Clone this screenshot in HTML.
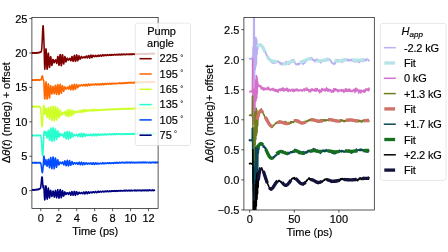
<!DOCTYPE html>
<html lang="en"><head><meta charset="utf-8"><title>Pump angle and applied field dependence</title>
<style>
html,body{margin:0;padding:0;background:#fff;}
body{width:448px;height:252px;overflow:hidden;font-family:"Liberation Sans",sans-serif;}
svg{display:block;}
</style></head><body>
<svg width="448" height="252" viewBox="0 0 448 252" font-family="Liberation Sans, sans-serif" font-size="11" fill="#000" stroke="#000" stroke-width="0.16" paint-order="stroke">
<rect x="0" y="0" width="448" height="252" fill="#fff" stroke="none"/>
<defs><clipPath id="cl"><rect x="31.90" y="17.60" width="126.20" height="191.00"/></clipPath>
<clipPath id="cr"><rect x="243.90" y="17.60" width="130.40" height="192.40"/></clipPath></defs>
<g clip-path="url(#cl)" fill="none" stroke-width="1.55" stroke-linejoin="round" stroke-linecap="butt">
<path d="M31.37,189.86L31.48,189.81L31.59,189.90L31.69,189.99L31.80,189.92L31.91,190.00L32.02,189.84L32.13,189.65L32.23,189.92L32.34,189.94L32.45,189.77L32.56,189.79L32.66,189.83L32.77,189.98L32.88,189.85L32.99,189.73L33.10,190.04L33.20,189.90L33.31,190.12L33.42,190.03L33.53,190.11L33.63,189.86L33.74,190.01L33.85,189.78L33.96,189.79L34.06,189.84L34.17,190.19L34.28,189.89L34.39,189.81L34.50,189.78L34.60,190.03L34.71,189.86L34.82,189.93L34.93,189.90L35.03,189.61L35.14,189.89L35.25,189.77L35.36,189.62L35.47,189.84L35.57,189.76L35.68,189.72L35.79,189.72L35.90,189.91L36.00,189.70L36.11,189.50L36.22,189.93L36.33,189.55L36.44,189.65L36.54,189.76L36.65,189.35L36.76,189.52L36.87,189.81L36.97,189.60L37.08,189.51L37.19,189.61L37.30,189.46L37.41,189.56L37.51,189.43L37.62,189.29L37.73,189.59L37.84,189.43L37.94,189.51L38.05,189.40L38.16,189.57L38.27,189.45L38.38,189.37L38.48,189.17L38.59,189.10L38.70,189.44L38.81,189.33L38.91,189.07L39.02,189.43L39.13,189.16L39.24,189.06L39.35,188.81L39.45,188.84L39.56,188.94L39.67,188.89L39.78,188.81L39.88,188.47L39.99,188.69L40.10,188.58L40.21,188.36L40.32,188.28L40.42,188.09L40.53,187.96L40.64,187.44L40.75,187.04L40.85,186.20L40.96,185.53L41.07,184.72L41.18,183.56L41.28,182.55L41.39,181.10L41.50,180.02L41.61,178.77L41.72,178.06L41.82,177.07L41.93,176.93L42.04,176.98L42.15,177.13L42.25,177.94L42.36,178.76L42.47,179.64L42.58,181.48L42.69,182.97L42.79,184.45L42.90,185.95L43.01,187.25L43.12,187.79L43.22,187.44L43.33,186.80L43.44,186.31L43.55,185.70L43.66,185.67L43.76,186.33L43.87,187.13L43.98,188.75L44.09,190.27L44.19,192.37L44.30,194.41L44.41,196.41L44.52,197.94L44.63,199.40L44.73,199.91L44.84,199.75L44.95,199.60L45.06,198.08L45.16,196.96L45.27,194.76L45.38,193.01L45.49,190.79L45.60,189.08L45.70,187.86L45.81,186.41L45.92,185.87L46.03,186.16L46.13,186.80L46.24,187.89L46.35,189.51L46.46,190.96L46.57,193.09L46.67,194.86L46.78,196.62L46.89,197.93L47.00,198.95L47.10,199.01L47.21,199.16L47.32,198.44L47.43,197.62L47.54,196.42L47.64,194.85L47.75,193.29L47.86,191.66L47.97,190.35L48.07,189.25L48.18,188.69L48.29,188.29L48.40,188.03L48.50,188.90L48.61,189.84L48.72,190.78L48.83,191.94L48.94,193.76L49.04,194.92L49.15,196.17L49.26,197.28L49.37,197.52L49.47,197.89L49.58,197.77L49.69,197.46L49.80,196.55L49.91,195.76L50.01,194.64L50.12,193.69L50.23,192.69L50.34,191.42L50.44,191.03L50.55,190.49L50.66,190.40L50.77,190.59L50.88,190.98L50.98,191.39L51.09,192.26L51.20,193.05L51.31,193.86L51.41,194.46L51.52,195.21L51.63,195.78L51.74,196.27L51.85,196.54L51.95,196.13L52.06,195.87L52.17,195.62L52.28,194.96L52.38,194.27L52.49,193.56L52.60,192.85L52.71,192.42L52.82,191.59L52.92,191.63L53.03,191.12L53.14,191.19L53.25,191.36L53.35,191.63L53.46,192.27L53.57,193.38L53.68,194.24L53.79,194.64L53.89,195.65L54.00,196.11L54.11,196.42L54.22,197.02L54.32,197.08L54.43,196.47L54.54,196.02L54.65,195.38L54.75,194.52L54.86,193.75L54.97,192.94L55.08,191.90L55.19,191.34L55.29,190.95L55.40,190.39L55.51,190.52L55.62,190.77L55.72,191.55L55.83,192.29L55.94,193.27L56.05,194.26L56.16,195.10L56.26,196.16L56.37,196.74L56.48,197.26L56.59,197.25L56.69,197.72L56.80,197.01L56.91,196.53L57.02,195.65L57.13,194.84L57.23,193.59L57.34,192.31L57.45,191.44L57.56,190.61L57.66,190.12L57.77,189.65L57.88,189.91L57.99,190.65L58.10,191.13L58.20,192.27L58.31,193.58L58.42,194.35L58.53,195.24L58.63,196.48L58.74,197.50L58.85,198.02L58.96,197.94L59.07,197.97L59.17,197.53L59.28,196.79L59.39,195.78L59.50,194.50L59.60,193.32L59.71,192.20L59.82,191.36L59.93,190.31L60.04,189.98L60.14,189.52L60.25,190.04L60.36,190.35L60.47,191.10L60.57,192.27L60.68,192.91L60.79,194.08L60.90,195.45L61.01,196.18L61.11,196.94L61.22,197.82L61.33,197.50L61.44,197.36L61.54,196.87L61.65,196.34L61.76,195.34L61.87,194.36L61.97,193.16L62.08,192.37L62.19,191.65L62.30,190.83L62.41,190.80L62.51,190.69L62.62,191.07L62.73,190.95L62.84,191.63L62.94,192.36L63.05,193.19L63.16,194.07L63.27,194.79L63.38,195.48L63.48,195.93L63.59,196.14L63.70,195.95L63.81,195.92L63.91,195.66L64.02,195.24L64.13,194.65L64.24,193.68L64.35,193.23L64.45,192.75L64.56,192.37L64.67,192.19L64.78,191.88L64.88,191.75L64.99,192.08L65.10,192.31L65.21,192.64L65.32,192.97L65.42,193.62L65.53,193.77L65.64,194.16L65.75,194.13L65.85,194.52L65.96,194.36L66.07,194.19L66.18,194.37L66.29,194.25L66.39,193.94L66.50,193.76L66.61,193.71L66.72,193.30L66.82,192.90L66.93,193.11L67.04,193.01L67.15,193.08L67.26,192.86L67.36,193.12L67.47,193.16L67.58,192.90L67.69,193.36L67.79,193.21L67.90,193.32L68.01,193.68L68.12,193.80L68.22,193.72L68.33,194.15L68.44,194.25L68.55,194.36L68.66,194.07L68.76,193.72L68.87,193.60L68.98,193.65L69.09,193.36L69.19,193.03L69.30,192.65L69.41,192.51L69.52,192.30L69.63,192.21L69.73,192.33L69.84,192.41L69.95,192.59L70.06,192.94L70.16,193.20L70.27,193.38L70.38,193.95L70.49,194.38L70.60,194.91L70.70,194.77L70.81,195.18L70.92,195.03L71.03,194.49L71.13,194.22L71.24,193.96L71.35,193.76L71.46,193.10L71.57,192.70L71.67,192.11L71.78,191.56L71.89,191.68L72.00,191.77L72.10,191.91L72.21,191.97L72.32,192.33L72.43,192.91L72.54,193.22L72.64,193.93L72.75,194.08L72.86,194.52L72.97,194.84L73.07,195.27L73.18,195.17L73.29,195.16L73.40,194.94L73.51,194.54L73.61,194.19L73.72,193.67L73.83,192.76L73.94,192.38L74.04,191.87L74.15,191.41L74.26,191.63L74.37,191.45L74.48,191.43L74.58,191.68L74.69,192.21L74.80,192.50L74.91,193.18L75.01,193.95L75.12,194.41L75.23,194.57L75.34,194.91L75.44,195.42L75.55,194.92L75.66,194.88L75.77,194.48L75.88,194.34L75.98,193.87L76.09,193.50L76.20,192.46L76.31,192.45L76.41,191.84L76.52,191.94L76.63,191.71L76.74,192.00L76.85,191.94L76.95,191.97L77.06,192.63L77.17,192.64L77.28,193.13L77.38,193.71L77.49,193.94L77.60,194.19L77.71,194.30L77.82,194.44L77.92,194.46L78.03,194.26L78.14,194.17L78.25,193.95L78.35,193.48L78.46,193.05L78.57,193.14L78.68,192.68L78.79,192.61L78.89,192.56L79.00,192.25L79.11,192.49L79.22,192.27L79.32,192.74L79.43,192.72L79.54,192.98L79.65,193.22L79.76,193.15L79.86,193.38L79.97,193.34L80.08,193.49L80.19,193.65L80.29,193.48L80.40,193.40L80.51,193.19L80.62,193.38L80.73,193.15L80.83,193.30L80.94,192.84L81.05,193.00L81.16,193.03L81.26,192.69L81.37,192.47L81.48,192.85L81.59,192.80L81.69,192.79L81.80,192.93L81.91,192.80L82.02,193.10L82.13,193.22L82.23,193.16L82.34,193.48L82.45,193.40L82.56,193.67L82.66,193.72L82.77,193.78L82.88,193.13L82.99,193.32L83.10,193.06L83.20,192.89L83.31,192.65L83.42,192.46L83.53,192.00L83.63,192.31L83.74,192.30L83.85,192.21L83.96,192.31L84.07,192.12L84.17,192.28L84.28,192.77L84.39,193.07L84.50,193.16L84.60,193.12L84.71,193.95L84.82,193.58L84.93,193.89L85.04,193.56L85.14,193.80L85.25,193.52L85.36,193.49L85.47,193.15L85.57,192.51L85.68,192.31L85.79,192.23L85.90,192.08L86.01,192.08L86.11,191.77L86.22,191.72L86.33,191.81L86.44,191.98L86.54,192.36L86.65,192.46L86.76,192.75L86.87,192.83L86.98,192.99L87.08,193.49L87.19,193.71L87.30,193.65L87.41,193.69L87.51,193.60L87.62,193.31L87.73,193.23L87.84,192.72L87.95,192.57L88.05,192.27L88.16,192.12L88.27,192.04L88.38,191.98L88.48,191.84L88.59,191.92L88.70,191.88L88.81,192.05L88.91,192.42L89.02,192.38L89.13,192.77L89.24,192.82L89.35,192.90L89.45,193.25L89.56,192.97L89.67,192.96L89.78,192.97L89.88,192.93L89.99,192.83L90.10,192.80L90.21,192.56L90.32,192.48L90.42,192.27L90.53,192.37L90.64,192.07L90.75,192.04L90.85,192.06L90.96,192.11L91.07,191.99L91.18,192.37L91.29,192.12L91.39,192.24L91.50,192.32L91.61,192.40L91.72,192.63L91.82,192.64L91.93,192.54L92.04,192.58L92.15,192.60L92.26,192.82L92.36,192.44L92.47,192.25L92.58,192.16L92.69,192.17L92.79,192.33L92.90,191.84L93.01,191.92L93.12,192.22L93.23,191.75L93.33,192.03L93.44,192.04L93.55,192.00L93.66,191.79L93.76,192.14L93.87,192.16L93.98,192.04L94.09,192.16L94.20,192.50L94.30,192.57L94.41,192.74L94.52,192.64L94.63,192.41L94.73,192.33L94.84,192.26L94.95,192.00L95.06,192.13L95.16,191.89L95.27,191.65L95.38,191.57L95.49,191.43L95.60,191.50L95.70,191.62L95.81,191.56L95.92,191.85L96.03,192.05L96.13,191.84L96.24,192.07L96.35,192.14L96.46,192.55L96.57,192.44L96.67,192.52L96.78,192.58L96.89,192.76L97.00,192.41L97.10,192.12L97.21,192.08L97.32,192.09L97.43,191.86L97.54,191.61L97.64,192.02L97.75,191.53L97.86,191.38L97.97,191.33L98.07,191.19L98.18,191.33L98.29,191.54L98.40,191.64L98.51,191.68L98.61,192.00L98.72,192.04L98.83,191.99L98.94,191.90L99.04,192.26L99.15,192.24L99.26,192.18L99.37,191.94L99.48,192.07L99.58,191.73L99.69,191.99L99.80,191.75L99.91,191.64L100.01,191.40L100.12,191.29L100.23,191.64L100.34,191.53L100.45,191.36L100.55,191.55L100.66,191.75L100.77,191.44L100.88,191.61L100.98,191.70L101.09,191.93L101.20,191.76L101.31,192.00L101.42,191.82L101.52,192.13L101.63,192.09L101.74,191.88L101.85,191.95L101.95,191.67L102.06,191.64L102.17,191.74L102.28,191.51L102.38,191.50L102.49,191.26L102.60,191.46L102.71,191.42L102.82,191.18L102.92,191.06L103.03,191.14L103.14,191.49L103.25,191.53L103.35,191.39L103.46,191.70L103.57,191.88L103.68,191.75L103.79,191.72L103.89,191.91L104.00,192.02L104.11,191.95L104.22,191.57L104.32,191.72L104.43,191.56L104.54,191.43L104.65,191.30L104.76,191.39L104.86,191.22L104.97,191.40L105.08,191.31L105.19,191.42L105.29,191.12L105.40,191.33L105.51,191.49L105.62,191.49L105.73,191.53L105.83,191.44L105.94,191.83L106.05,191.78L106.16,191.69L106.26,191.25L106.37,191.47L106.48,191.59L106.59,191.42L106.70,191.15L106.80,191.44L106.91,191.39L107.02,191.09L107.13,191.15L107.23,191.08L107.34,191.23L107.45,190.86L107.56,190.90L107.67,191.09L107.77,191.11L107.88,191.57L107.99,191.22L108.10,191.39L108.20,191.35L108.31,191.35L108.42,191.53L108.53,191.74L108.63,191.43L108.74,191.58L108.85,191.48L108.96,191.48L109.07,191.38L109.17,191.62L109.28,191.03L109.39,191.12L109.50,190.94L109.60,190.77L109.71,191.05L109.82,191.32L109.93,191.19L110.04,191.26L110.14,191.18L110.25,191.14L110.36,191.50L110.47,191.19L110.57,191.51L110.68,191.27L110.79,191.36L110.90,191.40L111.01,191.36L111.11,191.41L111.22,191.39L111.33,191.51L111.44,191.21L111.54,190.87L111.65,190.79L111.76,190.84L111.87,190.89L111.98,191.07L112.08,190.73L112.19,190.95L112.30,190.96L112.41,191.02L112.51,190.99L112.62,191.11L112.73,191.10L112.84,191.29L112.95,191.23L113.05,190.85L113.16,191.23L113.27,191.27L113.38,191.14L113.48,191.10L113.59,191.34L113.70,191.17L113.81,190.95L113.92,190.99L114.02,190.97L114.13,190.70L114.24,191.00L114.35,190.86L114.45,190.93L114.56,190.62L114.67,191.15L114.78,190.98L114.89,190.99L114.99,190.84L115.10,190.89L115.21,190.81L115.32,191.30L115.42,190.98L115.53,191.15L115.64,191.22L115.75,191.03L115.85,191.23L115.96,191.38L116.07,191.08L116.18,191.21L116.29,191.03L116.39,190.83L116.50,190.80L116.61,190.57L116.72,190.81L116.82,191.00L116.93,190.88L117.04,190.91L117.15,190.98L117.26,190.76L117.36,190.96L117.47,191.20L117.58,190.83L117.69,190.98L117.79,190.94L117.90,191.00L118.01,190.92L118.12,191.01L118.23,190.81L118.33,190.90L118.44,190.87L118.55,190.83L118.66,191.07L118.76,190.82L118.87,190.80L118.98,190.69L119.09,190.91L119.20,190.44L119.30,190.67L119.41,190.88L119.52,190.98L119.63,190.79L119.73,190.79L119.84,190.93L119.95,190.84L120.06,190.98L120.17,190.83L120.27,191.04L120.38,190.94L120.49,190.78L120.60,190.52L120.70,191.04L120.81,190.92L120.92,190.94L121.03,190.65L121.14,190.90L121.24,190.76L121.35,190.66L121.46,190.78L121.57,190.77L121.67,190.70L121.78,190.95L121.89,190.88L122.00,190.75L122.10,190.70L122.21,190.78L122.32,191.06L122.43,190.89L122.54,190.73L122.64,190.78L122.75,190.88L122.86,191.00L122.97,190.75L123.07,190.91L123.18,190.96L123.29,190.87L123.40,190.49L123.51,190.64L123.61,190.46L123.72,190.68L123.83,190.44L123.94,190.67L124.04,190.60L124.15,190.21L124.26,190.49L124.37,190.71L124.48,190.68L124.58,190.66L124.69,190.56L124.80,190.85L124.91,191.06L125.01,190.85L125.12,190.81L125.23,190.79L125.34,190.59L125.45,190.72L125.55,190.61L125.66,190.87L125.77,190.53L125.88,190.31L125.98,190.47L126.09,190.52L126.20,190.52L126.31,190.27L126.42,190.68L126.52,190.57L126.63,190.50L126.74,190.49L126.85,190.70L126.95,190.62L127.06,190.74L127.17,190.71L127.28,190.77L127.39,190.94L127.49,190.77L127.60,190.63L127.71,190.89L127.82,190.76L127.92,190.59L128.03,190.82L128.14,190.59L128.25,190.74L128.36,190.38L128.46,190.17L128.57,190.20L128.68,190.53L128.79,190.39L128.89,190.50L129.00,190.52L129.11,190.33L129.22,190.79L129.32,190.47L129.43,190.66L129.54,190.47L129.65,190.68L129.76,190.82L129.86,190.68L129.97,190.60L130.08,190.69L130.19,190.60L130.29,190.72L130.40,190.93L130.51,190.44L130.62,190.43L130.73,190.49L130.83,190.48L130.94,190.31L131.05,190.53L131.16,190.57L131.26,190.51L131.37,190.32L131.48,190.74L131.59,190.37L131.70,190.68L131.80,190.78L131.91,190.45L132.02,190.68L132.13,190.87L132.23,190.73L132.34,190.53L132.45,190.47L132.56,190.69L132.67,190.54L132.77,190.46L132.88,190.63L132.99,190.45L133.10,190.48L133.20,190.53L133.31,190.51L133.42,190.42L133.53,190.43L133.64,190.53L133.74,190.53L133.85,190.32L133.96,190.49L134.07,190.42L134.17,190.40L134.28,190.51L134.39,190.28L134.50,190.75L134.61,190.51L134.71,190.67L134.82,190.33L134.93,190.33L135.04,190.85L135.14,190.67L135.25,190.39L135.36,190.34L135.47,190.32L135.57,190.42L135.68,190.33L135.79,190.30L135.90,190.41L136.01,190.26L136.11,190.77L136.22,190.36L136.33,190.64L136.44,190.37L136.54,190.58L136.65,190.70L136.76,190.52L136.87,190.73L136.98,190.73L137.08,190.82L137.19,190.57L137.30,190.47L137.41,190.36L137.51,190.51L137.62,190.30L137.73,190.42L137.84,190.42L137.95,190.29L138.05,190.21L138.16,190.42L138.27,190.41L138.38,190.41L138.48,190.39L138.59,190.56L138.70,190.30L138.81,190.54L138.92,190.44L139.02,190.65L139.13,190.49L139.24,190.49L139.35,190.62L139.45,190.24L139.56,190.47L139.67,190.24L139.78,190.34L139.89,190.55L139.99,190.48L140.10,190.33L140.21,190.36L140.32,190.34L140.42,190.38L140.53,190.61L140.64,190.38L140.75,190.69L140.86,190.32L140.96,190.51L141.07,190.53L141.18,190.48L141.29,190.43L141.39,190.71L141.50,190.77L141.61,190.68L141.72,190.83L141.83,190.66L141.93,190.25L142.04,190.63L142.15,190.35L142.26,190.63L142.36,190.34L142.47,190.41L142.58,190.35L142.69,190.24L142.79,190.05L142.90,190.28L143.01,190.30L143.12,190.48L143.23,190.26L143.33,190.41L143.44,190.27L143.55,190.43L143.66,190.18L143.76,190.77L143.87,190.52L143.98,190.35L144.09,190.54L144.20,190.60L144.30,190.50L144.41,190.65L144.52,190.40L144.63,190.02L144.73,190.19L144.84,190.50L144.95,190.45L145.06,190.36L145.17,190.14L145.27,190.41L145.38,190.40L145.49,190.17L145.60,190.19L145.70,190.40L145.81,190.54L145.92,190.63L146.03,190.52L146.14,190.78L146.24,190.34L146.35,190.55L146.46,190.38L146.57,190.17L146.67,190.26L146.78,190.59L146.89,190.26L147.00,190.19L147.11,190.45L147.21,190.45L147.32,190.31L147.43,190.52L147.54,190.04L147.64,190.63L147.75,190.44L147.86,190.33L147.97,190.34L148.08,190.30L148.18,190.31L148.29,190.41L148.40,190.22L148.51,190.74L148.61,190.43L148.72,190.54L148.83,190.41L148.94,190.39L149.04,190.55L149.15,190.49L149.26,190.24L149.37,190.29L149.48,190.42L149.58,189.98L149.69,189.92L149.80,190.48L149.91,190.20L150.01,189.87L150.12,190.14L150.23,190.23L150.34,190.32L150.45,190.39L150.55,190.36L150.66,190.44L150.77,190.26L150.88,190.45L150.98,190.47L151.09,190.59L151.20,190.42L151.31,190.54L151.42,190.41L151.52,190.21L151.63,190.29L151.74,190.24L151.85,190.24L151.95,190.26L152.06,190.27L152.17,190.28L152.28,190.12L152.39,190.40L152.49,190.04L152.60,190.25L152.71,190.38L152.82,190.37L152.92,190.42L153.03,190.32L153.14,190.47L153.25,190.20L153.36,190.51L153.46,190.74L153.57,190.50L153.68,190.69L153.79,190.38L153.89,190.19L154.00,190.23L154.11,190.50L154.22,190.39L154.33,189.99L154.43,190.19L154.54,190.22L154.65,190.06L154.76,189.85" stroke="#000080"/>
<path d="M31.37,162.95L31.48,162.82L31.59,162.68L31.69,162.67L31.80,162.83L31.91,162.84L32.02,162.94L32.13,162.75L32.23,162.85L32.34,162.72L32.45,162.55L32.56,162.82L32.66,163.04L32.77,162.95L32.88,163.04L32.99,163.00L33.10,162.62L33.20,162.78L33.31,163.05L33.42,162.72L33.53,162.62L33.63,162.87L33.74,162.92L33.85,162.87L33.96,162.77L34.06,162.72L34.17,162.64L34.28,162.63L34.39,162.64L34.50,162.61L34.60,162.72L34.71,163.05L34.82,162.84L34.93,162.77L35.03,162.87L35.14,162.68L35.25,162.87L35.36,162.96L35.47,162.60L35.57,162.71L35.68,162.78L35.79,162.68L35.90,162.65L36.00,162.76L36.11,163.19L36.22,162.92L36.33,162.88L36.44,162.96L36.54,162.79L36.65,162.64L36.76,162.89L36.87,162.99L36.97,162.51L37.08,162.88L37.19,163.00L37.30,162.78L37.41,162.75L37.51,162.92L37.62,162.70L37.73,162.89L37.84,162.96L37.94,162.79L38.05,162.70L38.16,162.91L38.27,162.77L38.38,162.83L38.48,162.39L38.59,162.92L38.70,162.61L38.81,162.82L38.91,162.83L39.02,162.71L39.13,162.68L39.24,162.62L39.35,162.77L39.45,162.91L39.56,162.90L39.67,162.74L39.78,162.74L39.88,162.62L39.99,162.78L40.10,162.70L40.21,162.66L40.32,162.90L40.42,163.22L40.53,163.27L40.64,163.46L40.75,163.20L40.85,163.84L40.96,163.88L41.07,164.44L41.18,164.83L41.28,165.62L41.39,166.57L41.50,167.45L41.61,168.34L41.72,169.27L41.82,170.29L41.93,171.05L42.04,171.50L42.15,172.51L42.25,172.50L42.36,172.71L42.47,172.34L42.58,171.79L42.69,171.26L42.79,170.28L42.90,169.63L43.01,168.07L43.12,167.02L43.22,165.33L43.33,163.67L43.44,162.22L43.55,160.06L43.66,158.22L43.76,156.73L43.87,156.18L43.98,156.04L44.09,156.74L44.19,157.26L44.30,158.54L44.41,160.32L44.52,161.87L44.63,163.40L44.73,164.02L44.84,164.34L44.95,164.83L45.06,164.57L45.16,164.21L45.27,163.76L45.38,162.59L45.49,162.14L45.60,161.20L45.70,160.46L45.81,159.88L45.92,159.70L46.03,159.70L46.13,160.12L46.24,160.67L46.35,161.13L46.46,162.05L46.57,163.02L46.67,163.89L46.78,164.58L46.89,165.45L47.00,165.86L47.10,166.15L47.21,165.88L47.32,165.61L47.43,164.91L47.54,164.78L47.64,163.83L47.75,162.67L47.86,161.90L47.97,161.00L48.07,159.90L48.18,159.60L48.29,159.37L48.40,159.32L48.50,159.30L48.61,159.85L48.72,160.92L48.83,161.89L48.94,162.84L49.04,164.05L49.15,165.40L49.26,166.21L49.37,166.96L49.47,167.73L49.58,167.55L49.69,167.08L49.80,166.51L49.91,165.71L50.01,164.16L50.12,162.61L50.23,161.06L50.34,160.31L50.44,158.48L50.55,158.24L50.66,157.50L50.77,157.46L50.88,157.92L50.98,158.88L51.09,160.26L51.20,161.42L51.31,163.19L51.41,165.04L51.52,165.68L51.63,167.21L51.74,167.90L51.85,168.75L51.95,168.36L52.06,167.83L52.17,166.90L52.28,165.84L52.38,164.46L52.49,162.62L52.60,161.26L52.71,159.67L52.82,158.16L52.92,157.47L53.03,156.94L53.14,157.03L53.25,157.30L53.35,158.41L53.46,159.97L53.57,161.37L53.68,163.35L53.79,164.92L53.89,166.18L54.00,167.66L54.11,168.28L54.22,168.75L54.32,168.38L54.43,167.55L54.54,166.93L54.65,165.50L54.75,164.21L54.86,162.72L54.97,161.28L55.08,159.61L55.19,158.49L55.29,158.15L55.40,158.11L55.51,158.08L55.62,158.79L55.72,159.50L55.83,160.69L55.94,161.94L56.05,163.18L56.16,164.57L56.26,165.59L56.37,166.58L56.48,166.88L56.59,167.19L56.69,166.83L56.80,166.48L56.91,165.59L57.02,164.62L57.13,163.88L57.23,162.75L57.34,161.81L57.45,160.75L57.56,160.01L57.66,159.80L57.77,159.91L57.88,159.82L57.99,160.69L58.10,160.82L58.20,161.85L58.31,162.91L58.42,162.81L58.53,163.60L58.63,164.49L58.74,164.64L58.85,164.86L58.96,164.80L59.07,164.88L59.17,164.47L59.28,163.94L59.39,163.58L59.50,163.04L59.60,162.85L59.71,162.22L59.82,162.48L59.93,162.21L60.04,162.50L60.14,162.44L60.25,162.14L60.36,162.62L60.47,162.55L60.57,162.79L60.68,163.09L60.79,163.13L60.90,163.27L61.01,163.36L61.11,163.25L61.22,163.33L61.33,163.55L61.44,163.62L61.54,163.41L61.65,163.41L61.76,163.13L61.87,162.74L61.97,162.83L62.08,162.75L62.19,162.54L62.30,162.43L62.41,162.26L62.51,162.16L62.62,162.03L62.73,162.10L62.84,162.10L62.94,162.55L63.05,162.88L63.16,163.47L63.27,163.49L63.38,164.09L63.48,164.28L63.59,164.70L63.70,164.73L63.81,164.97L63.91,164.64L64.02,164.00L64.13,164.13L64.24,163.20L64.35,162.52L64.45,162.13L64.56,161.54L64.67,161.04L64.78,161.05L64.88,160.77L64.99,161.04L65.10,161.27L65.21,161.69L65.32,162.17L65.42,162.79L65.53,163.43L65.64,164.40L65.75,164.48L65.85,165.09L65.96,165.47L66.07,165.75L66.18,165.61L66.29,165.21L66.39,164.75L66.50,164.44L66.61,163.34L66.72,162.24L66.82,162.25L66.93,161.16L67.04,160.76L67.15,160.53L67.26,160.20L67.36,160.73L67.47,160.87L67.58,161.20L67.69,162.13L67.79,162.93L67.90,163.63L68.01,164.46L68.12,164.79L68.22,165.66L68.33,165.67L68.44,166.06L68.55,165.61L68.66,165.37L68.76,165.22L68.87,164.16L68.98,163.60L69.09,162.77L69.19,161.78L69.30,161.63L69.41,161.21L69.52,160.59L69.63,160.76L69.73,160.71L69.84,161.24L69.95,161.92L70.06,162.38L70.16,162.81L70.27,163.49L70.38,164.22L70.49,164.69L70.60,165.06L70.70,165.31L70.81,164.94L70.92,165.09L71.03,164.97L71.13,164.46L71.24,163.78L71.35,163.27L71.46,162.87L71.57,162.49L71.67,162.00L71.78,162.01L71.89,161.82L72.00,161.51L72.10,161.86L72.21,161.98L72.32,162.19L72.43,162.66L72.54,163.15L72.64,163.20L72.75,163.74L72.86,164.14L72.97,164.12L73.07,164.23L73.18,164.39L73.29,164.13L73.40,164.00L73.51,164.06L73.61,163.56L73.72,163.36L73.83,163.19L73.94,163.22L74.04,162.91L74.15,162.80L74.26,162.77L74.37,163.00L74.48,162.79L74.58,163.16L74.69,163.11L74.80,162.98L74.91,163.39L75.01,163.45L75.12,163.27L75.23,163.56L75.34,163.59L75.44,163.54L75.55,163.42L75.66,163.92L75.77,163.67L75.88,163.65L75.98,163.59L76.09,163.46L76.20,163.36L76.31,163.07L76.41,163.15L76.52,162.90L76.63,162.79L76.74,162.93L76.85,162.81L76.95,162.63L77.06,162.94L77.17,163.24L77.28,163.33L77.38,163.66L77.49,163.68L77.60,163.78L77.71,164.19L77.82,164.20L77.92,164.03L78.03,164.24L78.14,164.02L78.25,164.03L78.35,163.77L78.46,163.46L78.57,162.78L78.68,162.91L78.79,162.71L78.89,162.55L79.00,162.39L79.11,162.25L79.22,162.39L79.32,162.26L79.43,162.76L79.54,162.85L79.65,163.33L79.76,163.60L79.86,164.20L79.97,164.25L80.08,164.43L80.19,164.56L80.29,164.86L80.40,164.32L80.51,164.34L80.62,164.10L80.73,163.78L80.83,163.44L80.94,163.00L81.05,162.95L81.16,162.63L81.26,162.26L81.37,162.18L81.48,162.26L81.59,162.39L81.69,162.62L81.80,162.78L81.91,162.91L82.02,163.60L82.13,163.56L82.23,163.99L82.34,164.45L82.45,164.44L82.56,164.87L82.66,164.89L82.77,164.71L82.88,164.38L82.99,164.10L83.10,163.82L83.20,163.41L83.31,163.44L83.42,162.77L83.53,162.85L83.63,162.60L83.74,162.51L83.85,162.66L83.96,162.80L84.07,162.92L84.17,163.00L84.28,163.15L84.39,163.41L84.50,163.88L84.60,164.06L84.71,164.23L84.82,164.12L84.93,164.53L85.04,164.00L85.14,164.18L85.25,164.10L85.36,163.77L85.47,163.49L85.57,163.41L85.68,163.13L85.79,163.13L85.90,162.86L86.01,162.80L86.11,162.99L86.22,162.78L86.33,163.04L86.44,163.15L86.54,163.42L86.65,163.45L86.76,163.41L86.87,163.83L86.98,163.62L87.08,163.72L87.19,163.76L87.30,164.14L87.41,163.81L87.51,163.65L87.62,163.81L87.73,163.62L87.84,163.93L87.95,163.40L88.05,163.55L88.16,163.26L88.27,163.64L88.38,163.23L88.48,163.35L88.59,163.20L88.70,163.48L88.81,163.47L88.91,163.08L89.02,163.61L89.13,163.66L89.24,163.67L89.35,163.85L89.45,163.58L89.56,163.55L89.67,163.96L89.78,164.12L89.88,163.66L89.99,163.62L90.10,163.59L90.21,163.45L90.32,163.64L90.42,163.42L90.53,163.49L90.64,163.40L90.75,162.96L90.85,163.17L90.96,162.72L91.07,163.10L91.18,163.29L91.29,163.19L91.39,163.18L91.50,163.53L91.61,163.95L91.72,163.85L91.82,163.81L91.93,164.18L92.04,164.26L92.15,163.98L92.26,164.05L92.36,164.14L92.47,163.89L92.58,163.79L92.69,163.45L92.79,163.31L92.90,162.99L93.01,162.93L93.12,163.19L93.23,162.85L93.33,162.80L93.44,162.93L93.55,162.96L93.66,163.35L93.76,163.60L93.87,163.50L93.98,163.99L94.09,164.33L94.20,163.98L94.30,164.33L94.41,164.30L94.52,164.45L94.63,164.36L94.73,164.21L94.84,163.93L94.95,163.63L95.06,163.84L95.16,163.19L95.27,163.32L95.38,163.18L95.49,162.85L95.60,162.94L95.70,163.20L95.81,162.77L95.92,163.30L96.03,163.28L96.13,163.45L96.24,163.44L96.35,163.87L96.46,163.77L96.57,164.13L96.67,163.90L96.78,164.19L96.89,164.09L97.00,163.68L97.10,163.82L97.21,163.74L97.32,163.29L97.43,163.45L97.54,163.52L97.64,163.20L97.75,163.43L97.86,163.05L97.97,163.03L98.07,163.32L98.18,163.38L98.29,163.32L98.40,163.43L98.51,163.66L98.61,163.51L98.72,163.98L98.83,163.80L98.94,163.84L99.04,163.85L99.15,163.77L99.26,163.99L99.37,163.68L99.48,163.74L99.58,163.74L99.69,163.77L99.80,163.66L99.91,163.35L100.01,163.49L100.12,163.28L100.23,163.09L100.34,163.08L100.45,163.02L100.55,163.33L100.66,163.50L100.77,163.24L100.88,163.42L100.98,163.38L101.09,163.62L101.20,163.50L101.31,163.60L101.42,163.65L101.52,163.68L101.63,163.68L101.74,163.67L101.85,163.61L101.95,163.43L102.06,163.57L102.17,163.15L102.28,163.35L102.38,163.12L102.49,163.23L102.60,163.22L102.71,162.86L102.82,163.23L102.92,163.41L103.03,163.37L103.14,163.38L103.25,163.07L103.35,163.44L103.46,163.40L103.57,163.76L103.68,163.60L103.79,163.57L103.89,163.40L104.00,163.76L104.11,163.52L104.22,163.51L104.32,163.64L104.43,163.41L104.54,163.36L104.65,163.59L104.76,163.08L104.86,163.04L104.97,163.16L105.08,163.28L105.19,162.87L105.29,163.08L105.40,163.02L105.51,163.03L105.62,163.39L105.73,163.26L105.83,163.49L105.94,163.52L106.05,163.57L106.16,163.58L106.26,163.41L106.37,163.54L106.48,163.54L106.59,163.49L106.70,163.33L106.80,163.43L106.91,163.29L107.02,163.14L107.13,163.15L107.23,163.03L107.34,163.08L107.45,162.67L107.56,162.78L107.67,162.95L107.77,163.08L107.88,162.80L107.99,163.16L108.10,163.29L108.20,163.30L108.31,163.36L108.42,163.23L108.53,163.47L108.63,163.15L108.74,163.57L108.85,163.29L108.96,163.49L109.07,162.98L109.17,163.23L109.28,163.10L109.39,162.88L109.50,162.76L109.60,163.07L109.71,162.92L109.82,163.08L109.93,162.86L110.04,162.93L110.14,163.02L110.25,163.13L110.36,163.16L110.47,163.28L110.57,163.15L110.68,163.05L110.79,163.61L110.90,163.36L111.01,163.40L111.11,163.23L111.22,163.41L111.33,163.23L111.44,163.29L111.54,162.95L111.65,162.96L111.76,162.93L111.87,162.79L111.98,162.84L112.08,163.01L112.19,162.68L112.30,162.74L112.41,162.84L112.51,162.72L112.62,162.74L112.73,163.15L112.84,163.17L112.95,162.87L113.05,162.94L113.16,163.29L113.27,163.37L113.38,163.29L113.48,163.24L113.59,163.36L113.70,163.06L113.81,163.20L113.92,163.12L114.02,162.73L114.13,162.91L114.24,162.76L114.35,162.62L114.45,162.57L114.56,162.74L114.67,162.70L114.78,162.86L114.89,162.51L114.99,162.73L115.10,163.05L115.21,162.93L115.32,162.87L115.42,162.95L115.53,162.77L115.64,162.85L115.75,163.13L115.85,163.04L115.96,163.18L116.07,162.90L116.18,162.86L116.29,162.41L116.39,162.75L116.50,163.03L116.61,162.77L116.72,162.62L116.82,162.81L116.93,162.75L117.04,162.69L117.15,162.61L117.26,162.72L117.36,162.87L117.47,162.66L117.58,162.91L117.69,162.94L117.79,163.11L117.90,163.04L118.01,162.83L118.12,163.16L118.23,162.91L118.33,162.76L118.44,162.88L118.55,162.74L118.66,162.90L118.76,162.48L118.87,162.47L118.98,162.57L119.09,162.84L119.20,162.72L119.30,162.41L119.41,162.31L119.52,162.55L119.63,162.44L119.73,162.76L119.84,162.73L119.95,162.74L120.06,162.71L120.17,163.03L120.27,162.68L120.38,162.62L120.49,162.99L120.60,163.01L120.70,162.72L120.81,162.84L120.92,163.06L121.03,162.53L121.14,162.59L121.24,162.65L121.35,162.23L121.46,162.50L121.57,162.63L121.67,162.50L121.78,162.68L121.89,162.66L122.00,162.52L122.10,162.69L122.21,162.71L122.32,162.43L122.43,162.58L122.54,162.62L122.64,162.68L122.75,162.69L122.86,162.54L122.97,162.74L123.07,162.44L123.18,162.83L123.29,162.69L123.40,162.82L123.51,162.62L123.61,162.46L123.72,162.29L123.83,162.59L123.94,162.48L124.04,162.54L124.15,162.61L124.26,162.70L124.37,162.54L124.48,162.84L124.58,162.60L124.69,162.65L124.80,162.78L124.91,162.86L125.01,162.94L125.12,162.45L125.23,162.93L125.34,162.48L125.45,162.60L125.55,162.71L125.66,162.80L125.77,162.43L125.88,162.29L125.98,162.66L126.09,162.54L126.20,162.32L126.31,162.42L126.42,162.17L126.52,162.57L126.63,162.43L126.74,162.73L126.85,162.25L126.95,162.72L127.06,162.97L127.17,162.69L127.28,162.71L127.39,162.41L127.49,162.76L127.60,162.71L127.71,162.60L127.82,162.43L127.92,162.65L128.03,162.45L128.14,162.49L128.25,162.58L128.36,162.49L128.46,162.48L128.57,162.61L128.68,162.28L128.79,162.67L128.89,162.30L129.00,162.35L129.11,162.54L129.22,162.67L129.32,162.63L129.43,162.55L129.54,162.54L129.65,162.63L129.76,162.54L129.86,162.77L129.97,162.65L130.08,162.91L130.19,162.53L130.29,162.60L130.40,162.65L130.51,162.38L130.62,162.42L130.73,162.92L130.83,162.46L130.94,162.68L131.05,162.29L131.16,162.08L131.26,162.55L131.37,162.48L131.48,162.55L131.59,162.49L131.70,162.48L131.80,162.41L131.91,162.78L132.02,162.42L132.13,162.81L132.23,162.63L132.34,162.49L132.45,162.54L132.56,162.77L132.67,162.71L132.77,162.64L132.88,162.55L132.99,162.33L133.10,162.68L133.20,162.39L133.31,162.35L133.42,162.36L133.53,162.38L133.64,162.23L133.74,162.41L133.85,162.38L133.96,162.45L134.07,162.30L134.17,162.88L134.28,162.43L134.39,162.68L134.50,162.69L134.61,162.80L134.71,162.93L134.82,162.69L134.93,162.72L135.04,162.51L135.14,162.78L135.25,162.31L135.36,162.45L135.47,162.51L135.57,162.56L135.68,162.56L135.79,162.61L135.90,162.52L136.01,162.45L136.11,162.50L136.22,162.71L136.33,162.57L136.44,162.69L136.54,162.56L136.65,162.32L136.76,162.53L136.87,162.68L136.98,162.88L137.08,162.84L137.19,162.87L137.30,162.48L137.41,162.68L137.51,162.53L137.62,162.60L137.73,162.47L137.84,162.25L137.95,162.54L138.05,162.48L138.16,162.55L138.27,162.30L138.38,162.60L138.48,162.64L138.59,162.70L138.70,162.73L138.81,162.47L138.92,162.18L139.02,162.74L139.13,162.47L139.24,162.58L139.35,162.79L139.45,162.66L139.56,162.64L139.67,162.68L139.78,162.26L139.89,162.82L139.99,162.44L140.10,162.42L140.21,162.54L140.32,162.41L140.42,162.29L140.53,162.40L140.64,162.36L140.75,162.33L140.86,162.77L140.96,162.26L141.07,162.16L141.18,162.39L141.29,162.41L141.39,162.80L141.50,162.62L141.61,162.73L141.72,162.70L141.83,162.45L141.93,162.71L142.04,162.59L142.15,162.83L142.26,162.54L142.36,162.47L142.47,162.57L142.58,162.55L142.69,162.14L142.79,162.60L142.90,162.57L143.01,162.54L143.12,162.25L143.23,162.13L143.33,162.43L143.44,162.61L143.55,162.59L143.66,162.39L143.76,162.71L143.87,162.37L143.98,162.38L144.09,162.58L144.20,162.49L144.30,162.46L144.41,162.32L144.52,162.69L144.63,162.32L144.73,162.53L144.84,162.57L144.95,162.42L145.06,162.45L145.17,162.56L145.27,162.65L145.38,162.56L145.49,162.21L145.60,162.15L145.70,162.37L145.81,162.32L145.92,162.60L146.03,162.56L146.14,162.52L146.24,162.74L146.35,162.73L146.46,162.57L146.57,162.63L146.67,162.72L146.78,162.48L146.89,162.56L147.00,162.34L147.11,162.47L147.21,162.49L147.32,162.41L147.43,162.44L147.54,162.50L147.64,162.46L147.75,162.30L147.86,162.33L147.97,162.25L148.08,162.72L148.18,162.55L148.29,162.58L148.40,162.51L148.51,162.62L148.61,162.65L148.72,162.46L148.83,162.55L148.94,162.74L149.04,162.35L149.15,162.38L149.26,162.60L149.37,162.36L149.48,162.57L149.58,162.27L149.69,162.45L149.80,162.53L149.91,162.46L150.01,162.52L150.12,162.38L150.23,162.39L150.34,162.43L150.45,162.55L150.55,163.04L150.66,162.50L150.77,162.82L150.88,162.51L150.98,162.39L151.09,162.53L151.20,162.63L151.31,162.59L151.42,162.57L151.52,162.61L151.63,162.59L151.74,162.62L151.85,162.27L151.95,162.43L152.06,162.27L152.17,162.44L152.28,162.38L152.39,162.42L152.49,162.33L152.60,162.29L152.71,162.40L152.82,162.56L152.92,162.60L153.03,162.25L153.14,162.57L153.25,162.59L153.36,162.34L153.46,162.40L153.57,162.48L153.68,162.61L153.79,162.18L153.89,162.46L154.00,162.41L154.11,162.50L154.22,162.66L154.33,162.63L154.43,162.35L154.54,162.34L154.65,162.43L154.76,162.57L154.86,162.62L154.97,162.47L155.08,162.66L155.19,162.32L155.30,162.31L155.40,162.08L155.51,162.39L155.62,162.63L155.73,162.69L155.83,163.08L155.94,162.65L156.05,162.57L156.16,162.39L156.26,162.42L156.37,162.40L156.48,162.44L156.59,162.34L156.70,162.20L156.80,162.57L156.91,162.46L157.02,162.60L157.13,162.15L157.23,162.20L157.34,162.30L157.45,162.62L157.56,162.43L157.67,162.52L157.77,162.49L157.88,162.55L157.99,162.46L158.10,162.61L158.20,162.43L158.31,162.52L158.42,162.59L158.53,162.55L158.64,162.58L158.74,162.36L158.85,162.51L158.96,162.40L159.07,162.48L159.17,162.63L159.28,162.26L159.39,162.55L159.50,162.29L159.61,162.34L159.71,162.67L159.82,162.58L159.93,162.53L160.04,162.60L160.14,162.68L160.25,162.41L160.36,162.58L160.47,162.49L160.58,162.62" stroke="#004cff"/>
<path d="M31.37,135.55L31.48,135.65L31.59,135.46L31.69,135.43L31.80,135.52L31.91,135.60L32.02,135.40L32.13,135.11L32.23,135.53L32.34,135.43L32.45,135.43L32.56,135.87L32.66,135.46L32.77,135.59L32.88,135.27L32.99,135.52L33.10,135.60L33.20,135.52L33.31,135.46L33.42,135.57L33.53,135.49L33.63,135.69L33.74,135.52L33.85,135.36L33.96,135.18L34.06,135.38L34.17,135.44L34.28,135.30L34.39,135.33L34.50,135.23L34.60,135.32L34.71,135.50L34.82,135.44L34.93,135.46L35.03,135.44L35.14,135.45L35.25,135.60L35.36,135.80L35.47,135.58L35.57,135.79L35.68,135.47L35.79,135.48L35.90,135.74L36.00,135.38L36.11,135.35L36.22,135.47L36.33,135.23L36.44,135.20L36.54,135.66L36.65,135.33L36.76,135.42L36.87,135.42L36.97,135.34L37.08,135.59L37.19,135.57L37.30,135.61L37.41,135.60L37.51,135.50L37.62,135.70L37.73,135.64L37.84,135.39L37.94,135.49L38.05,135.42L38.16,135.77L38.27,135.60L38.38,135.57L38.48,135.48L38.59,135.57L38.70,135.34L38.81,135.49L38.91,135.48L39.02,135.48L39.13,135.38L39.24,135.55L39.35,135.31L39.45,135.41L39.56,135.46L39.67,135.48L39.78,135.41L39.88,135.33L39.99,135.35L40.10,135.45L40.21,135.39L40.32,135.53L40.42,135.40L40.53,135.67L40.64,136.09L40.75,135.74L40.85,136.17L40.96,136.72L41.07,137.05L41.18,137.80L41.28,138.19L41.39,139.48L41.50,141.07L41.61,142.26L41.72,144.10L41.82,145.61L41.93,148.00L42.04,150.11L42.15,151.57L42.25,153.22L42.36,154.48L42.47,155.56L42.58,155.51L42.69,155.15L42.79,155.02L42.90,153.42L43.01,152.17L43.12,149.91L43.22,148.15L43.33,146.02L43.44,143.47L43.55,141.07L43.66,138.71L43.76,136.15L43.87,134.34L43.98,133.02L44.09,131.45L44.19,131.29L44.30,131.26L44.41,131.42L44.52,132.31L44.63,133.06L44.73,133.75L44.84,134.48L44.95,134.90L45.06,134.98L45.16,135.17L45.27,134.71L45.38,134.18L45.49,133.81L45.60,132.97L45.70,132.58L45.81,131.84L45.92,131.70L46.03,131.75L46.13,132.18L46.24,132.39L46.35,133.15L46.46,133.69L46.57,134.65L46.67,135.60L46.78,136.13L46.89,136.82L47.00,137.51L47.10,137.52L47.21,137.77L47.32,137.56L47.43,137.05L47.54,136.51L47.64,135.61L47.75,134.59L47.86,133.30L47.97,132.29L48.07,131.65L48.18,130.64L48.29,130.44L48.40,130.25L48.50,130.41L48.61,131.09L48.72,131.70L48.83,133.23L48.94,134.83L49.04,135.91L49.15,137.56L49.26,138.76L49.37,140.07L49.47,139.98L49.58,140.06L49.69,139.64L49.80,138.73L49.91,137.36L50.01,136.08L50.12,134.23L50.23,132.76L50.34,131.09L50.44,129.53L50.55,128.66L50.66,128.41L50.77,128.15L50.88,128.76L50.98,129.87L51.09,131.10L51.20,132.95L51.31,135.01L51.41,136.83L51.52,138.12L51.63,140.05L51.74,140.79L51.85,141.23L51.95,141.16L52.06,140.82L52.17,139.56L52.28,137.95L52.38,136.03L52.49,134.29L52.60,132.44L52.71,130.38L52.82,128.97L52.92,128.13L53.03,127.86L53.14,127.83L53.25,128.55L53.35,129.59L53.46,131.44L53.57,133.02L53.68,134.94L53.79,136.90L53.89,138.32L54.00,139.63L54.11,140.54L54.22,140.77L54.32,140.87L54.43,140.01L54.54,138.84L54.65,137.45L54.75,135.70L54.86,134.35L54.97,132.77L55.08,131.09L55.19,129.95L55.29,128.99L55.40,128.96L55.51,129.38L55.62,129.74L55.72,130.98L55.83,132.34L55.94,133.15L56.05,134.97L56.16,136.31L56.26,137.55L56.37,138.29L56.48,139.11L56.59,139.18L56.69,139.35L56.80,138.86L56.91,137.59L57.02,136.52L57.13,135.46L57.23,134.27L57.34,133.13L57.45,132.29L57.56,131.22L57.66,130.93L57.77,130.86L57.88,131.09L57.99,131.49L58.10,132.29L58.20,133.11L58.31,134.33L58.42,134.98L58.53,135.54L58.63,136.60L58.74,137.00L58.85,137.08L58.96,137.09L59.07,136.95L59.17,136.94L59.28,136.15L59.39,135.87L59.50,135.28L59.60,134.57L59.71,134.27L59.82,133.79L59.93,133.24L60.04,133.53L60.14,133.58L60.25,133.96L60.36,134.12L60.47,134.43L60.57,134.61L60.68,134.94L60.79,135.10L60.90,135.22L61.01,135.48L61.11,135.65L61.22,135.70L61.33,135.44L61.44,135.48L61.54,135.28L61.65,135.19L61.76,135.29L61.87,134.98L61.97,135.12L62.08,134.36L62.19,134.31L62.30,134.32L62.41,134.29L62.51,133.94L62.62,134.24L62.73,134.13L62.84,134.07L62.94,134.45L63.05,134.91L63.16,135.14L63.27,135.93L63.38,136.21L63.48,136.76L63.59,137.14L63.70,137.13L63.81,137.36L63.91,136.75L64.02,136.75L64.13,135.83L64.24,135.63L64.35,134.64L64.45,134.18L64.56,133.53L64.67,132.76L64.78,132.31L64.88,132.45L64.99,132.16L65.10,132.78L65.21,133.18L65.32,133.86L65.42,134.67L65.53,135.94L65.64,136.32L65.75,137.28L65.85,138.07L65.96,138.58L66.07,138.85L66.18,138.68L66.29,138.00L66.39,137.49L66.50,136.77L66.61,135.70L66.72,134.35L66.82,133.64L66.93,132.80L67.04,131.82L67.15,131.52L67.26,131.45L67.36,131.72L67.47,132.33L67.58,133.00L67.69,133.82L67.79,134.83L67.90,135.82L68.01,136.82L68.12,137.74L68.22,138.41L68.33,138.98L68.44,139.25L68.55,138.78L68.66,138.35L68.76,137.57L68.87,136.60L68.98,135.74L69.09,134.71L69.19,133.62L69.30,132.79L69.41,132.33L69.52,131.83L69.63,131.89L69.73,132.24L69.84,132.55L69.95,132.94L70.06,134.15L70.16,134.75L70.27,135.60L70.38,136.39L70.49,137.41L70.60,137.46L70.70,138.00L70.81,138.08L70.92,137.86L71.03,137.32L71.13,136.83L71.24,136.17L71.35,135.21L71.46,134.78L71.57,134.17L71.67,133.35L71.78,133.00L71.89,132.76L72.00,133.11L72.10,132.98L72.21,133.43L72.32,133.71L72.43,134.70L72.54,135.04L72.64,135.63L72.75,136.27L72.86,136.48L72.97,136.40L73.07,136.72L73.18,136.70L73.29,136.29L73.40,136.03L73.51,135.73L73.61,135.68L73.72,135.26L73.83,134.82L73.94,134.86L74.04,134.73L74.15,134.41L74.26,134.29L74.37,134.75L74.48,135.06L74.58,135.00L74.69,135.06L74.80,135.06L74.91,135.07L75.01,135.30L75.12,135.47L75.23,135.42L75.34,135.64L75.44,135.53L75.55,135.63L75.66,135.11L75.77,135.35L75.88,135.53L75.98,135.46L76.09,135.26L76.20,135.31L76.31,135.04L76.41,134.90L76.52,134.54L76.63,134.65L76.74,134.66L76.85,134.75L76.95,134.79L77.06,134.75L77.17,134.96L77.28,134.98L77.38,135.50L77.49,135.49L77.60,135.85L77.71,136.08L77.82,136.51L77.92,136.44L78.03,136.08L78.14,135.84L78.25,135.79L78.35,135.41L78.46,135.25L78.57,134.89L78.68,134.59L78.79,134.05L78.89,133.93L79.00,133.88L79.11,133.87L79.22,133.82L79.32,134.05L79.43,134.51L79.54,134.48L79.65,135.11L79.76,135.56L79.86,135.73L79.97,136.13L80.08,136.55L80.19,136.60L80.29,136.86L80.40,136.68L80.51,136.70L80.62,135.83L80.73,135.89L80.83,135.04L80.94,134.80L81.05,134.39L81.16,133.91L81.26,133.57L81.37,133.38L81.48,133.20L81.59,133.54L81.69,133.73L81.80,134.32L81.91,134.57L82.02,135.14L82.13,135.72L82.23,136.10L82.34,136.46L82.45,136.67L82.56,136.76L82.66,136.87L82.77,136.75L82.88,136.24L82.99,136.24L83.10,135.64L83.20,134.86L83.31,135.06L83.42,134.37L83.53,133.85L83.63,134.01L83.74,133.29L83.85,134.11L83.96,133.65L84.07,133.88L84.17,134.29L84.28,134.82L84.39,135.10L84.50,135.63L84.60,135.67L84.71,136.19L84.82,136.20L84.93,136.06L85.04,136.33L85.14,136.10L85.25,135.82L85.36,135.80L85.47,135.15L85.57,135.00L85.68,135.02L85.79,134.58L85.90,134.53L86.01,134.42L86.11,134.28L86.22,134.44L86.33,134.29L86.44,134.68L86.54,134.59L86.65,134.93L86.76,134.96L86.87,135.32L86.98,135.44L87.08,135.61L87.19,135.39L87.30,135.34L87.41,135.12L87.51,135.18L87.62,135.26L87.73,135.24L87.84,135.05L87.95,135.02L88.05,134.71L88.16,134.72L88.27,134.93L88.38,134.87L88.48,134.54L88.59,134.70L88.70,134.80L88.81,134.62L88.91,134.92L89.02,134.98L89.13,135.09L89.24,135.41L89.35,135.07L89.45,135.47L89.56,135.43L89.67,135.50L89.78,135.28L89.88,135.37L89.99,135.29L90.10,135.45L90.21,135.08L90.32,135.15L90.42,134.72L90.53,134.57L90.64,134.50L90.75,134.09L90.85,134.27L90.96,134.25L91.07,134.37L91.18,134.52L91.29,134.48L91.39,134.64L91.50,135.19L91.61,135.02L91.72,135.28L91.82,135.36L91.93,135.53L92.04,135.83L92.15,135.81L92.26,135.28L92.36,135.38L92.47,135.46L92.58,134.99L92.69,134.87L92.79,134.87L92.90,134.73L93.01,134.47L93.12,134.07L93.23,134.06L93.33,134.11L93.44,134.11L93.55,134.20L93.66,134.81L93.76,134.76L93.87,135.08L93.98,135.38L94.09,135.48L94.20,135.59L94.30,135.72L94.41,135.94L94.52,135.77L94.63,135.29L94.73,135.59L94.84,135.47L94.95,134.93L95.06,134.62L95.16,134.39L95.27,134.41L95.38,133.92L95.49,134.08L95.60,134.09L95.70,134.05L95.81,134.08L95.92,134.11L96.03,134.33L96.13,134.66L96.24,134.75L96.35,135.10L96.46,135.16L96.57,135.64L96.67,135.75L96.78,135.40L96.89,135.68L97.00,135.42L97.10,135.24L97.21,135.12L97.32,134.92L97.43,134.44L97.54,134.86L97.64,134.20L97.75,133.89L97.86,134.17L97.97,134.17L98.07,134.10L98.18,134.01L98.29,134.57L98.40,134.51L98.51,134.68L98.61,134.70L98.72,134.88L98.83,134.90L98.94,135.13L99.04,135.09L99.15,135.20L99.26,135.17L99.37,135.03L99.48,134.95L99.58,135.01L99.69,134.49L99.80,134.65L99.91,134.74L100.01,134.28L100.12,134.49L100.23,134.26L100.34,134.33L100.45,134.30L100.55,134.35L100.66,134.53L100.77,134.52L100.88,134.30L100.98,135.04L101.09,134.78L101.20,134.80L101.31,135.09L101.42,135.17L101.52,134.64L101.63,135.00L101.74,134.58L101.85,134.75L101.95,134.73L102.06,134.58L102.17,134.46L102.28,134.28L102.38,134.31L102.49,134.30L102.60,134.25L102.71,134.06L102.82,134.16L102.92,134.47L103.03,134.48L103.14,134.41L103.25,134.64L103.35,134.70L103.46,134.87L103.57,134.83L103.68,134.78L103.79,134.73L103.89,134.88L104.00,134.55L104.11,134.83L104.22,134.26L104.32,134.51L104.43,134.49L104.54,134.55L104.65,134.81L104.76,134.33L104.86,134.22L104.97,133.92L105.08,134.41L105.19,133.93L105.29,134.30L105.40,134.21L105.51,134.78L105.62,134.46L105.73,134.62L105.83,134.55L105.94,134.71L106.05,134.95L106.16,134.66L106.26,134.70L106.37,134.69L106.48,134.58L106.59,134.50L106.70,134.59L106.80,134.70L106.91,134.61L107.02,134.11L107.13,134.13L107.23,134.16L107.34,134.21L107.45,134.13L107.56,134.15L107.67,134.25L107.77,134.37L107.88,134.01L107.99,134.38L108.10,134.60L108.20,134.78L108.31,134.76L108.42,134.59L108.53,134.61L108.63,134.76L108.74,134.69L108.85,134.70L108.96,134.75L109.07,134.31L109.17,134.36L109.28,133.95L109.39,134.36L109.50,134.19L109.60,133.99L109.71,134.13L109.82,134.30L109.93,134.25L110.04,134.13L110.14,134.16L110.25,134.29L110.36,134.21L110.47,134.29L110.57,134.46L110.68,134.57L110.79,134.65L110.90,134.55L111.01,134.50L111.11,134.60L111.22,134.50L111.33,134.55L111.44,134.64L111.54,134.50L111.65,134.15L111.76,134.12L111.87,133.88L111.98,134.07L112.08,133.92L112.19,133.85L112.30,133.92L112.41,134.20L112.51,134.19L112.62,134.21L112.73,134.46L112.84,134.31L112.95,134.29L113.05,134.57L113.16,134.24L113.27,134.60L113.38,134.58L113.48,134.56L113.59,134.59L113.70,134.36L113.81,134.35L113.92,134.03L114.02,134.12L114.13,134.06L114.24,134.12L114.35,134.26L114.45,134.04L114.56,134.16L114.67,133.90L114.78,134.09L114.89,133.88L114.99,134.08L115.10,134.13L115.21,134.29L115.32,134.35L115.42,134.33L115.53,134.32L115.64,134.58L115.75,134.39L115.85,134.05L115.96,134.42L116.07,134.39L116.18,134.40L116.29,134.45L116.39,133.98L116.50,134.10L116.61,134.01L116.72,133.74L116.82,133.63L116.93,134.14L117.04,133.86L117.15,133.96L117.26,134.04L117.36,134.08L117.47,134.21L117.58,134.03L117.69,134.22L117.79,134.30L117.90,134.19L118.01,134.26L118.12,134.32L118.23,134.32L118.33,134.07L118.44,134.21L118.55,134.24L118.66,134.30L118.76,134.17L118.87,134.23L118.98,134.01L119.09,133.96L119.20,134.29L119.30,133.98L119.41,133.90L119.52,134.00L119.63,134.21L119.73,133.92L119.84,134.27L119.95,134.40L120.06,134.42L120.17,134.29L120.27,134.17L120.38,134.15L120.49,134.29L120.60,134.48L120.70,134.37L120.81,134.36L120.92,134.20L121.03,134.39L121.14,134.06L121.24,133.93L121.35,134.01L121.46,133.89L121.57,134.09L121.67,134.17L121.78,134.06L121.89,133.82L122.00,133.88L122.10,134.15L122.21,133.94L122.32,134.22L122.43,133.98L122.54,134.17L122.64,134.33L122.75,134.15L122.86,134.38L122.97,134.38L123.07,134.43L123.18,134.13L123.29,134.13L123.40,134.09L123.51,134.09L123.61,133.77L123.72,134.02L123.83,134.04L123.94,133.73L124.04,133.70L124.15,133.88L124.26,134.22L124.37,134.09L124.48,133.94L124.58,134.08L124.69,133.89L124.80,134.37L124.91,134.09L125.01,134.30L125.12,134.01L125.23,134.22L125.34,134.03L125.45,134.26L125.55,134.33L125.66,134.24L125.77,134.12L125.88,134.14L125.98,133.76L126.09,133.71L126.20,133.85L126.31,134.04L126.42,133.90L126.52,134.00L126.63,133.71L126.74,133.91L126.85,133.93L126.95,134.10L127.06,134.38L127.17,134.23L127.28,134.31L127.39,134.10L127.49,134.15L127.60,134.28L127.71,134.20L127.82,133.87L127.92,134.22L128.03,134.17L128.14,134.02L128.25,134.05L128.36,133.97L128.46,133.80L128.57,133.59L128.68,134.12L128.79,133.86L128.89,133.86L129.00,133.90L129.11,133.95L129.22,134.01L129.32,133.85L129.43,134.11L129.54,134.09L129.65,134.09L129.76,134.09L129.86,134.14L129.97,133.95L130.08,134.09L130.19,134.03L130.29,134.03L130.40,134.14L130.51,134.07L130.62,134.06L130.73,133.84L130.83,133.95L130.94,133.98L131.05,133.78L131.16,133.74L131.26,134.10L131.37,133.60L131.48,133.88L131.59,133.94L131.70,133.80L131.80,133.99L131.91,134.12L132.02,133.72L132.13,134.22L132.23,134.08L132.34,133.93L132.45,134.20L132.56,134.03L132.67,133.92L132.77,133.58L132.88,134.04L132.99,133.87L133.10,133.73L133.20,133.79L133.31,133.97L133.42,133.72L133.53,133.77L133.64,133.73L133.74,133.65L133.85,133.70L133.96,133.83L134.07,133.88L134.17,134.12L134.28,134.00L134.39,133.97L134.50,134.08L134.61,134.00L134.71,134.13L134.82,133.76L134.93,133.64L135.04,133.99L135.14,133.84L135.25,133.89L135.36,133.63L135.47,133.73L135.57,133.76L135.68,133.79L135.79,133.73L135.90,133.91L136.01,133.67L136.11,133.90L136.22,133.74L136.33,133.83L136.44,133.72L136.54,133.92L136.65,133.78L136.76,134.10L136.87,133.88L136.98,134.00L137.08,133.93L137.19,133.93L137.30,133.78L137.41,134.19L137.51,133.80L137.62,134.04L137.73,133.60L137.84,134.06L137.95,133.89L138.05,133.97L138.16,133.47L138.27,133.92L138.38,133.72L138.48,133.84L138.59,134.06L138.70,133.86L138.81,133.74L138.92,133.90L139.02,133.75L139.13,133.97L139.24,133.92L139.35,133.98L139.45,133.86L139.56,133.61L139.67,133.82L139.78,133.81L139.89,133.90L139.99,133.89L140.10,133.52L140.21,133.89L140.32,133.84L140.42,133.70L140.53,133.75L140.64,133.39L140.75,134.06L140.86,133.67L140.96,133.64L141.07,133.95L141.18,133.90L141.29,133.77L141.39,133.61L141.50,134.01L141.61,134.12L141.72,133.73L141.83,133.64L141.93,133.90L142.04,134.16L142.15,133.58L142.26,133.80L142.36,133.57L142.47,133.72L142.58,133.74L142.69,133.73L142.79,133.43L142.90,133.43L143.01,133.98L143.12,133.81L143.23,133.42L143.33,133.77L143.44,133.95L143.55,133.77L143.66,133.81L143.76,133.83L143.87,133.90L143.98,133.88L144.09,133.90L144.20,133.78L144.30,133.93L144.41,133.83L144.52,133.78L144.63,133.53L144.73,133.64L144.84,133.69L144.95,133.57L145.06,133.57L145.17,133.46L145.27,133.54L145.38,133.35L145.49,133.43L145.60,133.66L145.70,133.74L145.81,133.57L145.92,133.65L146.03,133.77L146.14,134.00L146.24,134.07L146.35,133.74L146.46,133.68L146.57,133.66L146.67,133.96L146.78,133.59L146.89,133.80L147.00,133.63L147.11,133.60L147.21,133.76L147.32,133.70L147.43,133.91L147.54,133.73L147.64,133.86L147.75,133.53L147.86,133.60L147.97,133.49L148.08,133.59L148.18,133.77L148.29,133.64L148.40,133.78L148.51,133.64L148.61,133.70L148.72,133.90L148.83,133.75L148.94,133.73L149.04,133.77L149.15,133.57L149.26,133.42L149.37,133.71L149.48,133.68L149.58,133.94L149.69,133.60L149.80,133.63L149.91,133.88L150.01,133.51L150.12,133.47L150.23,133.68L150.34,133.65L150.45,133.76L150.55,133.52L150.66,133.89L150.77,133.73L150.88,133.40L150.98,133.70L151.09,133.64L151.20,133.74L151.31,133.88L151.42,133.69L151.52,133.60L151.63,133.80L151.74,133.56L151.85,133.40L151.95,133.40L152.06,133.78L152.17,133.68L152.28,133.77L152.39,133.36L152.49,133.44L152.60,133.43L152.71,133.69L152.82,133.76L152.92,133.59L153.03,133.61L153.14,133.78L153.25,133.64L153.36,133.58L153.46,133.64L153.57,133.83L153.68,133.99L153.79,133.69L153.89,133.60L154.00,133.64L154.11,133.64L154.22,133.66L154.33,133.42L154.43,133.52L154.54,133.48L154.65,133.64L154.76,133.58L154.86,133.47L154.97,133.66L155.08,133.72L155.19,133.60L155.30,133.39L155.40,133.56L155.51,133.39L155.62,133.65L155.73,133.69L155.83,133.85L155.94,133.73L156.05,133.41L156.16,133.56" stroke="#29ffce"/>
<path d="M31.37,106.57L31.48,107.09L31.59,106.76L31.69,106.95L31.80,106.77L31.91,106.57L32.02,106.80L32.13,106.68L32.23,106.83L32.34,106.41L32.45,106.56L32.56,106.53L32.66,106.90L32.77,106.87L32.88,106.54L32.99,106.73L33.10,106.74L33.20,106.65L33.31,106.89L33.42,106.59L33.53,106.70L33.63,106.63L33.74,106.80L33.85,106.63L33.96,106.81L34.06,106.56L34.17,106.53L34.28,106.56L34.39,106.62L34.50,106.61L34.60,107.11L34.71,106.58L34.82,106.74L34.93,106.69L35.03,106.75L35.14,106.91L35.25,106.78L35.36,106.60L35.47,106.49L35.57,106.80L35.68,106.84L35.79,106.48L35.90,106.84L36.00,106.39L36.11,106.70L36.22,106.84L36.33,106.55L36.44,106.45L36.54,106.92L36.65,106.47L36.76,106.75L36.87,106.48L36.97,106.76L37.08,106.94L37.19,106.63L37.30,106.56L37.41,106.39L37.51,106.44L37.62,106.60L37.73,106.74L37.84,106.78L37.94,106.75L38.05,106.83L38.16,106.74L38.27,107.09L38.38,106.68L38.48,106.71L38.59,106.31L38.70,106.59L38.81,106.78L38.91,106.62L39.02,106.89L39.13,106.80L39.24,106.99L39.35,106.49L39.45,106.62L39.56,106.90L39.67,106.75L39.78,106.62L39.88,106.74L39.99,106.83L40.10,107.13L40.21,107.27L40.32,107.40L40.42,107.63L40.53,108.38L40.64,109.08L40.75,109.58L40.85,110.96L40.96,111.95L41.07,113.59L41.18,115.22L41.28,116.96L41.39,119.08L41.50,121.02L41.61,123.11L41.72,124.67L41.82,125.73L41.93,126.43L42.04,126.80L42.15,126.49L42.25,126.12L42.36,125.02L42.47,123.42L42.58,121.84L42.69,120.00L42.79,118.27L42.90,116.17L43.01,114.79L43.12,112.91L43.22,111.54L43.33,109.48L43.44,108.24L43.55,106.64L43.66,106.08L43.76,105.44L43.87,105.23L43.98,106.04L44.09,106.82L44.19,108.10L44.30,109.73L44.41,110.70L44.52,111.91L44.63,113.16L44.73,113.63L44.84,114.24L44.95,114.34L45.06,113.94L45.16,113.53L45.27,112.35L45.38,112.06L45.49,110.78L45.60,109.84L45.70,109.51L45.81,108.88L45.92,108.19L46.03,108.31L46.13,108.46L46.24,108.94L46.35,110.05L46.46,111.25L46.57,112.73L46.67,113.57L46.78,114.95L46.89,115.81L47.00,116.62L47.10,117.33L47.21,116.95L47.32,116.76L47.43,116.12L47.54,115.44L47.64,114.09L47.75,112.73L47.86,111.30L47.97,110.09L48.07,108.74L48.18,107.95L48.29,107.50L48.40,107.63L48.50,107.78L48.61,108.79L48.72,110.43L48.83,111.57L48.94,113.10L49.04,114.58L49.15,116.30L49.26,117.58L49.37,118.59L49.47,118.90L49.58,119.11L49.69,118.69L49.80,117.80L49.91,116.31L50.01,114.89L50.12,113.32L50.23,111.21L50.34,109.78L50.44,108.26L50.55,107.28L50.66,106.66L50.77,106.71L50.88,107.52L50.98,108.51L51.09,110.16L51.20,111.49L51.31,113.62L51.41,115.41L51.52,117.46L51.63,119.20L51.74,119.71L51.85,120.46L51.95,120.41L52.06,119.81L52.17,118.59L52.28,117.03L52.38,115.48L52.49,113.04L52.60,111.26L52.71,109.41L52.82,107.57L52.92,106.65L53.03,106.34L53.14,106.67L53.25,107.05L53.35,108.22L53.46,109.97L53.57,112.11L53.68,114.13L53.79,116.26L53.89,117.90L54.00,119.30L54.11,120.29L54.22,121.00L54.32,120.71L54.43,119.92L54.54,118.83L54.65,117.11L54.75,114.83L54.86,113.07L54.97,110.98L55.08,109.41L55.19,107.94L55.29,107.28L55.40,106.64L55.51,106.65L55.62,107.25L55.72,108.61L55.83,110.27L55.94,112.18L56.05,114.18L56.16,115.94L56.26,117.42L56.37,118.88L56.48,119.42L56.59,120.01L56.69,119.91L56.80,119.09L56.91,118.06L57.02,116.57L57.13,114.56L57.23,113.07L57.34,111.40L57.45,109.86L57.56,108.77L57.66,108.36L57.77,107.85L57.88,108.21L57.99,108.91L58.10,109.83L58.20,111.37L58.31,112.69L58.42,114.04L58.53,115.30L58.63,116.63L58.74,117.49L58.85,117.88L58.96,117.98L59.07,117.85L59.17,117.19L59.28,116.57L59.39,115.47L59.50,114.20L59.60,113.11L59.71,112.06L59.82,110.85L59.93,110.49L60.04,110.26L60.14,110.00L60.25,110.03L60.36,110.78L60.47,111.26L60.57,112.28L60.68,113.09L60.79,113.87L60.90,114.45L61.01,114.65L61.11,115.43L61.22,115.15L61.33,115.51L61.44,115.20L61.54,114.73L61.65,114.37L61.76,114.00L61.87,113.88L61.97,113.21L62.08,113.12L62.19,112.36L62.30,112.66L62.41,112.55L62.51,112.79L62.62,112.77L62.73,113.02L62.84,112.82L62.94,113.17L63.05,113.21L63.16,113.56L63.27,113.67L63.38,113.54L63.48,114.00L63.59,114.23L63.70,113.97L63.81,114.23L63.91,114.09L64.02,113.78L64.13,113.86L64.24,113.34L64.35,113.26L64.45,112.56L64.56,112.20L64.67,112.12L64.78,111.79L64.88,111.71L64.99,111.51L65.10,111.50L65.21,112.18L65.32,112.27L65.42,113.19L65.53,113.77L65.64,114.58L65.75,114.61L65.85,115.43L65.96,115.74L66.07,116.02L66.18,115.68L66.29,115.86L66.39,115.03L66.50,114.03L66.61,113.62L66.72,112.70L66.82,111.76L66.93,111.23L67.04,110.49L67.15,109.94L67.26,109.91L67.36,109.99L67.47,110.48L67.58,110.99L67.69,111.84L67.79,112.56L67.90,113.65L68.01,114.75L68.12,115.91L68.22,116.07L68.33,116.46L68.44,116.83L68.55,116.80L68.66,116.21L68.76,115.18L68.87,114.59L68.98,113.50L69.09,112.38L69.19,111.27L69.30,110.63L69.41,110.03L69.52,109.74L69.63,109.33L69.73,109.62L69.84,110.27L69.95,111.14L70.06,111.89L70.16,112.60L70.27,113.72L70.38,114.32L70.49,115.11L70.60,115.63L70.70,115.84L70.81,115.88L70.92,115.86L71.03,115.32L71.13,114.28L71.24,114.06L71.35,113.12L71.46,112.08L71.57,111.53L71.67,111.02L71.78,110.66L71.89,110.14L72.00,110.05L72.10,110.17L72.21,110.74L72.32,111.10L72.43,112.01L72.54,112.47L72.64,113.23L72.75,113.66L72.86,114.03L72.97,114.30L73.07,114.76L73.18,114.40L73.29,114.47L73.40,114.22L73.51,113.65L73.61,113.33L73.72,112.56L73.83,112.00L73.94,111.61L74.04,111.14L74.15,111.03L74.26,110.87L74.37,111.10L74.48,111.01L74.58,111.38L74.69,111.61L74.80,111.88L74.91,112.17L75.01,112.75L75.12,112.98L75.23,112.96L75.34,112.94L75.44,112.97L75.55,112.83L75.66,112.65L75.77,112.60L75.88,112.48L75.98,112.43L76.09,112.22L76.20,111.97L76.31,111.71L76.41,111.61L76.52,111.58L76.63,111.57L76.74,111.46L76.85,111.55L76.95,111.59L77.06,111.65L77.17,111.86L77.28,112.01L77.38,111.86L77.49,111.95L77.60,112.12L77.71,112.20L77.82,111.82L77.92,112.28L78.03,112.17L78.14,112.04L78.25,112.15L78.35,111.82L78.46,111.41L78.57,111.36L78.68,111.23L78.79,111.06L78.89,110.99L79.00,110.75L79.11,110.87L79.22,110.91L79.32,110.90L79.43,110.91L79.54,111.19L79.65,111.36L79.76,112.00L79.86,111.75L79.97,111.78L80.08,112.08L80.19,112.42L80.29,112.50L80.40,112.24L80.51,112.27L80.62,111.77L80.73,111.66L80.83,111.11L80.94,110.71L81.05,110.90L81.16,110.26L81.26,110.20L81.37,110.18L81.48,110.03L81.59,110.03L81.69,110.01L81.80,110.65L81.91,110.57L82.02,110.78L82.13,111.35L82.23,111.69L82.34,112.05L82.45,112.42L82.56,112.26L82.66,112.27L82.77,112.09L82.88,111.58L82.99,111.54L83.10,111.21L83.20,110.64L83.31,110.68L83.42,110.30L83.53,109.89L83.63,109.74L83.74,109.45L83.85,109.62L83.96,109.43L84.07,109.68L84.17,110.07L84.28,110.56L84.39,110.74L84.50,111.02L84.60,111.56L84.71,111.55L84.82,111.62L84.93,111.72L85.04,111.47L85.14,111.40L85.25,111.52L85.36,111.15L85.47,111.04L85.57,110.57L85.68,110.55L85.79,110.07L85.90,110.00L86.01,109.81L86.11,109.95L86.22,110.18L86.33,109.77L86.44,110.19L86.54,110.11L86.65,110.42L86.76,110.54L86.87,110.50L86.98,110.84L87.08,110.75L87.19,111.22L87.30,110.86L87.41,110.99L87.51,110.91L87.62,110.80L87.73,110.66L87.84,110.36L87.95,110.79L88.05,110.42L88.16,110.46L88.27,110.11L88.38,110.31L88.48,110.15L88.59,110.28L88.70,110.14L88.81,110.13L88.91,110.40L89.02,110.40L89.13,110.70L89.24,110.51L89.35,110.50L89.45,110.78L89.56,110.57L89.67,111.08L89.78,111.04L89.88,110.94L89.99,110.74L90.10,110.58L90.21,110.49L90.32,110.37L90.42,110.13L90.53,110.20L90.64,110.22L90.75,110.14L90.85,109.59L90.96,110.26L91.07,109.97L91.18,109.79L91.29,110.04L91.39,110.37L91.50,110.38L91.61,110.40L91.72,110.48L91.82,110.91L91.93,110.74L92.04,110.86L92.15,110.72L92.26,110.61L92.36,110.77L92.47,110.79L92.58,110.34L92.69,109.94L92.79,109.92L92.90,109.82L93.01,109.35L93.12,109.78L93.23,109.44L93.33,109.67L93.44,109.65L93.55,109.76L93.66,109.70L93.76,110.25L93.87,110.38L93.98,110.72L94.09,110.57L94.20,110.84L94.30,110.78L94.41,111.03L94.52,110.89L94.63,110.59L94.73,110.65L94.84,110.36L94.95,110.19L95.06,110.14L95.16,110.15L95.27,109.61L95.38,109.62L95.49,109.43L95.60,109.87L95.70,109.84L95.81,109.98L95.92,109.90L96.03,109.73L96.13,109.95L96.24,110.18L96.35,110.29L96.46,110.30L96.57,110.53L96.67,110.47L96.78,110.51L96.89,110.83L97.00,110.49L97.10,110.13L97.21,110.29L97.32,110.13L97.43,110.09L97.54,109.97L97.64,109.64L97.75,109.78L97.86,109.86L97.97,110.17L98.07,109.80L98.18,110.05L98.29,110.09L98.40,109.76L98.51,109.85L98.61,110.32L98.72,109.98L98.83,110.10L98.94,110.33L99.04,110.12L99.15,110.48L99.26,110.40L99.37,110.40L99.48,110.29L99.58,109.92L99.69,110.17L99.80,110.06L99.91,109.95L100.01,109.70L100.12,109.73L100.23,109.51L100.34,109.73L100.45,109.83L100.55,109.74L100.66,109.70L100.77,109.91L100.88,109.80L100.98,109.64L101.09,110.07L101.20,110.04L101.31,109.89L101.42,110.22L101.52,110.25L101.63,110.27L101.74,110.00L101.85,109.92L101.95,109.95L102.06,109.84L102.17,109.56L102.28,109.54L102.38,109.81L102.49,109.55L102.60,109.49L102.71,109.39L102.82,109.54L102.92,109.63L103.03,109.66L103.14,109.92L103.25,109.73L103.35,109.90L103.46,109.81L103.57,110.10L103.68,110.06L103.79,110.16L103.89,110.18L104.00,109.89L104.11,110.02L104.22,109.82L104.32,109.98L104.43,109.71L104.54,109.89L104.65,109.62L104.76,109.55L104.86,109.33L104.97,109.35L105.08,109.39L105.19,109.25L105.29,109.39L105.40,109.39L105.51,109.42L105.62,109.63L105.73,109.75L105.83,109.73L105.94,109.91L106.05,109.83L106.16,109.75L106.26,109.79L106.37,109.95L106.48,110.04L106.59,109.79L106.70,109.71L106.80,109.44L106.91,109.57L107.02,109.46L107.13,109.24L107.23,109.36L107.34,109.28L107.45,108.99L107.56,109.04L107.67,109.21L107.77,109.32L107.88,109.58L107.99,109.43L108.10,109.59L108.20,109.64L108.31,109.82L108.42,109.79L108.53,109.84L108.63,109.76L108.74,109.57L108.85,109.68L108.96,109.91L109.07,109.73L109.17,109.73L109.28,109.52L109.39,109.23L109.50,109.18L109.60,109.28L109.71,109.11L109.82,109.26L109.93,109.38L110.04,109.42L110.14,109.39L110.25,109.12L110.36,109.62L110.47,109.31L110.57,109.37L110.68,109.65L110.79,109.68L110.90,109.78L111.01,109.69L111.11,109.56L111.22,109.61L111.33,109.39L111.44,109.28L111.54,109.33L111.65,109.24L111.76,109.23L111.87,109.10L111.98,109.27L112.08,109.02L112.19,109.04L112.30,109.22L112.41,108.80L112.51,109.33L112.62,109.38L112.73,109.28L112.84,109.68L112.95,109.57L113.05,109.74L113.16,109.69L113.27,109.58L113.38,109.50L113.48,109.36L113.59,109.36L113.70,109.24L113.81,109.26L113.92,109.35L114.02,109.03L114.13,109.21L114.24,109.17L114.35,108.81L114.45,108.90L114.56,108.98L114.67,108.92L114.78,108.93L114.89,109.32L114.99,109.18L115.10,109.41L115.21,109.27L115.32,109.44L115.42,109.18L115.53,109.33L115.64,109.54L115.75,109.42L115.85,109.57L115.96,109.34L116.07,109.22L116.18,109.20L116.29,109.47L116.39,109.17L116.50,108.99L116.61,108.97L116.72,108.81L116.82,109.16L116.93,108.89L117.04,109.08L117.15,108.98L117.26,108.99L117.36,108.99L117.47,109.23L117.58,109.16L117.69,109.40L117.79,109.47L117.90,109.20L118.01,109.30L118.12,109.52L118.23,109.39L118.33,109.22L118.44,108.95L118.55,108.98L118.66,108.96L118.76,109.30L118.87,109.00L118.98,108.88L119.09,108.87L119.20,108.85L119.30,108.95L119.41,108.66L119.52,108.72L119.63,108.99L119.73,109.16L119.84,108.74L119.95,109.17L120.06,108.94L120.17,108.86L120.27,109.31L120.38,109.13L120.49,109.21L120.60,109.07L120.70,109.07L120.81,108.78L120.92,108.95L121.03,108.99L121.14,108.78L121.24,108.95L121.35,108.93L121.46,108.52L121.57,108.97L121.67,108.92L121.78,108.85L121.89,109.03L122.00,109.22L122.10,108.77L122.21,109.09L122.32,109.08L122.43,109.09L122.54,109.20L122.64,109.23L122.75,109.05L122.86,108.70L122.97,108.94L123.07,108.91L123.18,109.21L123.29,108.95L123.40,109.08L123.51,108.75L123.61,108.86L123.72,108.79L123.83,108.79L123.94,108.85L124.04,109.00L124.15,108.69L124.26,109.00L124.37,109.00L124.48,108.90L124.58,108.99L124.69,108.88L124.80,108.79L124.91,108.93L125.01,108.95L125.12,108.98L125.23,108.85L125.34,109.24L125.45,108.88L125.55,109.04L125.66,109.05L125.77,108.82L125.88,108.84L125.98,108.66L126.09,108.55L126.20,109.05L126.31,108.70L126.42,108.39L126.52,108.57L126.63,108.50L126.74,108.73L126.85,108.99L126.95,108.98L127.06,108.73L127.17,108.72L127.28,108.99L127.39,108.94L127.49,108.86L127.60,109.15L127.71,108.93L127.82,108.60L127.92,108.48L128.03,108.79L128.14,108.46L128.25,108.78L128.36,108.79L128.46,108.98L128.57,108.48L128.68,108.67L128.79,108.26L128.89,108.58L129.00,108.62L129.11,108.95L129.22,108.47L129.32,108.79L129.43,108.78L129.54,109.12L129.65,108.66L129.76,108.66L129.86,108.91L129.97,108.79L130.08,108.73L130.19,108.62L130.29,108.72L130.40,108.44L130.51,108.70L130.62,108.72L130.73,108.67L130.83,108.96L130.94,108.68L131.05,108.40L131.16,108.51L131.26,108.68L131.37,108.53L131.48,108.91L131.59,108.67L131.70,108.58L131.80,108.58L131.91,108.83L132.02,108.59L132.13,108.45L132.23,108.80L132.34,108.62L132.45,108.95L132.56,108.99L132.67,108.57L132.77,108.62L132.88,108.56L132.99,108.65L133.10,108.57L133.20,108.38L133.31,108.23L133.42,108.52L133.53,108.73L133.64,108.30L133.74,108.42L133.85,108.43L133.96,108.54L134.07,108.24L134.17,108.61L134.28,108.56L134.39,108.94L134.50,108.75L134.61,108.77L134.71,108.66L134.82,108.59L134.93,108.73L135.04,108.32L135.14,108.72L135.25,108.59L135.36,108.45L135.47,108.65L135.57,108.35L135.68,108.33L135.79,108.46L135.90,108.13L136.01,108.42L136.11,108.41L136.22,108.62L136.33,108.75L136.44,108.62L136.54,108.60L136.65,108.64L136.76,108.47L136.87,108.96L136.98,108.77L137.08,108.86L137.19,108.37L137.30,108.63L137.41,108.60L137.51,108.65L137.62,108.32L137.73,108.49L137.84,108.37L137.95,108.69L138.05,108.19L138.16,108.30L138.27,108.28L138.38,108.19L138.48,108.42L138.59,108.44L138.70,108.33L138.81,108.40L138.92,108.52L139.02,108.50L139.13,108.60L139.24,108.42L139.35,108.39L139.45,108.52L139.56,108.22L139.67,108.71L139.78,108.49L139.89,108.16L139.99,108.45L140.10,108.60L140.21,108.12L140.32,108.23L140.42,108.49L140.53,108.18L140.64,108.46L140.75,108.52L140.86,108.35L140.96,108.43L141.07,108.54L141.18,108.46L141.29,108.58L141.39,108.43L141.50,108.46L141.61,108.35L141.72,108.53L141.83,108.65L141.93,108.64L142.04,108.45L142.15,108.15L142.26,108.23L142.36,108.42L142.47,108.16L142.58,108.45L142.69,108.10L142.79,108.30L142.90,108.13L143.01,108.15L143.12,108.30L143.23,108.22L143.33,108.46L143.44,108.33L143.55,108.18L143.66,107.74L143.76,108.28L143.87,108.38L143.98,108.55L144.09,108.24L144.20,108.64L144.30,108.49L144.41,108.30L144.52,108.51L144.63,108.06L144.73,108.10L144.84,108.33L144.95,108.30L145.06,108.40L145.17,108.40L145.27,108.12L145.38,108.10L145.49,108.15L145.60,108.18L145.70,108.32L145.81,108.21L145.92,108.51L146.03,108.30L146.14,108.10L146.24,108.13L146.35,108.41L146.46,108.39L146.57,108.12L146.67,108.04L146.78,108.52L146.89,108.33L147.00,108.20L147.11,108.02L147.21,108.31L147.32,108.06L147.43,108.19L147.54,107.77L147.64,108.07L147.75,108.16L147.86,108.20L147.97,108.00L148.08,108.08L148.18,108.37L148.29,108.20L148.40,108.45L148.51,108.38L148.61,108.47L148.72,108.48L148.83,108.38L148.94,108.42L149.04,108.17L149.15,108.11L149.26,108.24L149.37,108.35L149.48,108.03L149.58,108.43L149.69,108.40L149.80,107.98L149.91,107.98L150.01,107.93L150.12,108.12L150.23,108.29L150.34,108.19L150.45,108.05L150.55,108.27L150.66,108.28L150.77,108.41L150.88,108.39L150.98,108.09L151.09,108.16L151.20,108.40L151.31,108.38L151.42,108.28L151.52,108.09L151.63,108.33L151.74,108.15L151.85,108.42L151.95,108.27L152.06,107.99L152.17,107.90L152.28,108.21L152.39,108.15L152.49,107.91L152.60,108.11L152.71,108.15L152.82,108.01L152.92,108.08L153.03,107.96L153.14,108.03L153.25,108.25L153.36,108.19L153.46,108.18L153.57,108.38L153.68,108.31L153.79,108.00L153.89,108.37L154.00,107.95L154.11,108.03L154.22,108.07L154.33,107.94L154.43,107.93L154.54,107.81L154.65,108.04L154.76,108.02L154.86,108.03L154.97,107.71L155.08,107.87L155.19,108.18L155.30,108.11L155.40,108.19L155.51,108.10L155.62,108.08L155.73,107.77L155.83,108.40L155.94,107.97L156.05,108.05L156.16,108.20L156.26,108.10L156.37,108.13L156.48,108.02L156.59,107.85" stroke="#ceff29"/>
<path d="M31.37,80.24L31.48,79.85L31.59,80.44L31.69,80.19L31.80,80.00L31.91,80.11L32.02,79.95L32.13,80.08L32.23,80.13L32.34,79.73L32.45,80.09L32.56,80.08L32.66,80.22L32.77,80.17L32.88,79.96L32.99,79.97L33.10,80.06L33.20,80.16L33.31,79.95L33.42,80.32L33.53,80.11L33.63,80.10L33.74,80.19L33.85,80.03L33.96,80.16L34.06,80.18L34.17,79.78L34.28,79.94L34.39,79.87L34.50,80.05L34.60,79.91L34.71,79.94L34.82,79.87L34.93,79.69L35.03,80.09L35.14,80.01L35.25,80.06L35.36,80.58L35.47,80.26L35.57,80.05L35.68,79.95L35.79,80.14L35.90,79.88L36.00,79.85L36.11,80.11L36.22,79.83L36.33,79.78L36.44,79.97L36.54,80.19L36.65,79.82L36.76,80.07L36.87,80.10L36.97,80.02L37.08,80.12L37.19,79.88L37.30,79.92L37.41,79.85L37.51,79.95L37.62,80.15L37.73,80.06L37.84,79.90L37.94,80.09L38.05,79.58L38.16,80.06L38.27,80.11L38.38,79.85L38.48,79.91L38.59,80.02L38.70,80.05L38.81,79.95L38.91,79.88L39.02,79.89L39.13,80.05L39.24,79.93L39.35,79.87L39.45,79.88L39.56,80.46L39.67,80.12L39.78,80.10L39.88,80.01L39.99,79.95L40.10,79.83L40.21,79.87L40.32,79.97L40.42,79.94L40.53,79.67L40.64,80.00L40.75,79.83L40.85,79.59L40.96,79.71L41.07,79.96L41.18,79.44L41.28,79.34L41.39,79.01L41.50,78.49L41.61,78.15L41.72,77.80L41.82,77.13L41.93,76.72L42.04,76.34L42.15,75.99L42.25,75.81L42.36,75.87L42.47,76.05L42.58,76.29L42.69,76.90L42.79,77.53L42.90,77.81L43.01,78.78L43.12,79.46L43.22,80.04L43.33,80.29L43.44,80.24L43.55,80.12L43.66,80.47L43.76,81.00L43.87,82.67L43.98,84.40L44.09,87.24L44.19,89.72L44.30,92.01L44.41,94.59L44.52,96.68L44.63,97.98L44.73,98.99L44.84,98.89L44.95,98.59L45.06,97.02L45.16,95.20L45.27,92.78L45.38,90.30L45.49,88.13L45.60,85.54L45.70,84.05L45.81,82.99L45.92,82.41L46.03,81.88L46.13,82.87L46.24,84.33L46.35,86.23L46.46,88.52L46.57,90.55L46.67,93.14L46.78,95.01L46.89,97.08L47.00,98.65L47.10,98.80L47.21,98.95L47.32,98.26L47.43,96.74L47.54,95.31L47.64,93.07L47.75,91.07L47.86,89.06L47.97,86.95L48.07,85.57L48.18,84.23L48.29,83.78L48.40,84.02L48.50,84.63L48.61,85.85L48.72,87.60L48.83,89.31L48.94,91.49L49.04,93.32L49.15,95.30L49.26,96.55L49.37,97.45L49.47,98.06L49.58,97.87L49.69,97.22L49.80,95.89L49.91,94.61L50.01,92.73L50.12,90.80L50.23,89.30L50.34,88.15L50.44,86.76L50.55,85.90L50.66,85.82L50.77,85.76L50.88,86.36L50.98,87.24L51.09,88.41L51.20,89.62L51.31,90.78L51.41,91.83L51.52,92.70L51.63,93.41L51.74,93.95L51.85,94.03L51.95,93.83L52.06,93.71L52.17,92.93L52.28,92.10L52.38,91.04L52.49,90.01L52.60,88.98L52.71,88.14L52.82,87.13L52.92,86.64L53.03,86.65L53.14,86.41L53.25,86.90L53.35,87.05L53.46,88.20L53.57,89.17L53.68,90.18L53.79,91.30L53.89,92.26L54.00,92.84L54.11,93.62L54.22,93.81L54.32,93.72L54.43,93.66L54.54,92.57L54.65,91.79L54.75,90.62L54.86,89.68L54.97,88.21L55.08,87.16L55.19,86.39L55.29,85.33L55.40,85.29L55.51,85.47L55.62,85.82L55.72,86.46L55.83,87.44L55.94,88.72L56.05,89.91L56.16,91.14L56.26,92.70L56.37,93.51L56.48,94.21L56.59,94.34L56.69,94.04L56.80,93.68L56.91,93.13L57.02,91.92L57.13,90.44L57.23,89.30L57.34,87.89L57.45,86.61L57.56,85.95L57.66,84.89L57.77,84.67L57.88,84.73L57.99,85.46L58.10,86.28L58.20,87.38L58.31,88.58L58.42,90.01L58.53,91.37L58.63,92.34L58.74,93.39L58.85,94.34L58.96,94.58L59.07,94.07L59.17,93.82L59.28,92.65L59.39,91.43L59.50,90.38L59.60,88.89L59.71,87.44L59.82,86.36L59.93,85.42L60.04,84.72L60.14,84.31L60.25,84.69L60.36,85.21L60.47,86.13L60.57,87.39L60.68,88.22L60.79,90.09L60.90,91.05L61.01,91.89L61.11,92.95L61.22,93.10L61.33,93.10L61.44,93.18L61.54,92.46L61.65,91.85L61.76,90.61L61.87,89.58L61.97,88.48L62.08,87.30L62.19,86.60L62.30,85.85L62.41,85.59L62.51,85.79L62.62,85.75L62.73,86.13L62.84,87.03L62.94,87.34L63.05,88.33L63.16,89.08L63.27,89.99L63.38,90.44L63.48,90.82L63.59,91.13L63.70,91.06L63.81,91.19L63.91,90.29L64.02,90.16L64.13,89.74L64.24,88.95L64.35,88.36L64.45,87.65L64.56,87.49L64.67,87.05L64.78,87.12L64.88,86.66L64.99,87.04L65.10,87.04L65.21,87.75L65.32,87.79L65.42,88.32L65.53,88.34L65.64,88.53L65.75,89.02L65.85,89.03L65.96,89.05L66.07,89.07L66.18,88.87L66.29,88.79L66.39,88.72L66.50,88.33L66.61,88.09L66.72,88.20L66.82,87.91L66.93,87.66L67.04,87.56L67.15,87.53L67.26,87.24L67.36,87.22L67.47,87.29L67.58,87.52L67.69,87.34L67.79,87.58L67.90,88.14L68.01,88.34L68.12,88.38L68.22,88.89L68.33,88.86L68.44,88.99L68.55,89.08L68.66,88.89L68.76,88.86L68.87,88.39L68.98,88.23L69.09,87.15L69.19,86.82L69.30,86.46L69.41,86.25L69.52,85.91L69.63,85.76L69.73,85.83L69.84,86.03L69.95,86.64L70.06,86.88L70.16,87.55L70.27,88.20L70.38,88.74L70.49,88.98L70.60,89.27L70.70,89.87L70.81,89.46L70.92,89.39L71.03,89.39L71.13,88.96L71.24,88.33L71.35,87.52L71.46,87.05L71.57,86.49L71.67,85.69L71.78,85.60L71.89,84.98L72.00,84.73L72.10,84.97L72.21,85.21L72.32,85.74L72.43,86.33L72.54,87.13L72.64,88.01L72.75,88.62L72.86,89.20L72.97,89.45L73.07,89.66L73.18,89.89L73.29,89.88L73.40,89.49L73.51,88.83L73.61,87.88L73.72,87.25L73.83,86.51L73.94,85.87L74.04,84.99L74.15,84.61L74.26,84.40L74.37,84.34L74.48,84.27L74.58,84.93L74.69,85.18L74.80,85.89L74.91,86.77L75.01,87.33L75.12,88.09L75.23,88.69L75.34,88.94L75.44,89.18L75.55,88.92L75.66,88.77L75.77,88.30L75.88,87.75L75.98,87.76L76.09,86.63L76.20,86.35L76.31,85.53L76.41,85.27L76.52,84.83L76.63,84.49L76.74,84.96L76.85,84.81L76.95,85.11L77.06,85.72L77.17,85.73L77.28,86.23L77.38,86.70L77.49,87.07L77.60,86.73L77.71,87.43L77.82,87.69L77.92,87.50L78.03,87.25L78.14,87.01L78.25,86.66L78.35,86.48L78.46,85.90L78.57,85.75L78.68,85.63L78.79,85.35L78.89,85.16L79.00,84.93L79.11,85.00L79.22,85.20L79.32,85.27L79.43,85.38L79.54,85.25L79.65,85.79L79.76,85.74L79.86,85.79L79.97,86.09L80.08,85.94L80.19,85.93L80.29,85.98L80.40,85.76L80.51,85.61L80.62,85.51L80.73,85.62L80.83,85.47L80.94,85.05L81.05,85.49L81.16,85.21L81.26,85.05L81.37,85.12L81.48,85.03L81.59,85.11L81.69,85.05L81.80,85.02L81.91,85.32L82.02,85.34L82.13,85.46L82.23,85.61L82.34,85.63L82.45,85.85L82.56,85.60L82.66,85.46L82.77,85.43L82.88,85.42L82.99,85.66L83.10,85.15L83.20,85.34L83.31,85.08L83.42,84.64L83.53,84.95L83.63,84.55L83.74,84.57L83.85,84.62L83.96,84.76L84.07,84.64L84.17,84.90L84.28,84.83L84.39,84.98L84.50,85.55L84.60,85.58L84.71,85.69L84.82,85.92L84.93,85.96L85.04,85.77L85.14,85.74L85.25,85.84L85.36,85.51L85.47,85.15L85.57,85.20L85.68,84.94L85.79,84.36L85.90,84.23L86.01,84.56L86.11,84.45L86.22,84.19L86.33,84.48L86.44,84.46L86.54,84.66L86.65,84.70L86.76,85.39L86.87,85.56L86.98,85.61L87.08,85.43L87.19,85.71L87.30,86.00L87.41,85.65L87.51,85.53L87.62,85.53L87.73,85.35L87.84,85.01L87.95,84.65L88.05,84.57L88.16,84.30L88.27,84.21L88.38,84.15L88.48,84.18L88.59,84.01L88.70,84.18L88.81,84.31L88.91,84.31L89.02,84.58L89.13,84.73L89.24,85.30L89.35,85.15L89.45,85.45L89.56,85.56L89.67,85.58L89.78,85.23L89.88,85.20L89.99,85.30L90.10,85.21L90.21,84.86L90.32,84.76L90.42,84.28L90.53,84.62L90.64,84.57L90.75,84.28L90.85,84.22L90.96,84.22L91.07,84.19L91.18,84.07L91.29,84.54L91.39,84.68L91.50,84.97L91.61,84.76L91.72,84.75L91.82,84.97L91.93,84.78L92.04,84.95L92.15,84.70L92.26,84.84L92.36,84.98L92.47,84.84L92.58,84.89L92.69,84.84L92.79,84.45L92.90,84.29L93.01,84.07L93.12,84.33L93.23,84.34L93.33,84.47L93.44,84.18L93.55,84.31L93.66,84.52L93.76,84.40L93.87,84.49L93.98,84.93L94.09,84.60L94.20,84.75L94.30,84.86L94.41,84.88L94.52,84.54L94.63,84.53L94.73,84.43L94.84,84.80L94.95,84.64L95.06,84.31L95.16,84.54L95.27,84.38L95.38,84.47L95.49,83.87L95.60,83.97L95.70,84.06L95.81,84.13L95.92,84.28L96.03,84.35L96.13,84.29L96.24,84.58L96.35,84.38L96.46,84.72L96.57,84.85L96.67,84.56L96.78,84.79L96.89,84.67L97.00,84.77L97.10,84.97L97.21,84.46L97.32,84.63L97.43,84.15L97.54,84.44L97.64,84.38L97.75,83.97L97.86,83.90L97.97,83.93L98.07,84.14L98.18,83.86L98.29,84.28L98.40,84.22L98.51,84.38L98.61,84.43L98.72,84.35L98.83,84.67L98.94,84.56L99.04,84.58L99.15,84.95L99.26,84.85L99.37,84.67L99.48,84.62L99.58,84.38L99.69,84.60L99.80,84.07L99.91,83.95L100.01,83.99L100.12,84.09L100.23,83.83L100.34,83.90L100.45,83.75L100.55,83.89L100.66,83.84L100.77,84.11L100.88,83.93L100.98,84.61L101.09,84.52L101.20,84.37L101.31,84.74L101.42,84.44L101.52,84.74L101.63,84.51L101.74,84.61L101.85,84.46L101.95,84.26L102.06,84.19L102.17,84.12L102.28,83.63L102.38,83.87L102.49,83.95L102.60,83.62L102.71,83.62L102.82,83.58L102.92,83.53L103.03,84.01L103.14,83.80L103.25,83.88L103.35,84.14L103.46,84.19L103.57,84.76L103.68,84.44L103.79,84.11L103.89,84.66L104.00,84.44L104.11,84.26L104.22,84.15L104.32,83.90L104.43,84.32L104.54,83.95L104.65,83.74L104.76,83.99L104.86,83.74L104.97,83.42L105.08,83.49L105.19,83.63L105.29,84.14L105.40,83.82L105.51,83.81L105.62,84.00L105.73,84.04L105.83,83.63L105.94,84.19L106.05,84.34L106.16,84.18L106.26,84.26L106.37,84.23L106.48,84.16L106.59,83.97L106.70,83.97L106.80,84.11L106.91,83.87L107.02,83.71L107.13,83.79L107.23,83.49L107.34,83.52L107.45,83.78L107.56,83.60L107.67,83.38L107.77,83.49L107.88,83.79L107.99,83.71L108.10,84.01L108.20,84.19L108.31,83.93L108.42,84.01L108.53,83.99L108.63,84.07L108.74,83.99L108.85,84.08L108.96,83.87L109.07,83.76L109.17,83.82L109.28,83.62L109.39,83.95L109.50,83.74L109.60,83.36L109.71,83.29L109.82,83.51L109.93,83.58L110.04,83.78L110.14,83.58L110.25,83.57L110.36,83.96L110.47,83.71L110.57,83.77L110.68,83.82L110.79,84.09L110.90,83.85L111.01,84.15L111.11,83.68L111.22,83.85L111.33,83.99L111.44,83.55L111.54,83.52L111.65,83.73L111.76,83.24L111.87,83.68L111.98,83.44L112.08,83.29L112.19,83.81L112.30,83.32L112.41,83.51L112.51,83.54L112.62,83.74L112.73,83.58L112.84,83.85L112.95,83.87L113.05,83.83L113.16,83.97L113.27,83.56L113.38,83.99L113.48,83.88L113.59,83.78L113.70,83.69L113.81,83.51L113.92,83.45L114.02,83.57L114.13,83.53L114.24,83.42L114.35,83.27L114.45,83.27L114.56,83.45L114.67,83.69L114.78,83.08L114.89,83.29L114.99,83.44L115.10,83.47L115.21,83.64L115.32,83.75L115.42,83.68L115.53,83.69L115.64,83.76L115.75,83.87L115.85,83.68L115.96,83.51L116.07,83.63L116.18,83.51L116.29,83.77L116.39,83.44L116.50,83.38L116.61,83.51L116.72,83.55L116.82,83.21L116.93,83.40L117.04,83.21L117.15,83.37L117.26,83.24L117.36,83.42L117.47,83.64L117.58,83.46L117.69,83.53L117.79,83.41L117.90,83.59L118.01,83.59L118.12,83.39L118.23,83.33L118.33,83.36L118.44,83.28L118.55,83.32L118.66,83.22L118.76,83.16L118.87,83.19L118.98,83.20L119.09,83.17L119.20,82.81L119.30,83.17L119.41,83.21L119.52,83.25L119.63,83.23L119.73,83.22L119.84,83.47L119.95,83.63L120.06,83.32L120.17,83.63L120.27,83.36L120.38,83.38L120.49,83.22L120.60,83.12L120.70,83.29L120.81,83.39L120.92,83.44L121.03,83.34L121.14,83.17L121.24,83.45L121.35,83.09L121.46,83.08L121.57,82.97L121.67,83.11L121.78,83.06L121.89,83.20L122.00,83.19L122.10,83.42L122.21,83.16L122.32,82.98L122.43,83.22L122.54,83.21L122.64,83.42L122.75,83.06L122.86,83.39L122.97,83.13L123.07,83.21L123.18,83.33L123.29,82.99L123.40,83.10L123.51,83.03L123.61,82.95L123.72,82.99L123.83,83.03L123.94,82.88L124.04,83.01L124.15,82.95L124.26,83.08L124.37,83.23L124.48,83.14L124.58,83.14L124.69,83.10L124.80,82.94L124.91,83.40L125.01,83.14L125.12,83.49L125.23,83.31L125.34,83.21L125.45,83.44L125.55,83.35L125.66,83.00L125.77,82.97L125.88,82.96L125.98,83.03L126.09,82.55L126.20,82.88L126.31,82.98L126.42,82.59L126.52,82.76L126.63,82.93L126.74,82.71L126.85,82.90L126.95,82.86L127.06,82.95L127.17,83.16L127.28,82.88L127.39,83.01L127.49,83.19L127.60,83.14L127.71,82.86L127.82,83.04L127.92,82.94L128.03,82.81L128.14,82.85L128.25,83.06L128.36,82.70L128.46,82.63L128.57,82.62L128.68,82.49L128.79,82.68L128.89,82.63L129.00,82.52L129.11,82.83L129.22,82.55L129.32,82.58L129.43,82.75L129.54,82.62L129.65,82.78L129.76,83.05L129.86,82.75L129.97,82.86L130.08,82.83L130.19,82.84L130.29,82.63L130.40,82.71L130.51,82.86L130.62,82.65L130.73,82.58L130.83,82.77L130.94,82.71L131.05,82.69L131.16,82.72L131.26,82.59L131.37,82.50L131.48,82.39L131.59,82.53L131.70,82.58L131.80,82.59L131.91,82.58L132.02,82.86L132.13,82.70L132.23,82.76L132.34,82.82L132.45,82.85L132.56,82.83L132.67,82.76L132.77,82.87L132.88,82.57L132.99,82.61L133.10,82.56L133.20,82.50L133.31,82.43L133.42,82.62L133.53,82.55L133.64,82.78L133.74,82.89L133.85,82.87L133.96,82.37L134.07,82.91L134.17,82.58L134.28,82.45L134.39,82.76L134.50,82.45L134.61,82.42L134.71,82.54L134.82,82.31L134.93,82.55L135.04,82.72L135.14,82.50L135.25,82.61L135.36,82.70L135.47,82.67L135.57,82.10L135.68,82.52L135.79,82.43L135.90,82.53L136.01,82.42L136.11,82.49L136.22,82.54L136.33,82.68L136.44,82.74L136.54,82.66L136.65,82.52L136.76,82.27L136.87,82.43L136.98,82.31L137.08,82.50L137.19,82.57L137.30,82.73L137.41,82.50L137.51,82.79L137.62,82.48L137.73,82.15L137.84,82.32L137.95,82.18L138.05,82.39L138.16,82.54L138.27,82.40L138.38,82.40L138.48,82.17L138.59,82.07L138.70,82.51L138.81,82.48L138.92,82.47L139.02,82.51L139.13,82.66L139.24,82.47L139.35,82.42L139.45,82.41L139.56,82.63L139.67,82.44L139.78,82.66L139.89,82.22L139.99,82.48L140.10,82.34L140.21,82.34L140.32,82.34L140.42,82.39L140.53,82.49L140.64,81.97L140.75,82.20L140.86,82.21L140.96,81.96L141.07,82.31L141.18,82.24L141.29,82.34L141.39,82.18L141.50,82.29L141.61,82.33L141.72,82.41L141.83,82.32L141.93,82.16L142.04,82.63L142.15,82.31L142.26,82.32L142.36,82.27L142.47,82.49L142.58,82.06L142.69,82.28L142.79,82.17L142.90,82.21L143.01,82.38L143.12,82.21L143.23,82.43L143.33,82.32L143.44,82.24L143.55,82.22L143.66,82.23L143.76,82.28L143.87,81.94L143.98,82.20L144.09,82.45L144.20,82.35L144.30,82.34L144.41,82.24L144.52,82.28L144.63,82.28L144.73,81.87L144.84,82.09L144.95,82.12L145.06,82.09L145.17,82.07L145.27,81.82L145.38,81.96L145.49,81.87L145.60,82.53L145.70,82.03L145.81,81.94L145.92,81.82L146.03,82.14L146.14,82.42L146.24,82.08L146.35,82.26L146.46,82.44L146.57,82.25L146.67,81.97L146.78,81.93L146.89,81.97L147.00,82.21L147.11,81.64L147.21,82.17L147.32,81.98L147.43,82.17L147.54,81.74L147.64,81.87L147.75,81.81L147.86,81.94L147.97,81.97L148.08,81.96L148.18,82.29L148.29,81.87L148.40,81.90L148.51,82.12L148.61,82.07L148.72,82.02L148.83,81.83L148.94,81.99L149.04,82.03L149.15,82.09L149.26,82.21L149.37,82.04L149.48,81.91L149.58,81.94L149.69,81.86L149.80,81.74L149.91,81.78L150.01,81.80L150.12,81.75L150.23,81.83L150.34,81.87L150.45,81.82L150.55,82.17L150.66,81.74L150.77,82.14L150.88,81.83L150.98,81.97L151.09,81.80L151.20,81.96L151.31,82.10L151.42,81.77L151.52,81.88L151.63,81.87L151.74,81.84L151.85,81.67L151.95,81.68L152.06,81.74L152.17,82.00L152.28,81.81L152.39,81.73L152.49,81.48L152.60,81.70L152.71,81.79L152.82,81.61L152.92,81.83L153.03,81.84L153.14,81.83L153.25,82.09L153.36,81.73L153.46,81.81L153.57,81.91L153.68,82.03L153.79,81.80L153.89,81.60L154.00,81.88L154.11,81.92L154.22,81.67L154.33,81.95L154.43,82.02L154.54,81.74L154.65,81.76L154.76,81.70L154.86,81.74L154.97,81.62L155.08,81.72L155.19,81.79" stroke="#ff6800"/>
<path d="M31.37,52.91L31.48,52.95L31.59,53.07L31.69,52.91L31.80,53.20L31.91,53.19L32.02,52.87L32.13,53.21L32.23,52.76L32.34,53.02L32.45,52.94L32.56,52.96L32.66,52.91L32.77,53.02L32.88,53.03L32.99,52.99L33.10,52.81L33.20,52.80L33.31,52.77L33.42,52.91L33.53,53.00L33.63,53.22L33.74,52.87L33.85,52.83L33.96,53.02L34.06,52.84L34.17,52.76L34.28,52.94L34.39,52.79L34.50,52.90L34.60,53.21L34.71,53.02L34.82,53.01L34.93,52.86L35.03,53.07L35.14,53.00L35.25,53.08L35.36,52.94L35.47,52.92L35.57,52.77L35.68,52.80L35.79,52.89L35.90,52.87L36.00,52.89L36.11,52.88L36.22,52.66L36.33,53.27L36.44,52.91L36.54,52.83L36.65,52.70L36.76,53.03L36.87,52.81L36.97,52.72L37.08,52.91L37.19,53.13L37.30,52.89L37.41,53.00L37.51,52.71L37.62,52.93L37.73,52.52L37.84,52.76L37.94,52.89L38.05,52.83L38.16,52.91L38.27,52.67L38.38,52.49L38.48,52.73L38.59,52.54L38.70,52.81L38.81,52.60L38.91,52.28L39.02,52.82L39.13,52.40L39.24,52.39L39.35,52.83L39.45,52.74L39.56,52.64L39.67,52.32L39.78,52.50L39.88,52.43L39.99,52.26L40.10,52.32L40.21,52.27L40.32,52.31L40.42,52.05L40.53,52.29L40.64,51.86L40.75,52.11L40.85,52.10L40.96,51.78L41.07,51.68L41.18,51.87L41.28,51.28L41.39,51.17L41.50,50.60L41.61,49.68L41.72,49.03L41.82,47.67L41.93,46.31L42.04,44.16L42.15,42.36L42.25,40.14L42.36,37.55L42.47,34.87L42.58,32.14L42.69,29.82L42.79,27.74L42.90,26.47L43.01,25.74L43.12,25.78L43.22,26.66L43.33,28.04L43.44,29.91L43.55,32.19L43.66,34.84L43.76,37.53L43.87,39.96L43.98,42.65L44.09,46.60L44.19,50.65L44.30,55.35L44.41,60.16L44.52,64.14L44.63,66.56L44.73,68.31L44.84,69.12L44.95,68.38L45.06,66.95L45.16,65.14L45.27,61.86L45.38,59.41L45.49,56.29L45.60,53.66L45.70,51.21L45.81,49.84L45.92,48.87L46.03,48.81L46.13,49.91L46.24,51.71L46.35,53.78L46.46,56.90L46.57,59.55L46.67,62.60L46.78,65.08L46.89,67.16L47.00,68.56L47.10,69.25L47.21,69.26L47.32,68.40L47.43,66.77L47.54,64.90L47.64,62.80L47.75,60.37L47.86,58.09L47.97,56.01L48.07,54.41L48.18,53.42L48.29,53.13L48.40,53.26L48.50,54.28L48.61,55.82L48.72,57.08L48.83,59.26L48.94,61.17L49.04,63.15L49.15,64.58L49.26,66.21L49.37,66.89L49.47,67.41L49.58,67.41L49.69,66.86L49.80,65.55L49.91,64.24L50.01,62.68L50.12,60.96L50.23,59.72L50.34,58.43L50.44,57.51L50.55,56.85L50.66,56.71L50.77,56.98L50.88,57.11L50.98,58.57L51.09,59.35L51.20,60.55L51.31,61.85L51.41,63.20L51.52,64.09L51.63,64.89L51.74,65.46L51.85,65.47L51.95,65.38L52.06,64.98L52.17,64.14L52.28,63.60L52.38,62.49L52.49,61.75L52.60,60.77L52.71,60.15L52.82,59.63L52.92,59.54L53.03,59.45L53.14,59.60L53.25,59.74L53.35,60.07L53.46,60.50L53.57,61.23L53.68,61.59L53.79,62.23L53.89,62.59L54.00,62.55L54.11,62.58L54.22,62.66L54.32,62.57L54.43,62.02L54.54,61.99L54.65,61.86L54.75,60.99L54.86,61.05L54.97,60.87L55.08,60.47L55.19,60.46L55.29,59.91L55.40,60.22L55.51,60.10L55.62,59.92L55.72,60.12L55.83,60.02L55.94,60.81L56.05,61.12L56.16,61.49L56.26,61.98L56.37,62.43L56.48,62.95L56.59,62.95L56.69,63.43L56.80,63.17L56.91,62.66L57.02,62.20L57.13,61.35L57.23,60.39L57.34,59.38L57.45,58.46L57.56,57.52L57.66,57.03L57.77,56.41L57.88,56.71L57.99,56.51L58.10,57.23L58.20,58.27L58.31,59.62L58.42,60.93L58.53,61.93L58.63,63.26L58.74,64.17L58.85,65.03L58.96,65.07L59.07,65.27L59.17,64.63L59.28,64.03L59.39,62.67L59.50,61.08L59.60,59.69L59.71,58.17L59.82,56.61L59.93,55.63L60.04,54.68L60.14,54.90L60.25,54.58L60.36,55.17L60.47,56.47L60.57,57.75L60.68,58.96L60.79,60.87L60.90,62.37L61.01,63.56L61.11,64.77L61.22,65.32L61.33,65.75L61.44,65.33L61.54,64.54L61.65,63.59L61.76,62.62L61.87,60.68L61.97,59.21L62.08,57.88L62.19,56.27L62.30,55.79L62.41,54.67L62.51,54.88L62.62,54.81L62.73,55.69L62.84,56.83L62.94,57.80L63.05,59.07L63.16,60.35L63.27,61.48L63.38,62.80L63.48,63.33L63.59,63.72L63.70,63.94L63.81,63.78L63.91,63.22L64.02,62.15L64.13,61.16L64.24,60.35L64.35,59.37L64.45,58.02L64.56,57.65L64.67,56.81L64.78,56.63L64.88,56.72L64.99,56.64L65.10,57.12L65.21,57.50L65.32,58.12L65.42,59.30L65.53,59.89L65.64,60.59L65.75,61.37L65.85,61.80L65.96,61.59L66.07,61.86L66.18,61.60L66.29,61.28L66.39,60.79L66.50,60.35L66.61,59.62L66.72,59.07L66.82,58.91L66.93,58.77L67.04,58.37L67.15,58.54L67.26,58.45L67.36,58.30L67.47,58.32L67.58,58.84L67.69,59.29L67.79,59.23L67.90,59.88L68.01,59.80L68.12,59.57L68.22,59.75L68.33,60.09L68.44,60.11L68.55,59.68L68.66,59.74L68.76,59.72L68.87,59.44L68.98,59.44L69.09,59.48L69.19,58.89L69.30,58.93L69.41,58.82L69.52,58.73L69.63,58.41L69.73,58.54L69.84,58.36L69.95,58.62L70.06,58.62L70.16,59.10L70.27,59.46L70.38,60.00L70.49,60.19L70.60,60.21L70.70,60.06L70.81,60.81L70.92,60.74L71.03,60.36L71.13,60.02L71.24,59.75L71.35,59.10L71.46,58.76L71.57,57.97L71.67,57.25L71.78,56.70L71.89,56.68L72.00,56.58L72.10,56.55L72.21,56.73L72.32,57.27L72.43,58.03L72.54,58.54L72.64,59.15L72.75,60.08L72.86,60.77L72.97,60.95L73.07,61.24L73.18,61.22L73.29,61.19L73.40,60.93L73.51,60.33L73.61,59.70L73.72,58.87L73.83,57.97L73.94,57.15L74.04,56.21L74.15,56.02L74.26,55.51L74.37,55.51L74.48,55.36L74.58,55.94L74.69,56.65L74.80,57.24L74.91,58.21L75.01,59.18L75.12,59.71L75.23,60.54L75.34,60.91L75.44,61.28L75.55,61.37L75.66,61.24L75.77,60.94L75.88,59.98L75.98,59.24L76.09,58.22L76.20,57.40L76.31,56.65L76.41,55.99L76.52,55.22L76.63,54.86L76.74,55.08L76.85,55.21L76.95,55.53L77.06,56.51L77.17,57.20L77.28,58.14L77.38,58.59L77.49,59.45L77.60,60.13L77.71,60.70L77.82,60.65L77.92,60.43L78.03,60.36L78.14,59.94L78.25,59.21L78.35,58.82L78.46,57.93L78.57,57.18L78.68,56.80L78.79,56.34L78.89,55.86L79.00,55.77L79.11,55.83L79.22,55.95L79.32,56.28L79.43,56.88L79.54,57.33L79.65,57.67L79.76,58.06L79.86,58.45L79.97,59.11L80.08,59.02L80.19,59.15L80.29,59.21L80.40,58.95L80.51,58.62L80.62,58.12L80.73,58.16L80.83,57.52L80.94,57.27L81.05,56.98L81.16,56.55L81.26,56.46L81.37,56.69L81.48,56.62L81.59,56.66L81.69,57.08L81.80,56.94L81.91,57.29L82.02,57.46L82.13,57.61L82.23,57.52L82.34,57.88L82.45,57.97L82.56,57.65L82.66,57.93L82.77,57.85L82.88,57.88L82.99,57.39L83.10,57.40L83.20,57.26L83.31,57.20L83.42,57.17L83.53,57.20L83.63,57.15L83.74,56.93L83.85,56.97L83.96,56.75L84.07,57.13L84.17,57.14L84.28,57.28L84.39,57.00L84.50,57.47L84.60,57.26L84.71,57.23L84.82,57.53L84.93,57.44L85.04,57.87L85.14,57.58L85.25,57.70L85.36,57.32L85.47,57.19L85.57,57.14L85.68,56.70L85.79,56.60L85.90,56.56L86.01,56.43L86.11,56.48L86.22,56.26L86.33,55.94L86.44,56.47L86.54,56.45L86.65,56.80L86.76,56.83L86.87,57.13L86.98,57.47L87.08,57.90L87.19,57.85L87.30,57.66L87.41,57.87L87.51,57.64L87.62,57.63L87.73,57.59L87.84,56.95L87.95,56.65L88.05,56.46L88.16,56.13L88.27,55.77L88.38,55.72L88.48,55.48L88.59,55.56L88.70,55.97L88.81,55.83L88.91,56.15L89.02,56.50L89.13,56.66L89.24,57.14L89.35,57.30L89.45,57.47L89.56,57.79L89.67,58.11L89.78,57.96L89.88,57.58L89.99,57.51L90.10,57.28L90.21,56.80L90.32,56.31L90.42,55.95L90.53,55.54L90.64,55.48L90.75,55.20L90.85,55.11L90.96,55.10L91.07,55.54L91.18,55.50L91.29,55.97L91.39,55.92L91.50,56.27L91.61,56.60L91.72,57.03L91.82,57.45L91.93,57.36L92.04,57.57L92.15,57.38L92.26,57.44L92.36,57.16L92.47,56.71L92.58,56.20L92.69,56.15L92.79,55.52L92.90,55.21L93.01,55.63L93.12,55.34L93.23,55.46L93.33,55.39L93.44,55.56L93.55,55.64L93.66,55.68L93.76,55.88L93.87,56.18L93.98,56.39L94.09,56.50L94.20,56.59L94.30,56.57L94.41,56.65L94.52,56.52L94.63,56.70L94.73,56.27L94.84,55.99L94.95,56.08L95.06,56.18L95.16,55.64L95.27,55.79L95.38,56.10L95.49,55.63L95.60,55.47L95.70,55.51L95.81,55.42L95.92,55.58L96.03,55.74L96.13,56.16L96.24,56.14L96.35,56.06L96.46,56.08L96.57,56.40L96.67,56.39L96.78,56.24L96.89,56.57L97.00,56.52L97.10,56.17L97.21,55.99L97.32,55.97L97.43,56.10L97.54,55.62L97.64,55.70L97.75,55.31L97.86,55.36L97.97,55.27L98.07,55.22L98.18,55.44L98.29,55.32L98.40,55.36L98.51,55.61L98.61,55.61L98.72,56.03L98.83,55.91L98.94,56.10L99.04,56.34L99.15,56.22L99.26,56.26L99.37,56.19L99.48,55.99L99.58,55.71L99.69,55.76L99.80,55.54L99.91,55.62L100.01,55.25L100.12,54.98L100.23,54.96L100.34,54.98L100.45,55.15L100.55,55.28L100.66,55.24L100.77,55.56L100.88,55.69L100.98,55.51L101.09,55.93L101.20,55.64L101.31,56.22L101.42,55.99L101.52,56.24L101.63,56.00L101.74,56.10L101.85,55.82L101.95,55.71L102.06,55.60L102.17,55.30L102.28,55.00L102.38,55.18L102.49,54.87L102.60,54.93L102.71,54.93L102.82,54.62L102.92,55.34L103.03,55.21L103.14,55.49L103.25,55.40L103.35,55.51L103.46,55.03L103.57,55.64L103.68,55.50L103.79,55.61L103.89,55.87L104.00,55.69L104.11,55.44L104.22,55.57L104.32,55.44L104.43,55.27L104.54,55.45L104.65,55.23L104.76,54.97L104.86,54.87L104.97,55.04L105.08,54.95L105.19,54.94L105.29,54.99L105.40,54.93L105.51,55.11L105.62,55.19L105.73,55.52L105.83,55.54L105.94,55.40L106.05,55.73L106.16,55.47L106.26,55.61L106.37,55.60L106.48,55.33L106.59,55.45L106.70,55.40L106.80,55.29L106.91,55.09L107.02,54.61L107.13,55.27L107.23,54.91L107.34,54.92L107.45,54.73L107.56,54.94L107.67,55.29L107.77,54.76L107.88,55.19L107.99,55.09L108.10,55.35L108.20,55.37L108.31,55.33L108.42,55.15L108.53,55.17L108.63,55.38L108.74,55.20L108.85,55.29L108.96,55.16L109.07,55.09L109.17,54.95L109.28,55.06L109.39,54.93L109.50,54.82L109.60,54.80L109.71,54.91L109.82,54.52L109.93,54.86L110.04,54.70L110.14,54.83L110.25,54.72L110.36,55.29L110.47,54.71L110.57,55.10L110.68,55.29L110.79,55.12L110.90,54.81L111.01,55.07L111.11,55.31L111.22,55.15L111.33,54.84L111.44,55.19L111.54,54.94L111.65,54.90L111.76,54.47L111.87,54.80L111.98,54.52L112.08,54.80L112.19,54.81L112.30,54.55L112.41,54.63L112.51,55.02L112.62,54.71L112.73,54.76L112.84,55.00L112.95,54.92L113.05,54.94L113.16,55.08L113.27,55.11L113.38,55.11L113.48,55.03L113.59,55.16L113.70,54.92L113.81,55.09L113.92,54.80L114.02,54.77L114.13,54.86L114.24,54.54L114.35,54.34L114.45,54.42L114.56,54.82L114.67,54.43L114.78,54.61L114.89,54.69L114.99,54.81L115.10,54.77L115.21,54.60L115.32,54.76L115.42,54.94L115.53,55.00L115.64,54.97L115.75,54.81L115.85,54.60L115.96,55.01L116.07,54.81L116.18,54.82L116.29,54.83L116.39,54.61L116.50,54.54L116.61,54.80L116.72,54.71L116.82,54.36L116.93,54.49L117.04,54.47L117.15,54.65L117.26,54.66L117.36,54.57L117.47,54.75L117.58,54.88L117.69,54.75L117.79,54.64L117.90,54.95L118.01,54.65L118.12,54.69L118.23,54.91L118.33,54.75L118.44,54.72L118.55,54.58L118.66,54.53L118.76,54.78L118.87,54.74L118.98,54.35L119.09,54.47L119.20,54.41L119.30,54.42L119.41,54.25L119.52,54.68L119.63,54.36L119.73,54.69L119.84,54.49L119.95,54.44L120.06,54.88L120.17,54.63L120.27,54.75L120.38,54.76L120.49,54.70L120.60,54.85L120.70,54.81L120.81,54.53L120.92,54.46L121.03,54.63L121.14,54.72L121.24,54.12L121.35,54.27L121.46,54.36L121.57,54.55L121.67,54.49L121.78,54.37L121.89,54.57L122.00,54.22L122.10,54.47L122.21,54.47L122.32,54.71L122.43,54.73L122.54,54.73L122.64,54.59L122.75,54.67L122.86,54.67L122.97,54.56L123.07,54.55L123.18,54.33L123.29,54.54L123.40,54.62L123.51,54.43L123.61,54.18L123.72,54.45L123.83,54.34L123.94,54.39L124.04,54.27L124.15,54.31L124.26,54.48L124.37,54.43L124.48,54.28L124.58,54.29L124.69,54.35L124.80,54.39L124.91,54.59L125.01,54.61L125.12,54.42L125.23,54.73L125.34,54.54L125.45,54.79L125.55,54.53L125.66,54.54L125.77,54.58L125.88,54.27L125.98,54.44L126.09,54.35L126.20,54.32L126.31,54.38L126.42,54.06L126.52,54.36L126.63,54.27L126.74,54.52L126.85,54.43L126.95,54.44L127.06,54.47L127.17,54.54L127.28,54.45L127.39,54.25L127.49,54.51L127.60,54.50L127.71,54.52L127.82,54.06L127.92,54.16L128.03,54.28L128.14,54.23L128.25,54.40L128.36,54.28L128.46,54.20L128.57,54.20L128.68,54.34L128.79,54.33L128.89,54.14L129.00,54.19L129.11,54.58L129.22,54.28L129.32,54.14L129.43,54.45L129.54,54.35L129.65,54.62L129.76,54.29L129.86,54.58L129.97,54.59L130.08,54.44L130.19,54.01L130.29,54.42L130.40,54.49L130.51,54.19L130.62,54.19L130.73,53.95L130.83,54.36L130.94,54.39L131.05,54.19L131.16,54.09L131.26,54.11L131.37,54.02L131.48,54.43L131.59,54.36L131.70,54.28L131.80,54.17L131.91,54.24L132.02,54.39L132.13,54.49L132.23,54.21L132.34,54.19L132.45,53.92L132.56,54.32L132.67,54.02L132.77,54.41L132.88,54.28L132.99,54.26L133.10,54.20L133.20,54.24L133.31,54.17L133.42,54.09L133.53,54.16L133.64,54.00L133.74,54.13L133.85,54.14L133.96,53.95L134.07,54.15L134.17,54.20L134.28,54.25L134.39,54.25L134.50,54.19L134.61,54.39L134.71,54.09L134.82,54.01L134.93,54.05L135.04,54.27L135.14,54.40L135.25,54.19L135.36,54.07L135.47,53.94L135.57,54.07L135.68,54.07L135.79,53.80L135.90,54.13L136.01,53.88L136.11,53.92L136.22,54.28L136.33,54.06L136.44,54.21L136.54,54.30L136.65,54.45L136.76,54.43L136.87,54.14L136.98,54.26L137.08,54.15L137.19,54.33L137.30,54.20L137.41,54.16L137.51,54.32L137.62,54.30L137.73,53.96L137.84,53.98L137.95,54.12L138.05,53.98L138.16,53.86L138.27,53.69L138.38,54.11L138.48,53.90L138.59,53.70L138.70,54.03L138.81,53.85L138.92,54.47L139.02,53.90L139.13,54.13L139.24,54.41L139.35,54.01L139.45,53.97L139.56,53.92L139.67,53.90L139.78,54.06L139.89,54.13L139.99,54.06L140.10,53.97L140.21,53.88L140.32,53.99L140.42,53.90L140.53,53.77L140.64,53.86L140.75,53.57L140.86,53.61L140.96,54.12L141.07,54.06L141.18,54.20L141.29,54.20L141.39,53.96L141.50,54.20L141.61,54.22L141.72,54.10L141.83,53.93L141.93,54.09L142.04,54.07L142.15,53.85L142.26,53.89L142.36,53.86L142.47,53.76L142.58,54.02L142.69,53.82L142.79,53.94L142.90,53.69L143.01,53.72L143.12,54.01L143.23,53.67L143.33,54.07L143.44,53.74L143.55,53.91L143.66,54.09L143.76,54.15L143.87,54.04L143.98,54.00L144.09,54.10L144.20,53.90L144.30,54.18L144.41,53.95L144.52,53.92L144.63,54.17L144.73,53.82L144.84,54.02L144.95,54.18L145.06,53.89L145.17,53.82L145.27,53.64L145.38,53.86L145.49,53.58L145.60,53.60L145.70,53.67L145.81,53.66L145.92,53.83L146.03,53.98L146.14,53.82L146.24,53.78L146.35,53.90L146.46,53.97L146.57,54.15L146.67,53.80L146.78,53.83L146.89,54.05L147.00,53.81L147.11,53.69L147.21,53.79L147.32,53.63L147.43,53.62L147.54,53.94L147.64,53.77L147.75,53.65L147.86,53.60L147.97,53.54L148.08,54.06L148.18,53.81L148.29,53.71L148.40,53.66L148.51,53.60L148.61,54.00L148.72,53.93L148.83,54.02L148.94,53.73L149.04,54.04L149.15,53.64L149.26,53.65L149.37,53.69L149.48,54.06L149.58,53.81L149.69,53.58L149.80,53.89L149.91,53.70L150.01,53.68L150.12,53.53L150.23,53.64L150.34,53.65L150.45,53.78L150.55,53.74L150.66,53.78L150.77,53.67L150.88,53.82L150.98,53.65L151.09,54.06L151.20,53.63L151.31,53.82L151.42,53.61L151.52,53.74L151.63,53.60L151.74,53.48L151.85,53.76L151.95,53.64L152.06,53.66L152.17,53.59L152.28,53.85L152.39,53.63L152.49,53.65L152.60,53.74L152.71,53.67L152.82,53.89L152.92,53.47L153.03,53.64L153.14,53.44L153.25,53.87L153.36,53.92L153.46,53.71L153.57,53.99L153.68,53.70L153.79,53.82L153.89,53.75L154.00,53.63L154.11,53.64L154.22,53.34L154.33,53.50L154.43,53.77L154.54,53.41L154.65,53.75L154.76,53.54" stroke="#800000"/>
</g>
<g clip-path="url(#cr)" fill="none" stroke-linejoin="round">
<path d="M249.10,59.08L249.32,58.86L249.54,58.86L249.76,59.11L249.98,59.20L250.20,58.59L250.42,58.96L250.64,59.05L250.86,58.89L251.08,58.54L251.30,58.95L251.52,58.28L251.74,58.61L251.96,58.70L252.18,57.62L252.40,57.97L252.60,58.00L252.65,58.18L252.70,58.77L252.75,58.97L252.80,58.06L252.85,55.85L252.90,52.76L252.95,49.67L253.00,47.51L253.05,47.08L253.10,49.33L253.15,54.52L253.20,61.94L253.25,70.26L253.30,77.89L253.35,80.53L253.40,79.65L253.45,74.12L253.50,63.53L253.55,48.37L253.60,30.16L253.65,11.53L253.70,0.00L253.75,0.00L253.80,0.00L253.85,4.66L253.90,29.36L253.95,60.81L254.00,82.34L254.05,87.14L254.10,75.88L254.15,54.14L254.20,31.28L254.25,16.58L254.30,15.33L254.35,26.88L254.40,45.63L254.45,64.18L254.50,76.82L254.55,81.49L254.60,79.35L254.65,71.72L254.70,61.25L254.75,50.73L254.80,42.74L254.85,38.48L254.90,38.10L254.95,41.01L255.00,46.20L255.05,52.51L255.10,58.81L255.15,64.12L255.20,67.65L255.25,69.61L255.30,68.95L255.35,65.57L255.40,59.83L255.45,52.61L255.50,45.34L255.55,39.74L255.60,37.45L255.65,39.45L255.70,45.48L255.75,53.85L255.80,61.81L255.85,66.45L255.90,65.92L255.95,60.30L256.00,51.67L256.05,43.24L256.10,38.03L256.15,37.63L256.20,41.81L256.25,48.78L256.30,56.13L256.35,61.72L256.40,64.28L256.45,63.54L256.50,60.06L256.55,54.67L256.60,49.12L256.65,44.39L256.70,41.12L256.75,39.56L256.80,39.71L256.85,41.31L256.90,43.97L256.95,47.16L257.00,50.30L257.05,52.81L257.10,54.22L257.15,54.25L257.20,52.95L257.25,50.72L257.30,48.23L257.35,46.13L257.40,44.77L257.45,44.51L257.50,45.35L257.55,46.84L257.60,48.34L257.65,49.26L257.70,49.33L257.75,48.67L257.80,47.68L257.85,46.78L257.95,46.78L258.17,46.67L258.39,46.28L258.61,46.08L258.83,45.28L259.05,45.58L259.27,45.72L259.49,45.15L259.71,45.04L259.93,45.28L260.15,45.59L260.37,45.77L260.59,45.81L260.81,46.06L261.03,45.45L261.25,44.72L261.47,46.56L261.69,47.06L261.91,45.38L262.13,45.83L262.35,46.37L262.57,46.76L262.79,46.68L263.01,47.15L263.23,46.70L263.45,47.30L263.67,47.78L263.89,47.85L264.11,49.28L264.33,49.63L264.55,50.64L264.77,50.63L264.99,52.12L265.21,51.58L265.43,52.94L265.65,51.83L265.87,53.22L266.09,54.57L266.31,54.24L266.53,54.91L266.75,54.23L266.97,56.24L267.19,55.97L267.41,55.94L267.63,56.50L267.85,56.75L268.07,57.67L268.29,57.46L268.51,57.01L268.73,58.10L268.95,59.33L269.17,59.28L269.39,59.13L269.61,59.98L269.83,59.99L270.05,60.57L270.27,59.66L270.49,60.23L270.71,61.27L270.93,61.04L271.15,61.50L271.37,62.45L271.59,61.42L271.81,61.99L272.03,61.72L272.25,61.93L272.47,62.41L272.69,61.73L272.91,61.42L273.13,63.37L273.35,62.67L273.57,63.31L273.79,62.74L274.01,62.69L274.23,62.91L274.45,62.78L274.67,61.58L274.89,62.78L275.11,61.49L275.33,61.98L275.55,63.06L275.77,61.69L275.99,62.48L276.21,61.31L276.43,61.76L276.65,61.47L276.87,61.64L277.09,60.99L277.31,61.01L277.53,61.72L277.75,60.71L277.97,61.19L278.19,62.16L278.41,61.54L278.63,61.55L278.85,61.53L279.07,62.41L279.29,62.26L279.51,62.72L279.73,62.64L279.95,64.00L280.17,63.03L280.39,62.43L280.61,63.64L280.83,63.71L281.05,63.93L281.27,63.05L281.49,64.64L281.71,64.02L281.93,64.07L282.15,63.23L282.37,64.27L282.59,63.87L282.81,64.54L283.03,63.57L283.25,63.06L283.47,63.80L283.69,63.23L283.91,63.85L284.13,62.87L284.35,63.36L284.57,63.18L284.79,63.12L285.01,62.66L285.23,62.44L285.45,62.77L285.67,62.35L285.89,62.62L286.11,62.24L286.33,61.24L286.55,62.39L286.77,63.24L286.99,62.86L287.21,63.23L287.43,63.29L287.65,62.98L287.87,62.69L288.09,64.01L288.31,64.29L288.53,64.17L288.75,64.22L288.97,64.17L289.19,63.89L289.41,63.94L289.63,63.69L289.85,63.61L290.07,62.64L290.29,62.55L290.51,62.92L290.73,62.16L290.95,60.69L291.17,61.76L291.39,60.13L291.61,62.12L291.83,61.23L292.05,61.06L292.27,60.14L292.49,59.78L292.71,60.15L292.93,60.22L293.15,59.86L293.37,60.46L293.59,60.90L293.81,61.03L294.03,60.36L294.25,60.06L294.47,61.58L294.69,61.60L294.91,62.58L295.13,63.57L295.35,63.87L295.57,63.48L295.79,64.22L296.01,64.72L296.23,64.00L296.45,64.24L296.67,64.63L296.89,64.21L297.11,63.96L297.33,63.89L297.55,64.30L297.77,63.88L297.99,64.60L298.21,63.98L298.43,64.86L298.65,64.74L298.87,63.29L299.09,64.39L299.31,63.52L299.53,64.27L299.75,63.70L299.97,63.28L300.19,63.50L300.41,62.64L300.63,63.06L300.85,62.97L301.07,62.65L301.29,62.87L301.51,62.15L301.73,62.93L301.95,61.99L302.17,62.98L302.39,62.96L302.61,63.10L302.83,62.45L303.05,64.40L303.27,62.66L303.49,62.92L303.71,62.44L303.93,63.52L304.15,62.54L304.37,63.25L304.59,62.10L304.81,62.63L305.03,62.21L305.25,62.69L305.47,61.78L305.69,61.23L305.91,61.64L306.13,60.55L306.35,60.41L306.57,61.05L306.79,59.37L307.01,60.52L307.23,59.67L307.45,59.17L307.67,59.58L307.89,59.61L308.11,58.84L308.33,58.86L308.55,59.25L308.77,59.06L308.99,58.47L309.21,58.07L309.43,57.78L309.65,57.88L309.87,58.46L310.09,58.40L310.31,58.30L310.53,58.83L310.75,57.88L310.97,57.94L311.19,58.04L311.41,59.34L311.63,57.39L311.85,58.71L312.07,58.93L312.29,58.90L312.51,60.21L312.73,59.70L312.95,59.72L313.17,59.09L313.39,60.02L313.61,59.83L313.83,60.21L314.05,60.56L314.27,60.36L314.49,61.15L314.71,61.73L314.93,61.34L315.15,60.93L315.37,59.74L315.59,61.13L315.81,60.90L316.03,60.03L316.25,59.69L316.47,60.17L316.69,59.30L316.91,60.06L317.13,59.24L317.35,59.47L317.57,60.13L317.79,59.52L318.01,60.58L318.23,61.07L318.45,60.41L318.67,61.74L318.89,61.12L319.11,61.83L319.33,61.82L319.55,61.52L319.77,61.58L319.99,61.00L320.21,61.55L320.43,61.59L320.65,62.89L320.87,62.57L321.09,61.23L321.31,62.30L321.53,61.88L321.75,61.30L321.97,61.51L322.19,61.52L322.41,60.62L322.63,60.50L322.85,60.61L323.07,59.81L323.29,60.37L323.51,60.19L323.73,59.89L323.95,59.87L324.17,60.62L324.39,60.93L324.61,60.71L324.83,60.13L325.05,60.93L325.27,60.58L325.49,60.69L325.71,60.89L325.93,59.65L326.15,59.84L326.37,59.47L326.59,59.16L326.81,60.39L327.03,59.68L327.25,58.15L327.47,59.10L327.69,58.53L327.91,59.33L328.13,58.70L328.35,58.58L328.57,58.77L328.79,58.94L329.01,58.92L329.23,58.96L329.45,59.18L329.67,59.74L329.89,59.23L330.11,60.15L330.33,60.45L330.55,60.55L330.77,61.52L330.99,60.82L331.21,61.61L331.43,61.68L331.65,62.70L331.87,62.43L332.09,62.95L332.31,63.31L332.53,62.46L332.75,63.63L332.97,63.14L333.19,63.46L333.41,63.58L333.63,64.09L333.85,64.03L334.07,64.52L334.29,63.60L334.51,63.07L334.73,62.89L334.95,63.32L335.17,63.63L335.39,62.74L335.61,61.96L335.83,62.16L336.05,61.88L336.27,61.54L336.49,60.97L336.71,59.86L336.93,60.74L337.15,61.47L337.37,60.95L337.59,59.60L337.81,60.72L338.03,59.74L338.25,61.62L338.47,60.65L338.69,59.96L338.91,60.95L339.13,60.07L339.35,60.75L339.57,60.44L339.79,59.87L340.01,60.83L340.23,59.81L340.45,61.36L340.67,60.82L340.89,60.34L341.11,60.04L341.33,61.95L341.55,61.95L341.77,60.60L341.99,62.15L342.21,61.40L342.43,61.17L342.65,61.17L342.87,60.98L343.09,61.64L343.31,60.77L343.53,59.51L343.75,61.30L343.97,60.47L344.19,59.21L344.41,59.37L344.63,58.95L344.85,59.34L345.07,59.34L345.29,59.23L345.51,58.88L345.73,58.85L345.95,59.74L346.17,59.39L346.39,60.72L346.61,59.20L346.83,60.09L347.05,59.78L347.27,59.49L347.49,60.61L347.71,60.08L347.93,59.47L348.15,59.80L348.37,60.51L348.59,59.34L348.81,60.73L349.03,60.38L349.25,59.88L349.47,60.68L349.69,60.86L349.91,60.25L350.13,59.97L350.35,60.84L350.57,60.74L350.79,59.45L351.01,59.81L351.23,59.87L351.45,59.77L351.67,59.29L351.89,60.56L352.11,60.24L352.33,60.29L352.55,61.11L352.77,60.12L352.99,60.39L353.21,60.61L353.43,60.32L353.65,60.60L353.87,61.18L354.09,60.93L354.31,61.72L354.53,60.71L354.75,61.28L354.97,60.39L355.19,61.05L355.41,60.80L355.63,61.79L355.85,61.34L356.07,61.11L356.29,61.61L356.51,61.27L356.73,60.88L356.95,60.15L357.17,59.80L357.39,60.69L357.61,60.71L357.83,60.76L358.05,61.18L358.27,60.71L358.49,62.50L358.71,61.27L358.93,61.64L359.15,62.28L359.37,61.04L359.59,62.25L359.81,62.01L360.03,61.10L360.25,60.50L360.47,60.62L360.69,59.67L360.91,61.22L361.13,60.43L361.35,59.98L361.57,59.84L361.79,60.65L362.01,61.11L362.23,59.71L362.45,60.08L362.67,59.46L362.89,60.68L363.11,60.41L363.33,61.40L363.55,60.07L363.77,59.90L363.99,59.71L364.21,60.53L364.43,59.18L364.65,60.44L364.87,60.16L365.09,59.76L365.31,59.56L365.53,60.49L365.75,60.81L365.97,59.50L366.19,59.99L366.41,60.54L366.63,59.33L366.85,59.42L367.07,58.90L367.29,59.55L367.51,59.76L367.73,59.72L367.95,59.72L368.17,59.46L368.39,59.70L368.61,59.98L368.83,60.89L369.05,60.27L369.27,59.86" stroke="#b9b0f2" stroke-width="1.5"/>
<path d="M257.00,46.90L257.40,46.49L257.80,46.09L258.20,45.73L258.60,45.40L259.00,45.13L259.40,44.93L259.80,44.81L260.20,44.80L260.60,44.90L261.00,45.13L261.40,45.47L261.80,45.93L262.20,46.47L262.60,47.10L263.00,47.80L263.40,48.55L263.80,49.35L264.20,50.19L264.60,51.04L265.00,51.90L265.40,52.75L265.80,53.59L266.20,54.40L266.60,55.17L267.00,55.90L267.40,56.58L267.80,57.21L268.20,57.80L268.60,58.34L269.00,58.83L269.40,59.27L269.80,59.67L270.20,60.01L270.60,60.30L271.00,60.54L271.40,60.74L271.80,60.89L272.20,61.01L272.60,61.10L273.00,61.18L273.40,61.23L273.80,61.28L274.20,61.32L274.60,61.36L275.00,61.41L275.40,61.46L275.80,61.51L276.20,61.57L276.60,61.64L277.00,61.72L277.40,61.82L277.80,61.93L278.20,62.05L278.60,62.19L279.00,62.34L279.40,62.49L279.80,62.65L280.20,62.81L280.60,62.97L281.00,63.12L281.40,63.27L281.80,63.41L282.20,63.54L282.60,63.65L283.00,63.75L283.40,63.82L283.80,63.88L284.20,63.90L284.60,63.90L285.00,63.88L285.40,63.83L285.80,63.75L286.20,63.66L286.60,63.54L287.00,63.41L287.40,63.26L287.80,63.09L288.20,62.91L288.60,62.71L289.00,62.51L289.40,62.31L289.80,62.12L290.20,61.93L290.60,61.76L291.00,61.60L291.40,61.47L291.80,61.37L292.20,61.29L292.60,61.24L293.00,61.22L293.40,61.23L293.80,61.27L294.20,61.33L294.60,61.43L295.00,61.54L295.40,61.68L295.80,61.83L296.20,61.97L296.60,62.12L297.00,62.24L297.40,62.34L297.80,62.41L298.20,62.45L298.60,62.45L299.00,62.42L299.40,62.37L299.80,62.30L300.20,62.21L300.60,62.11L301.00,62.00L301.40,61.88L301.80,61.76L302.20,61.64L302.60,61.50L303.00,61.36L303.40,61.22L303.80,61.06L304.20,60.90L304.60,60.73L305.00,60.55L305.40,60.37L305.80,60.18L306.20,59.99L306.60,59.80L307.00,59.62L307.40,59.45L307.80,59.30L308.20,59.16L308.60,59.05L309.00,58.96L309.40,58.91L309.80,58.89L310.20,58.90L310.60,58.94L311.00,59.01L311.40,59.10L311.80,59.20L312.20,59.33L312.60,59.46L313.00,59.61L313.40,59.76L313.80,59.91L314.20,60.05L314.60,60.20L315.00,60.33L315.40,60.46L315.80,60.57L316.20,60.67L316.60,60.75L317.00,60.83L317.40,60.89L317.80,60.94L318.20,60.97L318.60,60.99L319.00,61.00L319.40,60.99L319.80,60.97L320.20,60.94L320.60,60.90L321.00,60.84L321.40,60.78L321.80,60.71L322.20,60.64L322.60,60.56L323.00,60.48L323.40,60.39L323.80,60.31L324.20,60.22L324.60,60.14L325.00,60.06L325.40,59.98L325.80,59.91L326.20,59.85L326.60,59.80L327.00,59.76L327.40,59.72L327.80,59.70L328.20,59.70L328.60,59.71L329.00,59.73L329.40,59.76L329.80,59.80L330.20,59.85L330.60,59.91L331.00,59.97L331.40,60.04L331.80,60.12L332.20,60.20L332.60,60.27L333.00,60.35L333.40,60.43L333.80,60.51L334.20,60.58L334.60,60.65L335.00,60.71L335.40,60.77L335.80,60.82L336.20,60.86L336.60,60.88L337.00,60.90L337.40,60.90L337.80,60.90L338.20,60.88L338.60,60.85L339.00,60.81L339.40,60.76L339.80,60.71L340.20,60.65L340.60,60.58L341.00,60.52L341.40,60.44L341.80,60.37L342.20,60.29L342.60,60.22L343.00,60.14L343.40,60.07L343.80,60.00L344.20,59.93L344.60,59.87L345.00,59.81L345.40,59.76L345.80,59.72L346.20,59.68L346.60,59.66L347.00,59.64L347.40,59.63L347.80,59.63L348.20,59.63L348.60,59.64L349.00,59.66L349.40,59.68L349.80,59.70L350.20,59.73L350.60,59.76L351.00,59.79L351.40,59.83L351.80,59.86L352.20,59.90L352.60,59.94L353.00,59.97L353.40,60.01L353.80,60.04L354.20,60.08L354.60,60.11L355.00,60.13L355.40,60.16L355.80,60.18L356.20,60.19L356.60,60.20L357.00,60.20L357.40,60.20L357.80,60.19L358.20,60.18L358.60,60.16L359.00,60.13L359.40,60.11L359.80,60.08L360.20,60.04L360.60,60.01L361.00,59.97L361.40,59.93L361.80,59.88L362.20,59.84L362.60,59.79L363.00,59.75L363.40,59.70L363.80,59.65L364.20,59.61L364.60,59.56L365.00,59.52L365.40,59.48L365.80,59.43L366.20,59.40L366.60,59.36L367.00,59.33L367.40,59.30L367.80,59.27L368.20,59.25L368.60,59.23L369.00,59.21" stroke="#b6e3e8" stroke-width="3.3" stroke-dasharray="12.6 5.2" stroke-dashoffset="0"/>
<path d="M249.10,91.71L249.32,91.73L249.54,91.83L249.76,91.88L249.98,91.67L250.20,91.53L250.42,91.39L250.64,91.11L250.86,91.34L251.08,91.62L251.30,91.46L251.52,91.70L251.74,91.07L251.96,90.55L252.18,91.02L252.20,91.10L252.25,90.75L252.30,91.82L252.35,92.08L252.40,89.45L252.45,83.20L252.50,74.41L252.55,65.48L252.60,59.03L252.65,65.44L252.70,74.00L252.75,82.32L252.80,88.78L252.85,92.81L252.90,94.68L252.95,98.12L253.00,100.90L253.05,102.40L253.10,102.21L253.15,100.27L253.20,96.94L253.25,93.06L253.30,89.93L253.35,89.09L253.40,91.61L253.45,97.48L253.50,105.76L253.55,114.52L253.60,121.20L253.65,123.40L253.70,119.92L253.75,111.53L253.80,101.02L253.85,92.34L253.90,89.00L253.95,92.50L254.00,101.69L254.05,112.48L254.10,120.99L254.15,124.56L254.20,122.55L254.25,116.14L254.30,107.58L254.35,99.23L254.40,92.90L254.45,89.52L254.50,89.24L254.55,91.59L254.60,95.76L254.65,100.74L254.70,105.62L254.75,109.46L254.80,112.06L254.85,112.87L254.90,111.51L254.95,107.92L255.00,102.37L255.05,95.88L255.10,89.58L255.15,84.83L255.20,82.77L255.25,83.95L255.30,87.98L255.35,93.43L255.40,98.29L255.45,101.53L255.50,101.22L255.55,97.23L255.60,90.89L255.65,84.48L255.70,80.30L255.75,79.72L255.80,82.72L255.85,88.08L255.90,93.93L255.95,98.54L256.00,100.75L256.05,100.23L256.10,97.30L256.15,92.75L256.20,87.53L256.25,82.55L256.30,78.57L256.35,76.10L256.40,75.45L256.45,76.72L256.50,79.75L256.55,84.05L256.60,88.97L256.65,93.64L256.70,97.03L256.75,98.21L256.80,96.62L256.85,92.56L256.90,87.03L256.95,81.60L257.00,77.96L257.05,77.33L257.10,79.87L257.15,84.58L257.20,89.68L257.25,93.04L257.30,93.75L257.35,91.91L257.40,88.49L257.45,84.84L257.50,82.14L257.55,80.99L257.60,81.32L257.65,82.64L257.70,84.28L257.75,85.68L257.80,86.50L257.85,86.65L257.90,86.25L257.95,85.49L258.00,84.62L258.10,84.62L258.32,84.50L258.54,84.42L258.76,85.29L258.98,86.06L259.20,85.35L259.42,86.10L259.64,86.01L259.86,85.90L260.08,85.99L260.30,87.23L260.52,87.05L260.74,87.02L260.96,85.79L261.18,89.08L261.40,87.32L261.62,88.06L261.84,87.47L262.06,88.66L262.28,87.42L262.50,88.65L262.72,88.52L262.94,89.32L263.16,87.92L263.38,88.25L263.60,88.60L263.82,90.30L264.04,87.78L264.26,89.10L264.48,88.50L264.70,89.24L264.92,89.53L265.14,89.23L265.36,89.36L265.58,89.41L265.80,88.79L266.02,89.03L266.24,87.98L266.46,88.87L266.68,88.51L266.90,88.79L267.12,89.45L267.34,89.12L267.56,89.15L267.78,89.55L268.00,87.03L268.22,89.06L268.44,88.78L268.66,88.78L268.88,87.94L269.10,89.32L269.32,89.78L269.54,89.74L269.76,88.95L269.98,89.50L270.20,89.74L270.42,90.37L270.64,89.93L270.86,89.15L271.08,89.16L271.30,89.25L271.52,89.35L271.74,88.89L271.96,89.89L272.18,88.96L272.40,88.97L272.62,89.89L272.84,89.30L273.06,89.59L273.28,88.31L273.50,90.40L273.72,89.85L273.94,89.77L274.16,90.17L274.38,89.97L274.60,89.32L274.82,91.27L275.04,89.56L275.26,90.64L275.48,91.31L275.70,89.61L275.92,90.25L276.14,89.68L276.36,91.12L276.58,90.23L276.80,89.72L277.02,91.50L277.24,91.23L277.46,89.91L277.68,91.34L277.90,90.57L278.12,92.30L278.34,91.50L278.56,89.78L278.78,89.88L279.00,89.33L279.22,89.97L279.44,89.85L279.66,90.29L279.88,89.81L280.10,88.69L280.32,89.18L280.54,90.73L280.76,90.56L280.98,89.60L281.20,89.61L281.42,89.60L281.64,89.74L281.86,88.50L282.08,90.33L282.30,89.25L282.52,89.81L282.74,87.91L282.96,89.92L283.18,90.77L283.40,88.27L283.62,91.03L283.84,90.31L284.06,89.47L284.28,88.89L284.50,90.84L284.72,90.18L284.94,90.41L285.16,89.70L285.38,89.23L285.60,90.35L285.82,88.95L286.04,90.20L286.26,88.30L286.48,88.81L286.70,88.43L286.92,90.43L287.14,88.32L287.36,88.84L287.58,90.22L287.80,90.03L288.02,91.55L288.24,91.43L288.46,90.71L288.68,90.88L288.90,89.13L289.12,89.88L289.34,90.29L289.56,90.40L289.78,89.60L290.00,89.93L290.22,89.93L290.44,91.30L290.66,90.81L290.88,90.23L291.10,90.26L291.32,90.64L291.54,89.87L291.76,90.13L291.98,89.04L292.20,90.75L292.42,90.93L292.64,90.48L292.86,90.51L293.08,90.41L293.30,91.62L293.52,90.35L293.74,89.30L293.96,89.55L294.18,90.86L294.40,91.17L294.62,91.01L294.84,91.14L295.06,90.68L295.28,89.50L295.50,90.06L295.72,89.23L295.94,90.22L296.16,89.47L296.38,90.47L296.60,90.23L296.82,88.89L297.04,90.76L297.26,90.76L297.48,89.22L297.70,90.30L297.92,90.73L298.14,90.01L298.36,90.86L298.58,90.41L298.80,91.08L299.02,90.43L299.24,90.17L299.46,90.61L299.68,90.77L299.90,90.36L300.12,89.83L300.34,89.54L300.56,89.83L300.78,89.67L301.00,90.22L301.22,90.17L301.44,90.00L301.66,90.09L301.88,90.27L302.10,91.33L302.32,91.10L302.54,89.86L302.76,90.61L302.98,90.08L303.20,90.22L303.42,90.09L303.64,89.80L303.86,89.24L304.08,88.41L304.30,90.26L304.52,90.89L304.74,89.31L304.96,90.26L305.18,89.57L305.40,89.99L305.62,89.18L305.84,89.60L306.06,89.68L306.28,88.03L306.50,89.92L306.72,89.66L306.94,88.01L307.16,90.31L307.38,89.85L307.60,90.06L307.82,90.24L308.04,89.73L308.26,89.30L308.48,89.80L308.70,89.88L308.92,91.86L309.14,91.65L309.36,90.01L309.58,90.12L309.80,90.66L310.02,90.85L310.24,89.94L310.46,89.69L310.68,91.80L310.90,91.11L311.12,89.15L311.34,88.93L311.56,89.59L311.78,90.29L312.00,90.48L312.22,89.83L312.44,88.91L312.66,90.22L312.88,90.54L313.10,90.14L313.32,89.79L313.54,90.61L313.76,90.17L313.98,89.40L314.20,90.29L314.42,89.28L314.64,90.89L314.86,90.51L315.08,89.42L315.30,90.25L315.52,91.01L315.74,88.50L315.96,89.98L316.18,91.26L316.40,88.97L316.62,90.03L316.84,89.15L317.06,90.19L317.28,88.57L317.50,89.21L317.72,90.04L317.94,90.59L318.16,90.78L318.38,90.85L318.60,91.40L318.82,91.08L319.04,91.09L319.26,89.83L319.48,90.38L319.70,92.81L319.92,92.13L320.14,91.01L320.36,90.91L320.58,91.04L320.80,89.97L321.02,91.65L321.24,89.91L321.46,90.08L321.68,91.71L321.90,88.56L322.12,90.31L322.34,88.77L322.56,89.55L322.78,89.99L323.00,89.82L323.22,90.23L323.44,89.57L323.66,90.11L323.88,89.33L324.10,89.96L324.32,89.24L324.54,90.74L324.76,89.35L324.98,90.79L325.20,89.96L325.42,90.01L325.64,91.07L325.86,90.21L326.08,88.67L326.30,90.35L326.52,87.77L326.74,90.06L326.96,89.50L327.18,88.70L327.40,89.75L327.62,89.42L327.84,91.14L328.06,89.31L328.28,91.10L328.50,90.73L328.72,89.33L328.94,89.28L329.16,90.98L329.38,90.01L329.60,90.35L329.82,90.17L330.04,89.60L330.26,90.32L330.48,89.99L330.70,89.66L330.92,90.68L331.14,92.24L331.36,92.12L331.58,90.86L331.80,90.96L332.02,91.15L332.24,91.73L332.46,90.87L332.68,90.20L332.90,90.15L333.12,91.17L333.34,92.17L333.56,89.68L333.78,88.55L334.00,90.63L334.22,89.95L334.44,90.09L334.66,90.93L334.88,90.09L335.10,89.09L335.32,88.66L335.54,90.14L335.76,89.39L335.98,90.53L336.20,89.42L336.42,90.14L336.64,89.34L336.86,90.17L337.08,90.09L337.30,90.84L337.52,91.39L337.74,90.23L337.96,89.67L338.18,91.75L338.40,90.53L338.62,90.70L338.84,90.70L339.06,91.35L339.28,91.03L339.50,90.81L339.72,90.87L339.94,89.70L340.16,89.91L340.38,90.32L340.60,90.52L340.82,90.50L341.04,90.77L341.26,90.59L341.48,90.29L341.70,89.47L341.92,91.39L342.14,91.27L342.36,90.24L342.58,91.36L342.80,91.35L343.02,91.18L343.24,89.81L343.46,90.30L343.68,90.74L343.90,92.40L344.12,90.53L344.34,90.89L344.56,90.27L344.78,90.65L345.00,91.19L345.22,89.31L345.44,88.67L345.66,91.22L345.88,90.70L346.10,90.17L346.32,91.34L346.54,91.29L346.76,88.99L346.98,90.45L347.20,91.39L347.42,90.07L347.64,90.32L347.86,91.24L348.08,90.33L348.30,89.64L348.52,89.99L348.74,89.49L348.96,90.87L349.18,89.12L349.40,91.17L349.62,89.19L349.84,90.44L350.06,89.36L350.28,90.27L350.50,91.33L350.72,91.48L350.94,91.63L351.16,90.64L351.38,90.82L351.60,90.93L351.82,91.22L352.04,90.46L352.26,91.57L352.48,90.93L352.70,91.46L352.92,90.89L353.14,91.00L353.36,89.87L353.58,90.06L353.80,89.39L354.02,90.07L354.24,90.13L354.46,90.86L354.68,89.24L354.90,92.60L355.12,90.06L355.34,91.06L355.56,90.92L355.78,88.26L356.00,89.96L356.22,91.28L356.44,88.40L356.66,90.84L356.88,89.63L357.10,90.05L357.32,90.65L357.54,89.15L357.76,90.72L357.98,90.14L358.20,90.08L358.42,91.18L358.64,93.29L358.86,90.91L359.08,91.08L359.30,90.62L359.52,90.13L359.74,90.90L359.96,91.88L360.18,90.95L360.40,91.58L360.62,90.85L360.84,93.02L361.06,90.01L361.28,91.78L361.50,91.85L361.72,91.72L361.94,90.71L362.16,90.69L362.38,91.34L362.60,91.55L362.82,90.44L363.04,90.44L363.26,91.54L363.48,91.76L363.70,90.40L363.92,90.20L364.14,90.02L364.36,92.31L364.58,90.75L364.80,90.25L365.02,90.97L365.24,91.85L365.46,90.96L365.68,88.95L365.90,89.92L366.12,89.64L366.34,89.66L366.56,88.98L366.78,89.59L367.00,89.08L367.22,90.18L367.44,90.01L367.66,88.97L367.88,88.82L368.10,89.84L368.32,90.79L368.54,90.74L368.76,90.43L368.98,88.08L369.20,90.25" stroke="#d46fca" stroke-width="1.5"/>
<path d="M249.10,115.02L249.32,115.19L249.54,115.11L249.76,115.40L249.98,115.19L250.20,114.87L250.42,115.12L250.64,115.19L250.86,114.99L251.08,115.54L251.30,115.31L251.52,115.42L251.74,115.02L251.96,115.11L252.00,115.20L252.05,115.20L252.10,115.91L252.15,116.07L252.20,114.50L252.25,110.87L252.30,105.81L252.35,100.73L252.40,97.10L252.45,95.96L252.50,97.59L252.55,104.89L252.60,110.93L252.65,115.01L252.70,117.15L252.75,117.86L252.80,117.89L252.85,124.04L252.90,128.86L252.95,132.06L253.00,133.77L253.05,131.64L253.10,128.96L253.15,128.09L253.20,130.69L253.25,136.74L253.30,145.27L253.35,154.28L253.40,161.14L253.45,163.40L253.50,159.80L253.55,151.16L253.60,140.35L253.65,131.44L253.70,128.00L253.75,131.60L253.80,141.03L253.85,152.89L253.90,163.06L253.95,168.29L254.00,167.30L254.05,160.04L254.10,150.12L254.15,140.28L254.20,132.72L254.25,128.64L254.30,128.29L254.35,131.22L254.40,136.51L254.45,143.06L254.50,149.77L254.55,155.08L254.60,159.37L254.65,161.48L254.70,160.32L254.75,155.16L254.80,145.92L254.85,133.68L254.90,122.58L254.95,114.86L255.00,112.00L255.05,114.36L255.10,121.34L255.15,130.90L255.20,139.83L255.25,144.88L255.30,144.05L255.35,137.57L255.40,127.88L255.45,118.57L255.50,112.89L255.55,112.23L255.60,116.50L255.65,123.79L255.70,131.49L255.75,137.29L255.80,139.80L255.85,138.75L255.90,134.75L255.95,128.88L256.00,122.41L256.05,116.48L256.10,111.82L256.15,109.00L256.20,108.34L256.25,109.88L256.30,113.40L256.35,118.42L256.40,124.18L256.45,129.67L256.50,133.73L256.55,135.24L256.60,133.55L256.65,128.89L256.70,122.35L256.75,115.79L256.80,111.27L256.85,110.34L256.90,113.40L256.95,119.36L257.00,126.01L257.05,130.93L257.10,132.50L257.15,130.49L257.20,126.06L257.25,120.68L257.30,116.49L257.35,114.53L257.40,114.92L257.45,117.07L257.50,120.01L257.55,122.83L257.60,124.89L257.65,125.87L257.70,125.75L257.75,124.74L257.80,123.12L257.85,121.25L257.90,119.42L257.95,117.87L258.05,117.87L258.27,117.29L258.49,116.69L258.71,115.64L258.93,114.25L259.15,113.01L259.37,112.05L259.59,112.12L259.81,111.13L260.03,110.69L260.25,111.39L260.47,110.27L260.69,109.55L260.91,110.65L261.13,109.91L261.35,108.85L261.57,110.34L261.79,110.91L262.01,110.94L262.23,111.80L262.45,111.51L262.67,112.25L262.89,112.09L263.11,113.08L263.33,114.14L263.55,114.23L263.77,114.66L263.99,114.33L264.21,115.49L264.43,115.62L264.65,116.94L264.87,116.78L265.09,117.65L265.31,117.45L265.53,118.98L265.75,118.11L265.97,118.93L266.19,120.19L266.41,119.50L266.63,119.33L266.85,120.17L267.07,120.54L267.29,120.80L267.51,120.05L267.73,121.24L267.95,120.63L268.17,122.61L268.39,122.23L268.61,122.45L268.83,123.30L269.05,123.64L269.27,123.38L269.49,124.87L269.71,124.53L269.93,124.31L270.15,125.89L270.37,126.28L270.59,126.46L270.81,126.48L271.03,126.13L271.25,127.02L271.47,127.49L271.69,127.15L271.91,127.50L272.13,126.52L272.35,127.11L272.57,126.97L272.79,125.87L273.01,125.59L273.23,125.71L273.45,125.79L273.67,125.65L273.89,125.13L274.11,124.94L274.33,124.65L274.55,124.45L274.77,124.37L274.99,124.08L275.21,123.64L275.43,123.51L275.65,123.10L275.87,123.45L276.09,122.77L276.31,123.52L276.53,122.75L276.75,122.80L276.97,122.37L277.19,122.43L277.41,122.56L277.63,122.42L277.85,122.05L278.07,121.76L278.29,122.19L278.51,122.11L278.73,122.14L278.95,122.34L279.17,121.66L279.39,120.96L279.61,121.70L279.83,121.00L280.05,121.29L280.27,122.21L280.49,122.12L280.71,121.73L280.93,121.76L281.15,122.02L281.37,121.43L281.59,122.37L281.81,122.11L282.03,123.02L282.25,121.95L282.47,122.84L282.69,122.18L282.91,122.88L283.13,122.12L283.35,122.87L283.57,122.42L283.79,122.30L284.01,122.57L284.23,122.80L284.45,122.75L284.67,123.14L284.89,122.80L285.11,121.38L285.33,122.30L285.55,121.66L285.77,122.33L285.99,122.77L286.21,122.08L286.43,122.22L286.65,122.85L286.87,122.80L287.09,123.63L287.31,123.24L287.53,123.43L287.75,123.97L287.97,123.13L288.19,123.36L288.41,122.97L288.63,123.43L288.85,123.73L289.07,123.85L289.29,123.25L289.51,122.93L289.73,122.79L289.95,122.43L290.17,122.98L290.39,123.40L290.61,121.80L290.83,121.77L291.05,123.09L291.27,121.76L291.49,122.43L291.71,121.74L291.93,122.45L292.15,122.37L292.37,122.07L292.59,122.24L292.81,121.87L293.03,122.01L293.25,122.47L293.47,122.13L293.69,121.36L293.91,121.24L294.13,121.42L294.35,121.35L294.57,121.39L294.79,121.02L295.01,121.45L295.23,121.13L295.45,121.21L295.67,121.08L295.89,121.30L296.11,120.54L296.33,121.67L296.55,121.23L296.77,121.33L296.99,121.45L297.21,121.74L297.43,121.71L297.65,121.58L297.87,121.47L298.09,120.93L298.31,121.76L298.53,121.60L298.75,121.62L298.97,122.80L299.19,121.13L299.41,121.97L299.63,122.51L299.85,122.53L300.07,122.75L300.29,121.84L300.51,122.14L300.73,122.92L300.95,122.67L301.17,123.63L301.39,123.17L301.61,123.24L301.83,123.39L302.05,123.15L302.27,123.34L302.49,122.97L302.71,123.18L302.93,122.94L303.15,123.17L303.37,122.41L303.59,122.25L303.81,122.93L304.03,122.70L304.25,122.09L304.47,122.25L304.69,121.83L304.91,122.99L305.13,121.41L305.35,122.61L305.57,121.52L305.79,121.86L306.01,121.47L306.23,121.32L306.45,121.75L306.67,121.59L306.89,121.04L307.11,120.68L307.33,121.73L307.55,121.35L307.77,120.76L307.99,120.47L308.21,120.63L308.43,120.45L308.65,120.81L308.87,119.87L309.09,120.18L309.31,119.76L309.53,120.50L309.75,120.64L309.97,119.80L310.19,119.91L310.41,120.20L310.63,119.41L310.85,119.11L311.07,119.82L311.29,119.59L311.51,119.30L311.73,120.02L311.95,119.58L312.17,118.82L312.39,119.77L312.61,119.70L312.83,120.54L313.05,119.88L313.27,119.88L313.49,120.20L313.71,120.17L313.93,119.53L314.15,120.15L314.37,120.00L314.59,120.70L314.81,121.15L315.03,119.80L315.25,119.95L315.47,120.13L315.69,120.32L315.91,120.40L316.13,120.83L316.35,121.37L316.57,120.54L316.79,120.59L317.01,120.59L317.23,121.90L317.45,122.05L317.67,120.94L317.89,120.96L318.11,121.70L318.33,122.12L318.55,122.09L318.77,121.75L318.99,121.86L319.21,121.64L319.43,121.16L319.65,121.97L319.87,121.02L320.09,120.38L320.31,120.48L320.53,119.91L320.75,120.35L320.97,120.63L321.19,119.61L321.41,120.49L321.63,120.85L321.85,120.20L322.07,119.64L322.29,119.84L322.51,120.08L322.73,119.77L322.95,119.80L323.17,120.25L323.39,120.26L323.61,120.59L323.83,119.87L324.05,121.05L324.27,120.68L324.49,120.53L324.71,119.84L324.93,120.74L325.15,119.93L325.37,120.76L325.59,120.47L325.81,119.67L326.03,119.86L326.25,120.82L326.47,120.51L326.69,120.09L326.91,120.26L327.13,120.31L327.35,119.93L327.57,120.22L327.79,120.01L328.01,120.11L328.23,120.39L328.45,119.74L328.67,120.34L328.89,120.02L329.11,120.24L329.33,120.22L329.55,120.26L329.77,119.92L329.99,119.93L330.21,119.55L330.43,119.91L330.65,119.38L330.87,119.73L331.09,120.22L331.31,119.97L331.53,120.22L331.75,119.68L331.97,120.70L332.19,119.95L332.41,120.38L332.63,120.21L332.85,120.61L333.07,120.10L333.29,119.87L333.51,119.49L333.73,120.15L333.95,119.86L334.17,120.68L334.39,121.12L334.61,119.76L334.83,120.18L335.05,120.83L335.27,121.22L335.49,120.83L335.71,120.83L335.93,120.92L336.15,120.92L336.37,121.33L336.59,120.86L336.81,120.12L337.03,120.44L337.25,120.78L337.47,120.44L337.69,120.74L337.91,120.75L338.13,120.75L338.35,121.36L338.57,120.94L338.79,120.66L339.01,120.82L339.23,121.06L339.45,121.85L339.67,121.02L339.89,121.43L340.11,120.94L340.33,119.81L340.55,120.72L340.77,120.21L340.99,119.94L341.21,120.07L341.43,121.20L341.65,119.88L341.87,120.27L342.09,121.02L342.31,120.85L342.53,119.95L342.75,120.68L342.97,120.58L343.19,120.81L343.41,121.25L343.63,120.80L343.85,120.99L344.07,121.75L344.29,120.48L344.51,121.08L344.73,121.46L344.95,120.74L345.17,120.96L345.39,120.61L345.61,121.10L345.83,120.67L346.05,121.11L346.27,121.10L346.49,120.63L346.71,120.35L346.93,120.50L347.15,120.33L347.37,119.75L347.59,120.64L347.81,120.25L348.03,120.46L348.25,119.55L348.47,120.42L348.69,120.95L348.91,120.30L349.13,119.43L349.35,119.97L349.57,119.89L349.79,119.95L350.01,119.71L350.23,119.98L350.45,119.53L350.67,119.81L350.89,119.41L351.11,119.68L351.33,120.04L351.55,119.50L351.77,119.98L351.99,119.40L352.21,119.65L352.43,119.78L352.65,120.47L352.87,119.72L353.09,120.59L353.31,119.54L353.53,120.12L353.75,120.65L353.97,120.61L354.19,119.99L354.41,119.97L354.63,120.87L354.85,120.07L355.07,120.88L355.29,120.46L355.51,120.70L355.73,121.70L355.95,121.45L356.17,121.16L356.39,120.28L356.61,120.95L356.83,120.83L357.05,120.79L357.27,121.35L357.49,120.13L357.71,120.99L357.93,120.93L358.15,120.64L358.37,121.65L358.59,120.51L358.81,121.10L359.03,121.15L359.25,120.30L359.47,120.66L359.69,120.90L359.91,121.63L360.13,121.71L360.35,121.56L360.57,121.40L360.79,120.45L361.01,121.39L361.23,121.09L361.45,121.73L361.67,121.75L361.89,122.10L362.11,121.41L362.33,121.39L362.55,120.57L362.77,120.92L362.99,120.32L363.21,121.08L363.43,120.15L363.65,120.45L363.87,120.13L364.09,120.23L364.31,120.57L364.53,120.15L364.75,120.43L364.97,119.93L365.19,120.89L365.41,120.10L365.63,120.86L365.85,121.34L366.07,119.54L366.29,120.17L366.51,120.54L366.73,121.20L366.95,120.60L367.17,121.02L367.39,120.63L367.61,121.20L367.83,120.55L368.05,121.38L368.27,119.81L368.49,120.19L368.71,121.55L368.93,120.79L369.15,120.24" stroke="#6f7d1f" stroke-width="1.5"/>
<path d="M257.00,119.60L257.40,118.08L257.80,116.61L258.20,115.24L258.60,114.00L259.00,112.94L259.40,112.08L259.80,111.42L260.20,110.97L260.60,110.73L261.00,110.70L261.40,110.88L261.80,111.22L262.20,111.70L262.60,112.28L263.00,112.93L263.40,113.62L263.80,114.33L264.20,115.03L264.60,115.74L265.00,116.45L265.40,117.17L265.80,117.90L266.20,118.63L266.60,119.37L267.00,120.13L267.40,120.89L267.80,121.64L268.20,122.37L268.60,123.07L269.00,123.73L269.40,124.32L269.80,124.85L270.20,125.29L270.60,125.63L271.00,125.87L271.40,125.99L271.80,126.03L272.20,125.98L272.60,125.87L273.00,125.69L273.40,125.46L273.80,125.19L274.20,124.90L274.60,124.59L275.00,124.28L275.40,123.97L275.80,123.69L276.20,123.42L276.60,123.17L277.00,122.95L277.40,122.75L277.80,122.57L278.20,122.42L278.60,122.30L279.00,122.20L279.40,122.13L279.80,122.09L280.20,122.08L280.60,122.09L281.00,122.14L281.40,122.21L281.80,122.31L282.20,122.42L282.60,122.55L283.00,122.69L283.40,122.83L283.80,122.97L284.20,123.11L284.60,123.24L285.00,123.36L285.40,123.46L285.80,123.53L286.20,123.59L286.60,123.61L287.00,123.60L287.40,123.56L287.80,123.49L288.20,123.40L288.60,123.28L289.00,123.15L289.40,123.00L289.80,122.84L290.20,122.67L290.60,122.48L291.00,122.29L291.40,122.10L291.80,121.90L292.20,121.70L292.60,121.51L293.00,121.32L293.40,121.15L293.80,120.99L294.20,120.85L294.60,120.73L295.00,120.64L295.40,120.58L295.80,120.55L296.20,120.56L296.60,120.61L297.00,120.70L297.40,120.84L297.80,121.02L298.20,121.22L298.60,121.45L299.00,121.70L299.40,121.94L299.80,122.18L300.20,122.40L300.60,122.60L301.00,122.77L301.40,122.90L301.80,122.98L302.20,123.01L302.60,123.00L303.00,122.95L303.40,122.87L303.80,122.75L304.20,122.61L304.60,122.44L305.00,122.26L305.40,122.06L305.80,121.85L306.20,121.63L306.60,121.41L307.00,121.19L307.40,120.98L307.80,120.77L308.20,120.57L308.60,120.39L309.00,120.23L309.40,120.10L309.80,119.99L310.20,119.91L310.60,119.85L311.00,119.82L311.40,119.80L311.80,119.81L312.20,119.83L312.60,119.87L313.00,119.92L313.40,119.98L313.80,120.06L314.20,120.14L314.60,120.22L315.00,120.32L315.40,120.41L315.80,120.51L316.20,120.60L316.60,120.69L317.00,120.78L317.40,120.86L317.80,120.93L318.20,121.00L318.60,121.05L319.00,121.09L319.40,121.11L319.80,121.12L320.20,121.11L320.60,121.09L321.00,121.06L321.40,121.01L321.80,120.96L322.20,120.90L322.60,120.83L323.00,120.75L323.40,120.67L323.80,120.59L324.20,120.50L324.60,120.42L325.00,120.33L325.40,120.24L325.80,120.16L326.20,120.08L326.60,120.00L327.00,119.93L327.40,119.86L327.80,119.81L328.20,119.76L328.60,119.73L329.00,119.70L329.40,119.69L329.80,119.69L330.20,119.71L330.60,119.74L331.00,119.79L331.40,119.85L331.80,119.92L332.20,119.99L332.60,120.08L333.00,120.17L333.40,120.26L333.80,120.36L334.20,120.45L334.60,120.55L335.00,120.64L335.40,120.72L335.80,120.81L336.20,120.88L336.60,120.95L337.00,121.00L337.40,121.04L337.80,121.07L338.20,121.09L338.60,121.10L339.00,121.10L339.40,121.09L339.80,121.07L340.20,121.05L340.60,121.02L341.00,120.98L341.40,120.94L341.80,120.89L342.20,120.84L342.60,120.78L343.00,120.72L343.40,120.66L343.80,120.60L344.20,120.54L344.60,120.48L345.00,120.42L345.40,120.36L345.80,120.30L346.20,120.25L346.60,120.20L347.00,120.15L347.40,120.11L347.80,120.07L348.20,120.04L348.60,120.02L349.00,120.01L349.40,120.00L349.80,120.00L350.20,120.02L350.60,120.04L351.00,120.06L351.40,120.10L351.80,120.14L352.20,120.19L352.60,120.24L353.00,120.29L353.40,120.35L353.80,120.41L354.20,120.47L354.60,120.53L355.00,120.59L355.40,120.65L355.80,120.71L356.20,120.77L356.60,120.82L357.00,120.87L357.40,120.91L357.80,120.95L358.20,120.98L358.60,121.01L359.00,121.02L359.40,121.03L359.80,121.04L360.20,121.03L360.60,121.02L361.00,121.01L361.40,120.99L361.80,120.97L362.20,120.94L362.60,120.91L363.00,120.88L363.40,120.85L363.80,120.81L364.20,120.78L364.60,120.74L365.00,120.70L365.40,120.66L365.80,120.63L366.20,120.59L366.60,120.56L367.00,120.53L367.40,120.50L367.80,120.48L368.20,120.45L368.60,120.43L369.00,120.41" stroke="#cf7169" stroke-width="3.3" stroke-dasharray="12.6 5.2" stroke-dashoffset="0"/>
<path d="M249.10,140.29L249.32,140.58L249.54,139.73L249.76,139.83L249.98,140.67L250.20,140.03L250.42,140.07L250.64,140.16L250.86,140.37L251.08,140.44L251.30,140.13L251.52,140.01L251.74,140.09L251.96,140.18L252.00,140.10L252.05,140.06L252.10,140.89L252.15,141.10L252.20,139.31L252.25,135.06L252.30,129.12L252.35,128.25L252.40,130.01L252.45,133.46L252.50,137.32L252.55,140.56L252.60,142.88L252.65,150.48L252.70,159.28L252.75,168.19L252.80,176.21L252.85,182.95L252.90,180.75L252.95,177.77L253.00,174.45L253.05,171.36L253.10,169.20L253.15,168.62L253.20,170.11L253.25,173.75L253.30,179.02L253.35,184.71L253.40,189.16L253.45,190.75L253.50,188.59L253.55,183.08L253.60,176.04L253.65,170.11L253.70,167.76L253.75,170.11L253.80,176.50L253.85,184.65L253.90,191.76L253.95,195.52L254.00,194.95L254.05,190.53L254.10,183.78L254.15,176.63L254.20,170.81L254.25,167.48L254.30,167.13L254.35,169.65L254.40,174.49L254.45,180.85L254.50,187.77L254.55,193.59L254.60,197.81L254.65,199.73L254.70,198.92L254.75,195.29L254.80,189.22L254.85,181.66L254.90,174.08L254.95,166.12L255.00,161.25L255.05,161.41L255.10,167.20L255.15,177.19L255.20,187.86L255.25,194.64L255.30,193.75L255.35,184.58L255.40,170.49L255.45,156.74L255.50,148.23L255.55,147.60L255.60,154.43L255.65,165.82L255.70,177.84L255.75,186.98L255.80,191.17L255.85,189.97L255.90,184.30L255.95,175.83L256.00,166.41L256.05,157.70L256.10,151.05L256.15,147.24L256.20,146.64L256.25,149.19L256.30,154.46L256.35,161.69L256.40,169.76L256.45,177.25L256.50,182.62L256.55,184.49L256.60,182.00L256.65,175.27L256.70,165.66L256.75,155.67L256.80,148.33L256.85,146.15L256.90,150.03L256.95,158.63L257.00,168.74L257.05,176.32L257.10,178.60L257.15,174.91L257.20,166.88L257.25,157.54L257.30,149.96L257.35,146.17L257.40,146.67L257.45,150.62L257.50,156.41L257.55,162.35L257.60,167.06L257.65,169.76L257.70,170.20L257.75,168.55L257.80,165.28L257.85,160.98L257.90,156.31L257.95,151.91L258.00,148.38L258.05,146.16L258.10,145.67L258.15,146.70L258.20,148.73L258.25,151.02L258.30,152.74L258.35,153.27L258.40,152.39L258.45,150.41L258.55,150.41L258.77,149.44L258.99,148.69L259.21,146.89L259.43,146.09L259.65,145.42L259.87,145.08L260.09,144.45L260.31,143.73L260.53,143.79L260.75,144.11L260.97,144.38L261.19,144.13L261.41,143.51L261.63,143.99L261.85,144.74L262.07,145.07L262.29,144.08L262.51,144.76L262.73,144.25L262.95,145.02L263.17,147.29L263.39,145.79L263.61,145.86L263.83,145.99L264.05,145.99L264.27,145.99L264.49,147.23L264.71,147.43L264.93,148.61L265.15,147.28L265.37,148.65L265.59,149.41L265.81,148.02L266.03,149.72L266.25,148.85L266.47,150.30L266.69,151.17L266.91,150.84L267.13,151.53L267.35,151.55L267.57,152.59L267.79,153.58L268.01,153.46L268.23,154.03L268.45,154.78L268.67,155.45L268.89,154.59L269.11,155.87L269.33,155.89L269.55,156.83L269.77,157.38L269.99,157.27L270.21,158.01L270.43,157.09L270.65,157.61L270.87,157.53L271.09,158.21L271.31,158.34L271.53,158.25L271.75,157.75L271.97,158.34L272.19,158.09L272.41,158.49L272.63,157.90L272.85,158.49L273.07,157.90L273.29,156.70L273.51,157.40L273.73,156.52L273.95,157.62L274.17,157.74L274.39,156.90L274.61,157.03L274.83,155.91L275.05,155.32L275.27,155.98L275.49,155.97L275.71,155.07L275.93,155.62L276.15,155.50L276.37,155.35L276.59,155.50L276.81,154.87L277.03,153.96L277.25,153.92L277.47,153.90L277.69,152.83L277.91,153.82L278.13,153.41L278.35,152.71L278.57,152.27L278.79,154.39L279.01,152.71L279.23,152.61L279.45,152.94L279.67,152.36L279.89,151.85L280.11,151.99L280.33,151.06L280.55,151.82L280.77,150.61L280.99,151.57L281.21,151.63L281.43,150.53L281.65,152.35L281.87,150.77L282.09,151.96L282.31,151.16L282.53,151.61L282.75,151.11L282.97,152.71L283.19,151.97L283.41,152.40L283.63,151.94L283.85,151.90L284.07,151.74L284.29,151.67L284.51,152.22L284.73,152.15L284.95,152.25L285.17,151.83L285.39,152.57L285.61,153.27L285.83,152.94L286.05,153.50L286.27,153.37L286.49,153.02L286.71,153.05L286.93,153.16L287.15,153.35L287.37,153.34L287.59,153.95L287.81,152.75L288.03,152.13L288.25,153.40L288.47,152.78L288.69,152.85L288.91,154.17L289.13,153.57L289.35,153.02L289.57,153.11L289.79,152.56L290.01,152.87L290.23,151.97L290.45,151.83L290.67,151.87L290.89,152.85L291.11,152.77L291.33,151.65L291.55,152.48L291.77,151.78L291.99,152.43L292.21,151.77L292.43,152.44L292.65,151.91L292.87,151.83L293.09,151.91L293.31,151.92L293.53,151.38L293.75,150.85L293.97,152.27L294.19,151.03L294.41,150.20L294.63,149.81L294.85,149.33L295.07,150.31L295.29,151.19L295.51,149.62L295.73,150.29L295.95,149.53L296.17,151.16L296.39,150.93L296.61,151.00L296.83,151.63L297.05,151.98L297.27,151.84L297.49,151.22L297.71,151.01L297.93,151.34L298.15,151.15L298.37,153.13L298.59,152.25L298.81,152.52L299.03,152.67L299.25,153.72L299.47,152.46L299.69,153.40L299.91,153.00L300.13,152.72L300.35,151.78L300.57,153.20L300.79,152.28L301.01,152.33L301.23,152.58L301.45,152.43L301.67,152.86L301.89,151.84L302.11,152.19L302.33,152.25L302.55,152.10L302.77,152.47L302.99,152.01L303.21,152.82L303.43,151.89L303.65,151.57L303.87,152.41L304.09,153.15L304.31,152.38L304.53,152.35L304.75,152.52L304.97,152.76L305.19,152.60L305.41,152.80L305.63,151.73L305.85,153.30L306.07,152.74L306.29,151.89L306.51,152.96L306.73,152.30L306.95,152.70L307.17,151.24L307.39,152.62L307.61,151.72L307.83,150.52L308.05,151.89L308.27,151.28L308.49,150.81L308.71,151.20L308.93,150.24L309.15,151.55L309.37,151.13L309.59,151.06L309.81,151.93L310.03,151.23L310.25,150.87L310.47,150.75L310.69,151.21L310.91,151.78L311.13,150.91L311.35,150.67L311.57,151.62L311.79,151.08L312.01,150.85L312.23,151.73L312.45,149.86L312.67,150.35L312.89,149.09L313.11,149.61L313.33,149.86L313.55,149.97L313.77,148.59L313.99,149.59L314.21,149.60L314.43,149.16L314.65,150.65L314.87,149.55L315.09,149.31L315.31,150.17L315.53,149.19L315.75,151.15L315.97,151.02L316.19,150.43L316.41,151.05L316.63,151.15L316.85,151.94L317.07,150.69L317.29,150.38L317.51,150.07L317.73,151.09L317.95,150.56L318.17,151.43L318.39,151.86L318.61,151.52L318.83,151.41L319.05,152.62L319.27,151.98L319.49,152.27L319.71,152.65L319.93,151.56L320.15,151.73L320.37,153.46L320.59,152.06L320.81,151.52L321.03,151.84L321.25,151.59L321.47,151.17L321.69,151.46L321.91,151.57L322.13,151.40L322.35,151.54L322.57,150.26L322.79,150.29L323.01,151.37L323.23,150.60L323.45,151.36L323.67,150.86L323.89,149.94L324.11,150.99L324.33,150.21L324.55,150.84L324.77,151.37L324.99,151.84L325.21,150.71L325.43,151.11L325.65,150.93L325.87,151.19L326.09,149.42L326.31,150.54L326.53,150.88L326.75,150.98L326.97,150.33L327.19,151.12L327.41,151.26L327.63,150.77L327.85,150.70L328.07,150.60L328.29,150.92L328.51,151.49L328.73,151.66L328.95,150.77L329.17,150.67L329.39,150.89L329.61,151.92L329.83,151.66L330.05,151.87L330.27,152.09L330.49,152.14L330.71,152.03L330.93,151.65L331.15,151.94L331.37,152.44L331.59,152.67L331.81,152.33L332.03,152.37L332.25,153.36L332.47,152.51L332.69,153.00L332.91,152.82L333.13,152.69L333.35,152.49L333.57,153.09L333.79,152.99L334.01,153.89L334.23,152.94L334.45,153.35L334.67,153.83L334.89,153.38L335.11,153.62L335.33,153.62L335.55,152.17L335.77,152.60L335.99,152.10L336.21,153.07L336.43,152.14L336.65,152.27L336.87,152.70L337.09,151.47L337.31,151.54L337.53,151.55L337.75,151.15L337.97,151.88L338.19,151.60L338.41,151.71L338.63,151.24L338.85,150.98L339.07,150.97L339.29,151.00L339.51,150.33L339.73,151.30L339.95,151.52L340.17,151.10L340.39,150.82L340.61,151.08L340.83,151.16L341.05,151.20L341.27,151.97L341.49,150.59L341.71,151.22L341.93,151.45L342.15,151.18L342.37,151.03L342.59,150.64L342.81,150.89L343.03,151.56L343.25,151.98L343.47,150.99L343.69,151.60L343.91,151.65L344.13,151.94L344.35,151.60L344.57,151.69L344.79,151.89L345.01,150.80L345.23,151.36L345.45,150.40L345.67,150.19L345.89,150.66L346.11,150.22L346.33,151.15L346.55,151.30L346.77,150.59L346.99,150.63L347.21,150.60L347.43,150.61L347.65,150.84L347.87,150.93L348.09,150.47L348.31,150.29L348.53,150.40L348.75,151.05L348.97,150.46L349.19,151.43L349.41,150.55L349.63,151.47L349.85,150.22L350.07,150.59L350.29,151.43L350.51,151.66L350.73,151.56L350.95,152.89L351.17,152.11L351.39,152.40L351.61,152.10L351.83,153.26L352.05,152.82L352.27,152.54L352.49,151.43L352.71,152.28L352.93,151.67L353.15,151.88L353.37,151.95L353.59,150.91L353.81,151.24L354.03,151.47L354.25,150.98L354.47,150.70L354.69,150.30L354.91,150.40L355.13,150.11L355.35,151.26L355.57,150.82L355.79,150.15L356.01,150.73L356.23,150.05L356.45,149.03L356.67,151.25L356.89,151.17L357.11,149.77L357.33,150.09L357.55,150.54L357.77,150.17L357.99,149.89L358.21,150.02L358.43,150.12L358.65,149.91L358.87,150.26L359.09,149.98L359.31,149.69L359.53,150.02L359.75,149.14L359.97,150.66L360.19,149.05L360.41,149.83L360.63,150.02L360.85,150.03L361.07,149.94L361.29,150.49L361.51,149.29L361.73,149.85L361.95,150.00L362.17,149.62L362.39,149.65L362.61,150.54L362.83,149.56L363.05,149.73L363.27,149.85L363.49,149.92L363.71,150.20L363.93,150.07L364.15,150.50L364.37,150.46L364.59,150.74L364.81,151.31L365.03,150.35L365.25,151.75L365.47,150.82L365.69,151.47L365.91,151.29L366.13,151.09L366.35,150.28L366.57,152.09L366.79,150.94L367.01,150.88L367.23,151.79L367.45,151.24L367.67,152.11L367.89,152.02L368.11,151.51L368.33,151.27L368.55,151.54L368.77,150.52L368.99,151.27L369.21,151.28" stroke="#0b4655" stroke-width="1.5"/>
<path d="M257.00,147.60L257.40,147.04L257.80,146.50L258.20,145.97L258.60,145.47L259.00,145.00L259.40,144.58L259.80,144.22L260.20,143.94L260.60,143.74L261.00,143.66L261.40,143.70L261.80,143.87L262.20,144.17L262.60,144.57L263.00,145.05L263.40,145.60L263.80,146.19L264.20,146.81L264.60,147.46L265.00,148.12L265.40,148.82L265.80,149.54L266.20,150.30L266.60,151.10L267.00,151.92L267.40,152.76L267.80,153.59L268.20,154.39L268.60,155.17L269.00,155.89L269.40,156.54L269.80,157.11L270.20,157.58L270.60,157.93L271.00,158.16L271.40,158.26L271.80,158.24L272.20,158.13L272.60,157.93L273.00,157.65L273.40,157.31L273.80,156.91L274.20,156.48L274.60,156.03L275.00,155.56L275.40,155.08L275.80,154.62L276.20,154.18L276.60,153.78L277.00,153.40L277.40,153.06L277.80,152.75L278.20,152.47L278.60,152.23L279.00,152.03L279.40,151.86L279.80,151.74L280.20,151.65L280.60,151.60L281.00,151.60L281.40,151.64L281.80,151.70L282.20,151.80L282.60,151.93L283.00,152.07L283.40,152.23L283.80,152.40L284.20,152.57L284.60,152.75L285.00,152.93L285.40,153.10L285.80,153.26L286.20,153.40L286.60,153.51L287.00,153.61L287.40,153.67L287.80,153.70L288.20,153.69L288.60,153.64L289.00,153.56L289.40,153.45L289.80,153.31L290.20,153.15L290.60,152.97L291.00,152.78L291.40,152.58L291.80,152.37L292.20,152.17L292.60,151.96L293.00,151.76L293.40,151.57L293.80,151.40L294.20,151.25L294.60,151.11L295.00,151.01L295.40,150.93L295.80,150.89L296.20,150.89L296.60,150.93L297.00,151.01L297.40,151.12L297.80,151.27L298.20,151.44L298.60,151.63L299.00,151.83L299.40,152.05L299.80,152.26L300.20,152.47L300.60,152.66L301.00,152.85L301.40,153.01L301.80,153.14L302.20,153.25L302.60,153.32L303.00,153.35L303.40,153.36L303.80,153.34L304.20,153.29L304.60,153.22L305.00,153.13L305.40,153.03L305.80,152.90L306.20,152.77L306.60,152.62L307.00,152.46L307.40,152.30L307.80,152.13L308.20,151.96L308.60,151.79L309.00,151.63L309.40,151.47L309.80,151.31L310.20,151.17L310.60,151.04L311.00,150.92L311.40,150.82L311.80,150.73L312.20,150.67L312.60,150.63L313.00,150.61L313.40,150.61L313.80,150.62L314.20,150.65L314.60,150.69L315.00,150.74L315.40,150.80L315.80,150.86L316.20,150.93L316.60,151.00L317.00,151.08L317.40,151.15L317.80,151.23L318.20,151.29L318.60,151.36L319.00,151.41L319.40,151.46L319.80,151.49L320.20,151.51L320.60,151.51L321.00,151.51L321.40,151.49L321.80,151.47L322.20,151.43L322.60,151.39L323.00,151.35L323.40,151.30L323.80,151.25L324.20,151.20L324.60,151.14L325.00,151.09L325.40,151.04L325.80,151.00L326.20,150.96L326.60,150.93L327.00,150.91L327.40,150.90L327.80,150.90L328.20,150.91L328.60,150.93L329.00,150.97L329.40,151.01L329.80,151.06L330.20,151.12L330.60,151.19L331.00,151.25L331.40,151.32L331.80,151.40L332.20,151.46L332.60,151.53L333.00,151.60L333.40,151.65L333.80,151.70L334.20,151.75L334.60,151.78L335.00,151.80L335.40,151.81L335.80,151.81L336.20,151.79L336.60,151.77L337.00,151.74L337.40,151.70L337.80,151.65L338.20,151.60L338.60,151.55L339.00,151.49L339.40,151.43L339.80,151.37L340.20,151.31L340.60,151.25L341.00,151.20L341.40,151.15L341.80,151.10L342.20,151.06L342.60,151.03L343.00,151.00L343.40,150.98L343.80,150.98L344.20,150.98L344.60,150.98L345.00,150.99L345.40,151.01L345.80,151.03L346.20,151.06L346.60,151.08L347.00,151.11L347.40,151.14L347.80,151.17L348.20,151.20L348.60,151.23L349.00,151.25L349.40,151.28L349.80,151.29L350.20,151.31L350.60,151.31L351.00,151.31L351.40,151.31L351.80,151.30L352.20,151.29L352.60,151.28L353.00,151.26L353.40,151.24L353.80,151.21L354.20,151.18L354.60,151.15L355.00,151.12L355.40,151.09L355.80,151.06L356.20,151.02L356.60,150.98L357.00,150.95L357.40,150.91L357.80,150.88L358.20,150.84L358.60,150.81L359.00,150.77L359.40,150.74L359.80,150.71L360.20,150.69L360.60,150.66L361.00,150.64L361.40,150.62L361.80,150.60L362.20,150.58L362.60,150.57L363.00,150.56L363.40,150.55L363.80,150.54L364.20,150.53L364.60,150.52L365.00,150.51L365.40,150.51L365.80,150.51L366.20,150.50L366.60,150.50L367.00,150.50L367.40,150.50L367.80,150.50L368.20,150.50L368.60,150.50L369.00,150.50" stroke="#166f1f" stroke-width="3.3" stroke-dasharray="12.6 5.2" stroke-dashoffset="4.5"/>
<path d="M249.10,163.34L249.32,163.77L249.54,163.75L249.76,163.37L249.98,163.42L250.20,163.49L250.42,163.23L250.64,163.37L250.86,163.39L251.08,163.80L251.30,163.95L251.52,163.49L251.74,163.53L251.96,163.66L252.18,163.47L252.40,163.53L252.50,163.60L252.55,163.47L252.60,164.52L252.65,164.82L252.70,162.57L252.75,157.16L252.80,149.57L252.85,149.74L252.90,153.51L252.95,159.14L253.00,164.60L253.05,178.97L253.10,194.87L253.15,211.86L253.20,228.47L253.25,230.43L253.30,230.06L253.35,227.47L253.40,223.01L253.45,217.30L253.50,211.18L253.55,205.69L253.60,201.97L253.65,201.09L253.70,203.73L253.75,209.87L253.80,218.50L253.85,227.59L253.90,234.49L253.95,236.71L254.00,233.04L254.05,224.30L254.10,213.41L254.15,204.45L254.20,201.00L254.25,204.60L254.30,214.03L254.35,224.95L254.40,233.43L254.45,236.81L254.50,234.55L254.55,227.94L254.60,219.30L254.65,211.00L254.70,204.78L254.75,201.50L254.80,201.23L254.85,203.43L254.90,207.29L254.95,211.90L255.00,216.39L255.05,219.53L255.10,221.97L255.15,222.85L255.20,221.43L255.25,217.17L255.30,210.03L255.35,201.68L255.40,193.42L255.45,187.08L255.50,184.29L255.55,185.93L255.60,191.58L255.65,199.43L255.70,206.66L255.75,210.98L255.80,210.21L255.85,204.34L255.90,195.37L255.95,186.52L256.00,180.84L256.05,180.07L256.10,183.99L256.15,190.83L256.20,198.14L256.25,203.69L256.30,206.12L256.35,205.11L256.40,201.20L256.45,195.42L256.50,188.98L256.55,182.96L256.60,178.21L256.65,175.30L256.70,174.51L256.75,175.88L256.80,179.15L256.85,183.85L256.90,189.23L256.95,194.31L257.00,197.99L257.05,199.21L257.10,197.33L257.15,192.51L257.20,185.76L257.25,178.86L257.30,173.88L257.35,172.48L257.40,175.16L257.45,180.92L257.50,187.56L257.55,192.53L257.60,194.00L257.65,191.50L257.70,186.26L257.75,180.29L257.80,175.54L257.85,173.24L257.90,173.62L257.95,176.07L258.00,179.55L258.05,183.01L258.10,185.66L258.15,187.07L258.20,187.14L258.25,186.05L258.30,184.11L258.35,181.17L258.40,178.43L258.45,176.24L258.50,174.78L258.55,174.09L258.60,174.01L258.70,174.01L258.92,174.31L259.14,174.06L259.36,173.27L259.58,172.85L259.80,170.86L260.02,170.36L260.24,169.25L260.46,168.92L260.68,168.85L260.90,168.41L261.12,168.65L261.34,168.47L261.56,167.94L261.78,167.80L262.00,169.42L262.22,169.17L262.44,170.34L262.66,170.21L262.88,170.33L263.10,171.35L263.32,171.51L263.54,172.15L263.76,172.25L263.98,173.40L264.20,174.15L264.42,174.11L264.64,175.68L264.86,175.44L265.08,176.47L265.30,176.43L265.52,177.08L265.74,179.45L265.96,179.88L266.18,180.52L266.40,180.03L266.62,181.41L266.84,182.08L267.06,182.49L267.28,183.10L267.50,183.17L267.72,183.97L267.94,184.08L268.16,184.92L268.38,185.77L268.60,185.83L268.82,186.54L269.04,186.95L269.26,187.65L269.48,188.43L269.70,188.61L269.92,189.01L270.14,188.54L270.36,189.19L270.58,189.82L270.80,189.25L271.02,189.42L271.24,189.17L271.46,190.00L271.68,189.17L271.90,188.83L272.12,189.05L272.34,188.94L272.56,188.34L272.78,188.11L273.00,187.36L273.22,186.74L273.44,186.19L273.66,185.70L273.88,185.20L274.10,185.21L274.32,184.63L274.54,184.40L274.76,184.33L274.98,183.80L275.20,183.08L275.42,183.13L275.64,182.83L275.86,182.37L276.08,183.01L276.30,182.32L276.52,182.12L276.74,182.06L276.96,182.63L277.18,181.99L277.40,182.33L277.62,181.71L277.84,181.41L278.06,181.61L278.28,181.49L278.50,181.17L278.72,180.58L278.94,180.71L279.16,180.34L279.38,180.69L279.60,180.82L279.82,181.38L280.04,181.42L280.26,181.20L280.48,181.42L280.70,181.26L280.92,182.43L281.14,182.08L281.36,182.71L281.58,182.04L281.80,182.23L282.02,182.71L282.24,182.62L282.46,182.96L282.68,182.70L282.90,183.72L283.12,183.66L283.34,184.25L283.56,184.15L283.78,183.82L284.00,185.01L284.22,185.50L284.44,184.71L284.66,185.00L284.88,185.43L285.10,185.51L285.32,184.97L285.54,186.34L285.76,186.00L285.98,185.22L286.20,184.58L286.42,185.30L286.64,185.77L286.86,185.10L287.08,185.03L287.30,184.02L287.52,184.28L287.74,183.39L287.96,184.57L288.18,183.82L288.40,182.58L288.62,182.47L288.84,183.27L289.06,182.96L289.28,182.58L289.50,182.70L289.72,183.07L289.94,182.14L290.16,180.95L290.38,181.30L290.60,180.52L290.82,180.37L291.04,180.47L291.26,179.91L291.48,179.18L291.70,179.23L291.92,178.61L292.14,178.92L292.36,178.42L292.58,178.48L292.80,178.10L293.02,178.43L293.24,178.05L293.46,178.07L293.68,177.87L293.90,178.19L294.12,177.48L294.34,179.30L294.56,178.02L294.78,178.42L295.00,178.23L295.22,178.27L295.44,178.70L295.66,178.42L295.88,178.60L296.10,178.34L296.32,178.68L296.54,178.79L296.76,180.21L296.98,179.17L297.20,179.55L297.42,180.32L297.64,181.09L297.86,180.15L298.08,180.51L298.30,181.48L298.52,181.79L298.74,181.32L298.96,181.35L299.18,181.85L299.40,182.67L299.62,182.48L299.84,182.96L300.06,182.73L300.28,182.86L300.50,183.24L300.72,183.09L300.94,183.38L301.16,183.07L301.38,183.38L301.60,184.01L301.82,183.91L302.04,183.84L302.26,184.50L302.48,184.50L302.70,184.30L302.92,183.96L303.14,184.57L303.36,185.07L303.58,183.61L303.80,183.14L304.02,183.20L304.24,182.88L304.46,182.46L304.68,182.27L304.90,182.88L305.12,182.62L305.34,182.67L305.56,182.16L305.78,181.43L306.00,181.83L306.22,180.92L306.44,180.82L306.66,180.25L306.88,180.96L307.10,180.61L307.32,179.73L307.54,179.51L307.76,179.40L307.98,179.24L308.20,179.26L308.42,178.80L308.64,178.85L308.86,178.05L309.08,178.53L309.30,177.94L309.52,179.43L309.74,179.40L309.96,179.24L310.18,179.51L310.40,180.01L310.62,179.68L310.84,178.79L311.06,179.44L311.28,178.67L311.50,179.38L311.72,179.24L311.94,179.85L312.16,180.13L312.38,179.71L312.60,180.07L312.82,180.45L313.04,180.39L313.26,180.49L313.48,179.73L313.70,180.64L313.92,181.25L314.14,181.16L314.36,180.55L314.58,181.15L314.80,181.47L315.02,181.09L315.24,181.84L315.46,181.36L315.68,181.65L315.90,181.90L316.12,182.94L316.34,182.12L316.56,182.14L316.78,182.81L317.00,182.47L317.22,182.91L317.44,182.04L317.66,183.18L317.88,183.12L318.10,182.63L318.32,183.73L318.54,183.07L318.76,183.03L318.98,182.51L319.20,182.26L319.42,182.57L319.64,182.04L319.86,182.77L320.08,182.80L320.30,182.11L320.52,181.59L320.74,182.02L320.96,181.63L321.18,182.01L321.40,181.91L321.62,181.54L321.84,181.58L322.06,181.81L322.28,181.94L322.50,180.90L322.72,181.25L322.94,180.71L323.16,180.23L323.38,181.00L323.60,180.49L323.82,180.27L324.04,180.23L324.26,179.87L324.48,179.34L324.70,180.31L324.92,179.79L325.14,179.41L325.36,179.59L325.58,179.62L325.80,178.97L326.02,179.24L326.24,178.90L326.46,179.32L326.68,179.01L326.90,180.14L327.12,179.13L327.34,179.57L327.56,179.62L327.78,179.42L328.00,180.01L328.22,179.69L328.44,179.65L328.66,179.89L328.88,179.74L329.10,180.69L329.32,180.63L329.54,180.91L329.76,180.17L329.98,180.97L330.20,180.74L330.42,181.25L330.64,181.86L330.86,181.59L331.08,181.50L331.30,182.08L331.52,182.05L331.74,182.38L331.96,180.86L332.18,181.70L332.40,181.33L332.62,181.11L332.84,181.44L333.06,180.86L333.28,180.40L333.50,180.83L333.72,181.02L333.94,181.83L334.16,180.81L334.38,180.60L334.60,180.30L334.82,180.97L335.04,181.03L335.26,181.21L335.48,180.61L335.70,180.93L335.92,180.36L336.14,181.37L336.36,180.68L336.58,180.20L336.80,181.74L337.02,181.40L337.24,181.28L337.46,181.19L337.68,180.56L337.90,181.33L338.12,180.42L338.34,181.52L338.56,180.77L338.78,179.86L339.00,180.86L339.22,181.21L339.44,180.25L339.66,180.68L339.88,180.06L340.10,179.72L340.32,178.77L340.54,180.13L340.76,179.29L340.98,179.47L341.20,178.75L341.42,178.74L341.64,179.50L341.86,178.84L342.08,178.81L342.30,178.46L342.52,179.11L342.74,179.38L342.96,178.96L343.18,179.14L343.40,178.77L343.62,179.89L343.84,179.09L344.06,179.27L344.28,180.01L344.50,179.26L344.72,178.75L344.94,178.99L345.16,179.24L345.38,180.12L345.60,179.51L345.82,179.36L346.04,179.82L346.26,180.06L346.48,179.29L346.70,180.22L346.92,180.07L347.14,179.92L347.36,178.82L347.58,179.82L347.80,180.24L348.02,179.58L348.24,180.56L348.46,179.66L348.68,179.22L348.90,179.86L349.12,179.75L349.34,179.99L349.56,179.65L349.78,180.31L350.00,179.66L350.22,180.03L350.44,179.59L350.66,179.87L350.88,180.33L351.10,179.98L351.32,180.09L351.54,180.13L351.76,180.28L351.98,180.43L352.20,180.37L352.42,180.44L352.64,179.98L352.86,179.62L353.08,179.09L353.30,179.51L353.52,179.30L353.74,178.84L353.96,180.22L354.18,178.76L354.40,179.62L354.62,179.71L354.84,179.44L355.06,180.58L355.28,179.57L355.50,179.32L355.72,180.47L355.94,179.50L356.16,179.32L356.38,179.57L356.60,179.76L356.82,180.07L357.04,180.18L357.26,179.42L357.48,180.09L357.70,180.78L357.92,179.45L358.14,179.49L358.36,179.69L358.58,179.73L358.80,178.84L359.02,178.56L359.24,178.39L359.46,179.13L359.68,179.02L359.90,177.77L360.12,177.80L360.34,178.16L360.56,178.09L360.78,178.89L361.00,178.86L361.22,179.60L361.44,179.07L361.66,178.79L361.88,179.18L362.10,178.23L362.32,177.90L362.54,178.33L362.76,178.58L362.98,177.40L363.20,178.29L363.42,178.19L363.64,177.58L363.86,177.84L364.08,177.69L364.30,177.86L364.52,178.24L364.74,177.68L364.96,178.56L365.18,178.61L365.40,178.75L365.62,177.69L365.84,177.81L366.06,178.91L366.28,178.37L366.50,178.30L366.72,178.24L366.94,177.97L367.16,178.32L367.38,178.07L367.60,177.99L367.82,178.38L368.04,177.63L368.26,178.55L368.48,177.14L368.70,179.05L368.92,177.51L369.14,178.34" stroke="#000000" stroke-width="1.5"/>
<path d="M258.20,180.20L258.60,177.46L259.00,174.86L259.40,172.52L259.80,170.59L260.20,169.13L260.60,168.11L261.00,167.54L261.40,167.40L261.80,167.66L262.20,168.26L262.60,169.12L263.00,170.15L263.40,171.29L263.80,172.46L264.20,173.67L264.60,174.90L265.00,176.13L265.40,177.38L265.80,178.62L266.20,179.85L266.60,181.05L267.00,182.21L267.40,183.32L267.80,184.37L268.20,185.34L268.60,186.22L269.00,187.00L269.40,187.67L269.80,188.21L270.20,188.61L270.60,188.86L271.00,188.95L271.40,188.89L271.80,188.68L272.20,188.36L272.60,187.94L273.00,187.44L273.40,186.87L273.80,186.25L274.20,185.61L274.60,184.95L275.00,184.30L275.40,183.67L275.80,183.07L276.20,182.51L276.60,182.00L277.00,181.54L277.40,181.14L277.80,180.81L278.20,180.55L278.60,180.38L279.00,180.30L279.40,180.31L279.80,180.43L280.20,180.63L280.60,180.91L281.00,181.25L281.40,181.63L281.80,182.05L282.20,182.50L282.60,182.95L283.00,183.40L283.40,183.83L283.80,184.22L284.20,184.58L284.60,184.88L285.00,185.11L285.40,185.25L285.80,185.30L286.20,185.25L286.60,185.11L287.00,184.88L287.40,184.58L287.80,184.21L288.20,183.79L288.60,183.33L289.00,182.84L289.40,182.33L289.80,181.80L290.20,181.27L290.60,180.75L291.00,180.24L291.40,179.77L291.80,179.33L292.20,178.94L292.60,178.61L293.00,178.34L293.40,178.16L293.80,178.06L294.20,178.06L294.60,178.13L295.00,178.28L295.40,178.49L295.80,178.76L296.20,179.07L296.60,179.43L297.00,179.81L297.40,180.22L297.80,180.64L298.20,181.07L298.60,181.50L299.00,181.91L299.40,182.31L299.80,182.67L300.20,183.01L300.60,183.29L301.00,183.53L301.40,183.70L301.80,183.81L302.20,183.85L302.60,183.83L303.00,183.76L303.40,183.64L303.80,183.48L304.20,183.29L304.60,183.06L305.00,182.80L305.40,182.53L305.80,182.24L306.20,181.94L306.60,181.64L307.00,181.33L307.40,181.04L307.80,180.76L308.20,180.49L308.60,180.25L309.00,180.03L309.40,179.85L309.80,179.71L310.20,179.62L310.60,179.57L311.00,179.57L311.40,179.62L311.80,179.70L312.20,179.82L312.60,179.96L313.00,180.13L313.40,180.32L313.80,180.53L314.20,180.74L314.60,180.96L315.00,181.19L315.40,181.40L315.80,181.61L316.20,181.80L316.60,181.98L317.00,182.13L317.40,182.25L317.80,182.34L318.20,182.39L318.60,182.40L319.00,182.37L319.40,182.31L319.80,182.21L320.20,182.09L320.60,181.94L321.00,181.77L321.40,181.59L321.80,181.40L322.20,181.20L322.60,181.00L323.00,180.80L323.40,180.61L323.80,180.43L324.20,180.27L324.60,180.13L325.00,180.01L325.40,179.92L325.80,179.86L326.20,179.83L326.60,179.83L327.00,179.86L327.40,179.91L327.80,179.98L328.20,180.07L328.60,180.17L329.00,180.28L329.40,180.40L329.80,180.53L330.20,180.66L330.60,180.78L331.00,180.90L331.40,181.02L331.80,181.13L332.20,181.22L332.60,181.30L333.00,181.36L333.40,181.39L333.80,181.41L334.20,181.40L334.60,181.37L335.00,181.32L335.40,181.25L335.80,181.16L336.20,181.07L336.60,180.96L337.00,180.85L337.40,180.73L337.80,180.60L338.20,180.47L338.60,180.34L339.00,180.22L339.40,180.10L339.80,179.98L340.20,179.88L340.60,179.78L341.00,179.70L341.40,179.63L341.80,179.58L342.20,179.54L342.60,179.51L343.00,179.49L343.40,179.48L343.80,179.49L344.20,179.50L344.60,179.51L345.00,179.53L345.40,179.56L345.80,179.59L346.20,179.63L346.60,179.66L347.00,179.70L347.40,179.74L347.80,179.77L348.20,179.81L348.60,179.84L349.00,179.86L349.40,179.88L349.80,179.90L350.20,179.90L350.60,179.90L351.00,179.89L351.40,179.88L351.80,179.86L352.20,179.83L352.60,179.80L353.00,179.76L353.40,179.72L353.80,179.68L354.20,179.63L354.60,179.58L355.00,179.52L355.40,179.46L355.80,179.41L356.20,179.35L356.60,179.29L357.00,179.23L357.40,179.16L357.80,179.10L358.20,179.04L358.60,178.99L359.00,178.93L359.40,178.88L359.80,178.82L360.20,178.78L360.60,178.73L361.00,178.69L361.40,178.65L361.80,178.62L362.20,178.58L362.60,178.55L363.00,178.53L363.40,178.50L363.80,178.48L364.20,178.46L364.60,178.44L365.00,178.42L365.40,178.40L365.80,178.39L366.20,178.38L366.60,178.36L367.00,178.35L367.40,178.34L367.80,178.33L368.20,178.32L368.60,178.31L369.00,178.31" stroke="#12123a" stroke-width="3.3" stroke-dasharray="12.6 5.2" stroke-dashoffset="0"/>
</g>
<rect x="31.90" y="17.60" width="126.20" height="191.00" fill="none" stroke="#161616" stroke-width="0.72"/>
<rect x="243.90" y="17.60" width="130.40" height="192.40" fill="none" stroke="#161616" stroke-width="0.72"/>
<path d="M31.90,190.70h-2.60M31.90,156.27h-2.60M31.90,121.85h-2.60M31.90,87.42h-2.60M31.90,53.00h-2.60M31.90,18.57h-2.60M40.80,208.60v2.60M58.76,208.60v2.60M76.72,208.60v2.60M94.68,208.60v2.60M112.64,208.60v2.60M130.60,208.60v2.60M148.56,208.60v2.60M243.90,209.90h-2.60M243.90,179.85h-2.60M243.90,149.80h-2.60M243.90,119.75h-2.60M243.90,89.70h-2.60M243.90,59.65h-2.60M243.90,29.60h-2.60M249.70,210.00v2.60M294.30,210.00v2.60M338.90,210.00v2.60" stroke="#161616" stroke-width="0.72" fill="none"/>
<g text-anchor="end">
<text x="27.4" y="194.65">0</text>
<text x="27.4" y="160.22">5</text>
<text x="27.4" y="125.80">10</text>
<text x="27.4" y="91.38">15</text>
<text x="27.4" y="56.95">20</text>
<text x="27.4" y="22.52">25</text>
<text x="239.4" y="213.85">−0.5</text>
<text x="239.4" y="183.80">0.0</text>
<text x="239.4" y="153.75">0.5</text>
<text x="239.4" y="123.70">1.0</text>
<text x="239.4" y="93.65">1.5</text>
<text x="239.4" y="63.60">2.0</text>
<text x="239.4" y="33.55">2.5</text>
</g>
<g text-anchor="middle">
<text x="40.80" y="221.8">0</text>
<text x="58.76" y="221.8">2</text>
<text x="76.72" y="221.8">4</text>
<text x="94.68" y="221.8">6</text>
<text x="112.64" y="221.8">8</text>
<text x="130.60" y="221.8">10</text>
<text x="148.56" y="221.8">12</text>
<text x="249.70" y="223.0">0</text>
<text x="294.30" y="223.0">50</text>
<text x="338.90" y="223.0">100</text>
<text x="95.2" y="234.7">Time (ps)</text>
<text x="309.5" y="235.6">Time (ps)</text>
<text transform="translate(9.9,112.6) rotate(-90)">Δ<tspan font-style="italic">θ</tspan>(<tspan font-style="italic">t</tspan>) (mdeg) + offset</text>
<text transform="translate(213.1,113.7) rotate(-90)">Δ<tspan font-style="italic">θ</tspan>(<tspan font-style="italic">t</tspan>) (mdeg)+ offset</text>
</g>
<rect x="135.40" y="23.30" width="54.90" height="122.00" rx="2.2" ry="2.2" fill="#fff" fill-opacity="0.8" stroke="#ccc" stroke-opacity="0.8" stroke-width="1"/>
<g text-anchor="middle"><text x="161.6" y="35.3">Pump</text><text x="160.5" y="47.0">angle</text></g>
<path d="M139.5,58.70h12.2" stroke="#800000" stroke-width="1.55" fill="none"/>
<text x="159.6" y="62.35">225<tspan dx="2.2" dy="-2.4" font-size="7.5" stroke-width="0.12">°</tspan></text>
<path d="M139.5,74.00h12.2" stroke="#ff6800" stroke-width="1.55" fill="none"/>
<text x="159.6" y="77.65">195<tspan dx="2.2" dy="-2.4" font-size="7.5" stroke-width="0.12">°</tspan></text>
<path d="M139.5,89.30h12.2" stroke="#ceff29" stroke-width="1.55" fill="none"/>
<text x="159.6" y="92.95">165<tspan dx="2.2" dy="-2.4" font-size="7.5" stroke-width="0.12">°</tspan></text>
<path d="M139.5,104.60h12.2" stroke="#29ffce" stroke-width="1.55" fill="none"/>
<text x="159.6" y="108.25">135<tspan dx="2.2" dy="-2.4" font-size="7.5" stroke-width="0.12">°</tspan></text>
<path d="M139.5,119.90h12.2" stroke="#004cff" stroke-width="1.55" fill="none"/>
<text x="159.6" y="123.55">105<tspan dx="2.2" dy="-2.4" font-size="7.5" stroke-width="0.12">°</tspan></text>
<path d="M139.5,135.20h12.2" stroke="#000080" stroke-width="1.55" fill="none"/>
<text x="159.6" y="138.85">75<tspan dx="2.2" dy="-2.4" font-size="7.5" stroke-width="0.12">°</tspan></text>
<rect x="380.40" y="23.60" width="65.40" height="156.40" rx="2.2" ry="2.2" fill="#fff" fill-opacity="0.8" stroke="#ccc" stroke-opacity="0.8" stroke-width="1"/>
<text x="401.6" y="35.1" font-style="italic">H<tspan dy="2.3" font-size="8">app</tspan></text>
<path d="M383.8,47.70h12.0" stroke="#b9b0f2" stroke-width="1.50" fill="none"/>
<text x="404.0" y="51.80" letter-spacing="-0.16">-2.2 kG</text>
<path d="M384.3,63.00h10.8" stroke="#b6e3e8" stroke-width="3.30" fill="none"/>
<text x="404.0" y="67.10" letter-spacing="-0.16">Fit</text>
<path d="M383.8,78.30h12.0" stroke="#d46fca" stroke-width="1.50" fill="none"/>
<text x="404.0" y="82.40" letter-spacing="-0.16">0 kG</text>
<path d="M383.8,93.60h12.0" stroke="#6f7d1f" stroke-width="1.50" fill="none"/>
<text x="404.0" y="97.70" letter-spacing="-0.16">+1.3 kG</text>
<path d="M384.3,108.90h10.8" stroke="#cf7169" stroke-width="3.30" fill="none"/>
<text x="404.0" y="113.00" letter-spacing="-0.16">Fit</text>
<path d="M383.8,124.20h12.0" stroke="#0b4655" stroke-width="1.50" fill="none"/>
<text x="404.0" y="128.30" letter-spacing="-0.16">+1.7 kG</text>
<path d="M384.3,139.50h10.8" stroke="#166f1f" stroke-width="3.30" fill="none"/>
<text x="404.0" y="143.60" letter-spacing="-0.16">Fit</text>
<path d="M383.8,154.80h12.0" stroke="#000000" stroke-width="1.50" fill="none"/>
<text x="404.0" y="158.90" letter-spacing="-0.16">+2.2 kG</text>
<path d="M384.3,170.10h10.8" stroke="#12123a" stroke-width="3.30" fill="none"/>
<text x="404.0" y="174.20" letter-spacing="-0.16">Fit</text>
</svg>
</body></html>
